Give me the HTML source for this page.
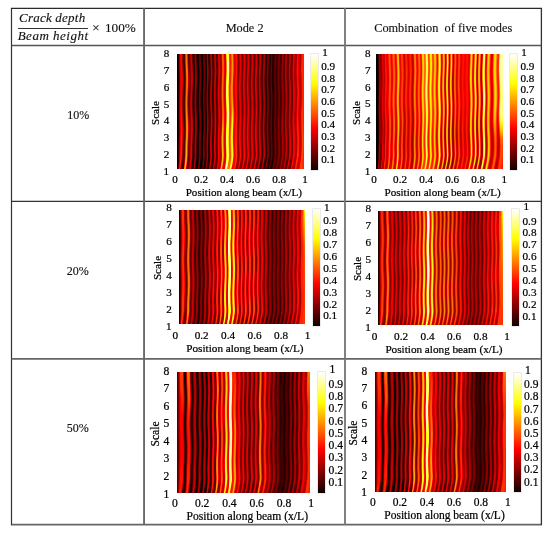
<!DOCTYPE html>
<html><head><meta charset="utf-8"><title>Table</title><style>
html,body{margin:0;padding:0;background:#fff;}
body{width:550px;height:538px;position:relative;overflow:hidden;font-family:"Liberation Serif",serif;color:#1a1a1a;}
.a{position:absolute;}
.ln{position:absolute;background:#3a3a3a;}
.t{position:absolute;white-space:pre;line-height:1;color:#111;-webkit-text-stroke:0.15px #222;}
.hm{overflow:hidden;filter:blur(0.3px)}.hm i{position:absolute;left:0;width:100%;display:block}
.tk{position:absolute;white-space:pre;line-height:1;font-size:10.5px;color:#000;-webkit-text-stroke:0.22px #000;}
</style></head><body>
<svg class="a" style="left:0;top:0" width="550" height="538" viewBox="0 0 550 538"><line x1="10.9" y1="8.35" x2="542.05" y2="8.35" stroke="#2a2a2a" stroke-width="1.15"/><line x1="10.9" y1="524.7" x2="542.05" y2="524.7" stroke="#666" stroke-width="1.7"/><line x1="11.5" y1="8.35" x2="11.5" y2="524.7" stroke="#333" stroke-width="1.2"/><line x1="541.4" y1="8.35" x2="541.4" y2="524.7" stroke="#333" stroke-width="1.3"/><line x1="11.5" y1="45.6" x2="541.4" y2="45.6" stroke="#555" stroke-width="1.5"/><line x1="11.5" y1="201.4" x2="541.4" y2="201.4" stroke="#333" stroke-width="1.2"/><line x1="11.5" y1="358.9" x2="541.4" y2="358.9" stroke="#666" stroke-width="1.8"/><line x1="144.05" y1="8.35" x2="144.05" y2="524.7" stroke="#666" stroke-width="1.85"/><line x1="345.0" y1="8.35" x2="345.0" y2="524.7" stroke="#777" stroke-width="1.85"/></svg>
<div class="t" style="left:244.6px;top:21.76px;font-size:12.3px;transform:translateX(-50%);">Mode 2</div>
<div class="t" style="left:443.2px;top:21.56px;font-size:12.3px;transform:translateX(-50%);">Combination  of five modes</div>
<div class="t" style="left:78.3px;top:109.01px;font-size:12px;transform:translateX(-50%);">10%</div>
<div class="t" style="left:77.8px;top:264.71px;font-size:12px;transform:translateX(-50%);">20%</div>
<div class="t" style="left:77.8px;top:421.91px;font-size:12px;transform:translateX(-50%);">50%</div>
<div class="t" style="left:52.2px;top:10.99px;font-size:13px;transform:translateX(-50%);font-style:italic;letter-spacing:0.22px;">Crack depth</div>
<div class="t" style="left:53.1px;top:29.09px;font-size:13px;transform:translateX(-50%);font-style:italic;letter-spacing:0.5px;">Beam height</div>
<div class="ln" style="left:17.9px;top:27.5px;width:70.2px;height:1.0px;background:#333"></div>
<div class="t" style="left:92.3px;top:21.39px;font-size:13px;">×</div>
<div class="t" style="left:105.0px;top:21.23px;font-size:13.2px;">100%</div>
<div class="a hm" style="left:177.3px;top:54.0px;width:126.8px;height:115.0px"><i style="top:0.00px;height:116.05px;background:linear-gradient(90deg,#000,#000,#100,#200,#500,#900,#c00,#e00,#f00,#f00,#d00,#900,#500,#300,#300,#500,#b00,#f20,#f70,#f70,#f60,#f00,#900,#600,#600,#600,#800,#b00,#c00,#c00,#a00,#500,#200,#100,#200,#600,#900,#900,#800,#400,#100,#000,#000,#200,#500,#700,#700,#500,#200,#000,#000,#100,#400,#600,#700,#500,#100,#100,#100,#600,#900,#900,#600,#200,#200,#200,#600,#a00,#b00,#a00,#600,#300,#300,#400,#800,#c00,#c00,#a00,#600,#400,#400,#600,#b00,#e00,#d00,#c00,#a00,#900,#900,#d00,#f40,#f60,#f50,#f30,#f00,#d00,#c00,#d00,#f50,#ff0,#ffa,#ffb,#ffa,#ff1,#f70,#f20,#f10,#f20,#f40,#f70,#f90,#f90,#f60,#f10,#d00,#d00,#d00,#f00,#f10,#f10,#f00,#a00,#700,#700,#800,#b00,#e00,#e00,#c00,#800,#600,#600,#700,#b00,#e00,#e00,#c00,#900,#600,#600,#800,#b00,#e00,#d00,#b00,#700,#500,#500,#700,#a00,#d00,#d00,#c00,#800,#600,#500,#600,#900,#c00,#d00,#c00,#800,#400,#400,#500,#900,#c00,#c00,#900,#500,#300,#300,#400,#700,#a00,#a00,#900,#400,#200,#200,#300,#600,#800,#700,#500,#200,#100,#200,#400,#500,#600,#400,#200,#100,#200,#300,#600,#600,#500,#400,#300,#300,#400,#600,#700,#700,#600,#400,#400,#400,#700,#900,#900,#800,#600,#500,#500,#800,#a00,#b00,#900,#600,#500,#500,#600,#a00,#c00,#c00,#900,#600,#600,#600,#a00,#d00,#e00,#d00,#b00,#900,#900,#900,#c00,#f00,#f10,#f00,#e00,#c00,#b00,#b00,#c00,#e00,#f20,#f20,#f20,#f20,#f20)"></i><i style="top:0.00px;height:116.05px;-webkit-mask-image:linear-gradient(180deg,transparent 0.00px,#000 8.39px);mask-image:linear-gradient(180deg,transparent 0.00px,#000 8.39px);background:linear-gradient(90deg,#000,#000,#000,#200,#500,#900,#c00,#e00,#f00,#f00,#d00,#900,#500,#300,#300,#400,#900,#f10,#f60,#f70,#f70,#f20,#b00,#600,#600,#600,#700,#a00,#c00,#c00,#c00,#700,#200,#100,#200,#400,#800,#900,#900,#600,#200,#000,#000,#100,#300,#600,#700,#600,#400,#100,#000,#000,#200,#500,#700,#700,#400,#100,#100,#200,#700,#900,#800,#400,#200,#200,#300,#700,#b00,#b00,#900,#500,#300,#300,#500,#900,#c00,#c00,#900,#500,#400,#400,#700,#c00,#e00,#d00,#b00,#900,#900,#a00,#f00,#f50,#f60,#f50,#f20,#e00,#d00,#c00,#f00,#f80,#ff3,#ffb,#ffb,#ff8,#fd0,#f50,#f10,#f10,#f30,#f50,#f80,#f90,#f80,#f40,#f00,#d00,#d00,#e00,#f00,#f10,#f10,#d00,#900,#700,#700,#a00,#d00,#e00,#d00,#a00,#700,#600,#600,#900,#d00,#e00,#d00,#a00,#700,#600,#700,#a00,#d00,#e00,#c00,#800,#600,#500,#600,#900,#d00,#d00,#c00,#900,#600,#500,#600,#900,#c00,#d00,#c00,#800,#400,#400,#500,#900,#c00,#c00,#900,#500,#300,#300,#500,#800,#a00,#a00,#800,#300,#200,#200,#400,#700,#800,#700,#400,#200,#100,#200,#500,#600,#500,#300,#200,#100,#200,#500,#600,#600,#500,#400,#300,#400,#500,#700,#700,#700,#500,#400,#400,#500,#800,#900,#900,#700,#500,#500,#600,#a00,#b00,#a00,#700,#500,#500,#600,#900,#c00,#c00,#a00,#700,#600,#600,#800,#d00,#e00,#e00,#b00,#900,#900,#900,#b00,#f00,#f10,#f10,#e00,#c00,#b00,#b00,#b00,#e00,#f10,#f20,#f20,#f20,#f20,#f20)"></i><i style="top:8.00px;height:108.05px;-webkit-mask-image:linear-gradient(180deg,transparent 0.39px,#000 8.77px);mask-image:linear-gradient(180deg,transparent 0.39px,#000 8.77px);background:linear-gradient(90deg,#000,#000,#000,#200,#400,#800,#b00,#d00,#f00,#f00,#f00,#c00,#800,#500,#300,#300,#600,#b00,#f30,#f70,#f70,#f60,#f00,#900,#600,#600,#600,#800,#a00,#c00,#c00,#b00,#600,#200,#100,#200,#500,#800,#900,#800,#500,#100,#000,#000,#100,#400,#600,#700,#600,#300,#000,#000,#000,#300,#600,#700,#600,#200,#100,#100,#400,#900,#900,#700,#300,#200,#200,#400,#900,#b00,#b00,#700,#300,#300,#300,#700,#b00,#c00,#b00,#700,#400,#400,#600,#b00,#e00,#e00,#c00,#a00,#900,#900,#d00,#f40,#f60,#f50,#f30,#f00,#d00,#c00,#e00,#f70,#ff2,#ffb,#ffb,#ff9,#fe0,#f50,#f20,#f20,#f30,#f60,#f80,#f90,#f80,#f40,#e00,#d00,#d00,#e00,#f00,#f10,#f10,#c00,#800,#700,#800,#a00,#d00,#e00,#d00,#900,#600,#600,#700,#b00,#e00,#e00,#c00,#800,#600,#600,#800,#c00,#e00,#d00,#a00,#700,#500,#500,#800,#b00,#d00,#d00,#a00,#700,#500,#500,#700,#b00,#d00,#d00,#a00,#500,#400,#500,#800,#c00,#c00,#a00,#600,#300,#300,#400,#700,#a00,#a00,#900,#500,#200,#200,#300,#600,#800,#700,#500,#200,#100,#200,#400,#600,#600,#400,#200,#100,#200,#400,#600,#600,#500,#400,#300,#300,#500,#600,#700,#700,#500,#400,#400,#500,#700,#900,#900,#700,#500,#500,#600,#800,#b00,#b00,#900,#600,#500,#500,#700,#b00,#c00,#c00,#800,#600,#600,#700,#a00,#e00,#e00,#d00,#a00,#900,#900,#a00,#d00,#f10,#f10,#f00,#e00,#c00,#b00,#b00,#c00,#e00,#f20,#f20,#f20,#f20,#f20,#f20)"></i><i style="top:16.00px;height:100.05px;-webkit-mask-image:linear-gradient(180deg,transparent 0.77px,#000 9.16px);mask-image:linear-gradient(180deg,transparent 0.77px,#000 9.16px);background:linear-gradient(90deg,#000,#000,#000,#200,#400,#700,#a00,#c00,#e00,#f00,#f00,#e00,#a00,#600,#400,#300,#400,#800,#f00,#f50,#f70,#f70,#f30,#c00,#700,#600,#600,#700,#a00,#c00,#c00,#c00,#700,#300,#100,#200,#400,#800,#900,#900,#600,#200,#000,#000,#100,#400,#600,#700,#600,#300,#000,#000,#000,#300,#600,#700,#600,#200,#100,#100,#500,#900,#900,#600,#200,#200,#200,#500,#a00,#b00,#a00,#600,#300,#300,#400,#900,#c00,#c00,#900,#500,#400,#400,#800,#c00,#e00,#d00,#b00,#900,#900,#b00,#f20,#f60,#f60,#f40,#f10,#d00,#c00,#d00,#f30,#fd0,#ff9,#ffb,#ffb,#ff3,#f80,#f20,#f20,#f20,#f50,#f70,#f90,#f90,#f50,#f00,#d00,#d00,#e00,#f00,#f10,#f10,#d00,#900,#700,#700,#a00,#d00,#e00,#d00,#a00,#700,#600,#700,#a00,#d00,#e00,#d00,#900,#600,#600,#700,#b00,#d00,#e00,#b00,#700,#500,#500,#700,#a00,#d00,#d00,#b00,#800,#500,#500,#600,#a00,#d00,#d00,#b00,#700,#400,#400,#600,#a00,#c00,#b00,#800,#400,#300,#300,#500,#900,#a00,#a00,#700,#300,#200,#200,#400,#700,#800,#700,#300,#100,#100,#200,#500,#600,#500,#300,#200,#100,#200,#400,#600,#600,#500,#400,#300,#300,#500,#700,#700,#700,#500,#400,#400,#500,#700,#900,#900,#800,#500,#500,#500,#800,#b00,#b00,#900,#600,#500,#500,#700,#b00,#c00,#c00,#900,#600,#600,#600,#900,#d00,#e00,#d00,#b00,#900,#900,#900,#b00,#f00,#f10,#f10,#e00,#c00,#b00,#b00,#b00,#d00,#f00,#f20,#f20,#f20,#f20,#f20)"></i><i style="top:25.00px;height:91.05px;-webkit-mask-image:linear-gradient(180deg,transparent 0.16px,#000 8.54px);mask-image:linear-gradient(180deg,transparent 0.16px,#000 8.54px);background:linear-gradient(90deg,#000,#000,#000,#200,#400,#700,#a00,#d00,#e00,#f00,#f00,#d00,#900,#500,#300,#300,#500,#a00,#f20,#f60,#f70,#f60,#f10,#a00,#600,#600,#600,#800,#b00,#c00,#c00,#a00,#500,#100,#100,#300,#600,#900,#900,#700,#300,#000,#000,#000,#300,#600,#700,#700,#400,#100,#000,#000,#200,#500,#700,#700,#300,#100,#100,#300,#800,#900,#700,#300,#200,#200,#400,#900,#b00,#b00,#700,#300,#300,#400,#800,#c00,#c00,#a00,#600,#400,#400,#700,#b00,#e00,#d00,#b00,#900,#900,#a00,#f00,#f50,#f60,#f50,#f20,#e00,#d00,#c00,#f00,#f90,#ff5,#ffb,#ffb,#ff7,#fb0,#f40,#f20,#f20,#f40,#f60,#f90,#f90,#f70,#f30,#d00,#d00,#d00,#e00,#f10,#f10,#f00,#b00,#800,#700,#800,#b00,#e00,#e00,#c00,#900,#600,#600,#700,#b00,#e00,#e00,#c00,#800,#600,#600,#800,#c00,#e00,#d00,#b00,#700,#500,#500,#700,#b00,#d00,#d00,#b00,#800,#500,#500,#600,#a00,#d00,#d00,#c00,#700,#400,#400,#600,#a00,#c00,#c00,#900,#500,#300,#300,#500,#800,#a00,#a00,#800,#400,#200,#200,#300,#600,#800,#700,#500,#200,#100,#200,#400,#500,#600,#400,#200,#100,#100,#300,#500,#600,#600,#400,#300,#300,#400,#600,#700,#700,#600,#500,#400,#400,#600,#800,#900,#900,#700,#500,#500,#600,#900,#b00,#b00,#800,#500,#500,#500,#800,#b00,#c00,#c00,#800,#600,#600,#600,#a00,#e00,#e00,#d00,#b00,#900,#900,#900,#c00,#f00,#f10,#f10,#e00,#c00,#b00,#b00,#b00,#e00,#f10,#f20,#f20,#f20,#f20)"></i><i style="top:33.00px;height:83.05px;-webkit-mask-image:linear-gradient(180deg,transparent 0.54px,#000 8.93px);mask-image:linear-gradient(180deg,transparent 0.54px,#000 8.93px);background:linear-gradient(90deg,#000,#000,#000,#200,#500,#800,#b00,#e00,#f00,#f00,#e00,#a00,#600,#400,#300,#400,#800,#f00,#f60,#f70,#f70,#f20,#b00,#600,#600,#600,#700,#a00,#c00,#c00,#b00,#600,#200,#100,#200,#500,#900,#900,#800,#500,#100,#000,#000,#200,#500,#700,#700,#500,#200,#000,#000,#100,#400,#600,#700,#500,#100,#100,#100,#600,#900,#800,#500,#200,#200,#200,#600,#b00,#b00,#900,#500,#300,#300,#500,#900,#c00,#c00,#900,#500,#400,#400,#800,#c00,#e00,#d00,#b00,#900,#900,#a00,#f10,#f50,#f60,#f50,#f20,#e00,#c00,#c00,#f10,#fa0,#ff5,#ffb,#ffb,#ff7,#fc0,#f50,#f20,#f20,#f40,#f60,#f80,#f90,#f80,#f40,#e00,#d00,#d00,#e00,#f00,#f10,#f10,#c00,#800,#700,#700,#a00,#d00,#e00,#d00,#a00,#700,#600,#600,#900,#d00,#e00,#d00,#a00,#700,#600,#700,#a00,#d00,#e00,#c00,#900,#600,#500,#600,#800,#c00,#d00,#d00,#a00,#700,#500,#500,#700,#b00,#d00,#d00,#a00,#600,#400,#400,#700,#b00,#c00,#b00,#800,#400,#300,#300,#500,#900,#a00,#a00,#700,#300,#200,#200,#400,#700,#800,#700,#400,#200,#100,#200,#400,#600,#500,#400,#200,#100,#200,#400,#600,#600,#500,#400,#300,#300,#400,#600,#700,#700,#600,#400,#400,#400,#700,#900,#900,#800,#600,#500,#500,#700,#a00,#b00,#a00,#700,#500,#500,#600,#a00,#c00,#c00,#a00,#700,#600,#600,#900,#d00,#e00,#e00,#b00,#900,#900,#900,#b00,#f00,#f10,#f10,#e00,#c00,#b00,#b00,#b00,#d00,#f10,#f20,#f20,#f20,#f20)"></i><i style="top:41.00px;height:75.05px;-webkit-mask-image:linear-gradient(180deg,transparent 0.93px,#000 9.31px);mask-image:linear-gradient(180deg,transparent 0.93px,#000 9.31px);background:linear-gradient(90deg,#000,#000,#100,#200,#600,#900,#c00,#e00,#f00,#f00,#d00,#800,#500,#300,#300,#500,#b00,#f20,#f70,#f70,#f60,#f00,#900,#600,#600,#600,#800,#b00,#c00,#c00,#a00,#500,#200,#100,#200,#600,#900,#900,#800,#400,#100,#000,#000,#200,#500,#700,#700,#500,#200,#000,#000,#100,#300,#600,#700,#500,#200,#100,#100,#500,#900,#900,#600,#300,#200,#200,#500,#a00,#b00,#b00,#700,#300,#300,#300,#700,#b00,#c00,#b00,#700,#400,#400,#600,#a00,#d00,#e00,#c00,#a00,#900,#900,#c00,#f30,#f60,#f60,#f40,#f10,#d00,#c00,#d00,#f30,#fd0,#ff9,#ffb,#ffb,#ff4,#f90,#f30,#f20,#f30,#f50,#f70,#f90,#fa0,#f70,#f20,#d00,#d00,#d00,#e00,#f10,#f10,#f00,#b00,#800,#700,#800,#b00,#e00,#e00,#d00,#900,#600,#600,#700,#a00,#d00,#e00,#d00,#900,#600,#600,#700,#b00,#d00,#e00,#c00,#800,#500,#500,#600,#a00,#d00,#d00,#c00,#900,#600,#500,#600,#900,#c00,#d00,#c00,#800,#500,#400,#500,#900,#c00,#c00,#a00,#600,#300,#300,#400,#700,#a00,#a00,#900,#400,#200,#200,#300,#600,#800,#700,#500,#200,#100,#200,#400,#500,#600,#400,#200,#100,#200,#400,#600,#600,#500,#400,#300,#300,#400,#600,#700,#700,#600,#400,#400,#400,#700,#900,#900,#800,#600,#500,#500,#800,#b00,#b00,#900,#600,#500,#500,#700,#b00,#c00,#c00,#900,#600,#600,#600,#a00,#e00,#e00,#d00,#a00,#900,#900,#a00,#d00,#f10,#f10,#f00,#d00,#b00,#b00,#b00,#c00,#f00,#f20,#f20,#f20,#f20,#f20)"></i><i style="top:50.00px;height:66.05px;-webkit-mask-image:linear-gradient(180deg,transparent 0.31px,#000 8.70px);mask-image:linear-gradient(180deg,transparent 0.31px,#000 8.70px);background:linear-gradient(90deg,#000,#000,#000,#200,#500,#900,#c00,#e00,#f10,#f10,#e00,#a00,#600,#400,#300,#400,#900,#f00,#f60,#f80,#f70,#f30,#c00,#700,#600,#600,#700,#a00,#c00,#d00,#c00,#800,#300,#100,#100,#400,#700,#900,#900,#700,#300,#000,#000,#100,#300,#600,#700,#700,#500,#100,#000,#000,#100,#400,#700,#700,#500,#100,#100,#200,#700,#900,#800,#500,#200,#200,#200,#600,#b00,#b00,#a00,#600,#300,#300,#400,#900,#c00,#c00,#a00,#600,#400,#400,#700,#c00,#e00,#e00,#c00,#a00,#900,#a00,#e00,#f50,#f60,#f60,#f30,#f00,#d00,#d00,#e00,#f70,#ff2,#ffa,#ffb,#ff9,#fe0,#f60,#f20,#f20,#f40,#f70,#fb0,#fc0,#fc0,#f70,#f10,#d00,#d00,#e00,#f00,#f10,#f10,#d00,#900,#700,#700,#a00,#d00,#e00,#e00,#a00,#700,#600,#700,#a00,#d00,#e00,#e00,#a00,#700,#600,#700,#b00,#e00,#e00,#c00,#800,#600,#600,#600,#a00,#d00,#e00,#c00,#900,#600,#600,#600,#900,#d00,#e00,#c00,#700,#400,#400,#600,#a00,#c00,#c00,#900,#500,#300,#300,#500,#900,#b00,#a00,#700,#300,#200,#200,#400,#700,#800,#700,#300,#100,#100,#300,#500,#600,#500,#300,#100,#100,#300,#500,#600,#600,#500,#400,#300,#400,#600,#700,#700,#600,#500,#400,#400,#600,#900,#900,#900,#600,#500,#500,#700,#a00,#b00,#a00,#700,#500,#500,#600,#a00,#d00,#d00,#a00,#700,#600,#600,#900,#d00,#e00,#e00,#b00,#900,#900,#900,#c00,#f00,#f10,#f10,#e00,#c00,#b00,#b00,#c00,#e00,#f20,#f30,#f30,#f20,#f20,#f20)"></i><i style="top:58.00px;height:58.05px;-webkit-mask-image:linear-gradient(180deg,transparent 0.70px,#000 9.08px);mask-image:linear-gradient(180deg,transparent 0.70px,#000 9.08px);background:linear-gradient(90deg,#000,#000,#000,#200,#500,#800,#b00,#e00,#f00,#f10,#f10,#d00,#900,#500,#300,#300,#500,#b00,#f30,#f80,#f90,#f70,#f20,#b00,#700,#600,#600,#800,#b00,#d00,#d00,#c00,#700,#200,#100,#200,#500,#900,#a00,#900,#600,#200,#000,#000,#100,#400,#700,#700,#600,#300,#100,#000,#000,#300,#600,#700,#600,#300,#100,#100,#400,#900,#900,#700,#300,#200,#200,#500,#a00,#c00,#b00,#800,#400,#300,#400,#800,#c00,#d00,#b00,#700,#400,#400,#600,#b00,#e00,#e00,#c00,#a00,#900,#a00,#f00,#f60,#f80,#f70,#f40,#f00,#d00,#d00,#f00,#f80,#ff3,#ffb,#ffb,#ff8,#fd0,#f50,#f30,#f30,#f50,#fa0,#fe0,#ff0,#fd0,#f60,#f00,#e00,#e00,#f00,#f10,#f20,#f10,#c00,#800,#800,#800,#c00,#e00,#f00,#d00,#900,#700,#700,#800,#c00,#f00,#f00,#c00,#800,#700,#700,#900,#d00,#e00,#e00,#a00,#600,#600,#600,#900,#d00,#e00,#d00,#a00,#700,#600,#600,#900,#c00,#e00,#d00,#900,#500,#400,#500,#900,#c00,#d00,#a00,#600,#300,#300,#500,#800,#b00,#b00,#900,#400,#200,#200,#400,#700,#800,#800,#400,#200,#200,#200,#500,#600,#600,#400,#200,#200,#200,#400,#600,#600,#500,#400,#400,#400,#500,#700,#800,#700,#600,#400,#400,#500,#800,#a00,#a00,#800,#600,#500,#600,#900,#b00,#b00,#900,#600,#500,#500,#800,#c00,#d00,#c00,#900,#600,#600,#700,#b00,#e00,#f00,#e00,#b00,#900,#900,#a00,#d00,#f10,#f20,#f10,#e00,#c00,#b00,#b00,#c00,#f00,#f20,#f30,#f30,#f30,#f20,#f20)"></i><i style="top:67.00px;height:49.05px;-webkit-mask-image:linear-gradient(180deg,transparent 0.08px,#000 8.47px);mask-image:linear-gradient(180deg,transparent 0.08px,#000 8.47px);background:linear-gradient(90deg,#000,#000,#000,#200,#400,#700,#a00,#d00,#f00,#f10,#f10,#f00,#b00,#700,#400,#400,#400,#900,#f10,#f70,#f90,#f90,#f40,#d00,#700,#600,#600,#800,#a00,#d00,#d00,#c00,#800,#300,#200,#200,#500,#900,#a00,#900,#600,#200,#000,#000,#100,#500,#700,#700,#600,#300,#000,#000,#100,#400,#700,#700,#600,#200,#100,#100,#600,#a00,#900,#600,#200,#200,#200,#700,#b00,#c00,#a00,#600,#300,#300,#500,#a00,#d00,#d00,#900,#500,#500,#500,#900,#e00,#f00,#e00,#b00,#a00,#a00,#d00,#f60,#fa0,#f90,#f70,#f20,#e00,#d00,#d00,#f50,#ff0,#ffa,#ffb,#ffa,#ff1,#f80,#f30,#f30,#f50,#f90,#fd0,#ff0,#ff0,#f90,#f10,#e00,#e00,#f00,#f10,#f20,#f20,#d00,#900,#800,#800,#b00,#e00,#f00,#e00,#a00,#700,#700,#700,#b00,#f00,#f00,#e00,#900,#700,#700,#800,#c00,#f00,#f00,#c00,#800,#600,#600,#800,#c00,#e00,#e00,#c00,#800,#600,#600,#700,#b00,#e00,#e00,#c00,#700,#500,#500,#700,#b00,#d00,#c00,#900,#500,#300,#300,#600,#900,#b00,#b00,#700,#300,#200,#200,#500,#700,#800,#700,#400,#200,#200,#300,#500,#600,#600,#400,#200,#200,#200,#500,#600,#600,#600,#400,#400,#400,#500,#700,#800,#800,#600,#500,#400,#500,#800,#a00,#a00,#900,#600,#500,#600,#800,#b00,#c00,#a00,#700,#500,#500,#700,#b00,#d00,#d00,#b00,#700,#600,#600,#900,#e00,#f00,#f00,#d00,#a00,#a00,#a00,#c00,#f00,#f20,#f20,#f10,#e00,#c00,#c00,#c00,#e00,#f10,#f30,#f40,#f30,#f20,#f20)"></i><i style="top:75.00px;height:41.05px;-webkit-mask-image:linear-gradient(180deg,transparent 0.47px,#000 8.85px);mask-image:linear-gradient(180deg,transparent 0.47px,#000 8.85px);background:linear-gradient(90deg,#000,#000,#000,#200,#500,#800,#b00,#e00,#f10,#f20,#f20,#e00,#a00,#500,#400,#400,#600,#c00,#f50,#f90,#fa0,#f70,#f10,#a00,#600,#600,#700,#900,#c00,#e00,#e00,#a00,#400,#200,#200,#400,#800,#a00,#a00,#700,#300,#000,#000,#100,#400,#700,#700,#700,#400,#100,#000,#000,#300,#600,#700,#700,#300,#100,#100,#500,#900,#a00,#700,#300,#200,#200,#500,#b00,#c00,#b00,#700,#300,#300,#400,#900,#d00,#d00,#b00,#600,#500,#500,#800,#d00,#f00,#f00,#c00,#a00,#a00,#b00,#f40,#fa0,#fb0,#f90,#f40,#f00,#d00,#d00,#f10,#fa0,#ff6,#ffb,#ffb,#ff6,#fc0,#f50,#f40,#f40,#f70,#fc0,#ff0,#ff1,#fd0,#f60,#f00,#e00,#e00,#f10,#f20,#f30,#f20,#c00,#800,#800,#900,#c00,#f00,#f00,#e00,#a00,#700,#700,#800,#c00,#f00,#f00,#e00,#900,#700,#700,#900,#d00,#f00,#f00,#c00,#800,#600,#600,#800,#b00,#e00,#f00,#d00,#900,#600,#600,#700,#a00,#e00,#f00,#d00,#800,#500,#500,#600,#a00,#d00,#d00,#a00,#600,#300,#300,#500,#800,#b00,#b00,#a00,#500,#200,#200,#300,#600,#800,#800,#600,#200,#200,#200,#400,#600,#600,#500,#300,#200,#200,#300,#600,#700,#600,#500,#400,#400,#400,#600,#800,#800,#700,#600,#500,#400,#600,#800,#a00,#a00,#800,#600,#600,#600,#900,#c00,#c00,#a00,#600,#500,#500,#800,#c00,#e00,#d00,#a00,#700,#600,#700,#b00,#f00,#f00,#f00,#c00,#a00,#a00,#a00,#d00,#f10,#f30,#f20,#f10,#d00,#c00,#c00,#c00,#f00,#f30,#f40,#f40,#f30,#f20)"></i><i style="top:83.00px;height:33.05px;-webkit-mask-image:linear-gradient(180deg,transparent 0.85px,#000 9.24px);mask-image:linear-gradient(180deg,transparent 0.85px,#000 9.24px);background:linear-gradient(90deg,#000,#000,#100,#300,#600,#900,#d00,#f00,#f20,#f20,#f00,#b00,#600,#400,#400,#500,#a00,#f30,#f80,#fa0,#f90,#f30,#b00,#700,#600,#700,#900,#b00,#d00,#e00,#c00,#600,#200,#200,#200,#600,#a00,#a00,#900,#500,#100,#000,#000,#200,#500,#700,#700,#600,#200,#000,#000,#100,#400,#700,#800,#500,#100,#100,#200,#700,#a00,#900,#600,#200,#200,#200,#700,#c00,#c00,#b00,#600,#300,#300,#500,#a00,#d00,#d00,#a00,#600,#500,#500,#800,#d00,#f00,#f00,#c00,#a00,#a00,#b00,#f30,#fa0,#fb0,#f90,#f50,#f00,#d00,#d00,#f00,#f90,#ff4,#ffb,#ffb,#ff8,#fe0,#f70,#f40,#f40,#f60,#fa0,#fe0,#ff1,#ff0,#f90,#f20,#e00,#e00,#f00,#f20,#f30,#f30,#f00,#a00,#800,#800,#a00,#e00,#f00,#f00,#c00,#800,#700,#700,#900,#d00,#f00,#f00,#c00,#800,#700,#700,#a00,#e00,#f00,#e00,#b00,#700,#600,#600,#900,#d00,#f00,#e00,#c00,#800,#600,#600,#700,#b00,#e00,#f00,#c00,#700,#500,#500,#700,#b00,#d00,#d00,#900,#500,#300,#300,#500,#900,#b00,#b00,#900,#400,#200,#200,#400,#700,#800,#800,#500,#200,#200,#200,#400,#600,#600,#400,#200,#200,#200,#400,#600,#700,#600,#500,#400,#400,#500,#700,#800,#800,#700,#500,#500,#500,#700,#a00,#a00,#900,#700,#600,#600,#800,#b00,#c00,#b00,#700,#500,#500,#700,#b00,#e00,#e00,#b00,#700,#600,#600,#a00,#e00,#f00,#f00,#d00,#a00,#a00,#a00,#d00,#f10,#f30,#f20,#f10,#d00,#c00,#c00,#d00,#f00,#f30,#f40,#f40,#f30,#f20)"></i><i style="top:92.00px;height:24.05px;-webkit-mask-image:linear-gradient(180deg,transparent 0.24px,#000 8.62px);mask-image:linear-gradient(180deg,transparent 0.24px,#000 8.62px);background:linear-gradient(90deg,#000,#000,#100,#300,#600,#a00,#e00,#f10,#f20,#f20,#e00,#900,#500,#400,#400,#600,#c00,#f40,#f90,#fa0,#f80,#f20,#b00,#700,#600,#700,#900,#c00,#e00,#e00,#c00,#600,#200,#200,#200,#600,#a00,#a00,#900,#500,#100,#000,#000,#200,#500,#700,#800,#600,#300,#000,#000,#100,#300,#700,#800,#700,#200,#100,#100,#500,#900,#a00,#700,#300,#200,#200,#500,#a00,#c00,#c00,#800,#400,#300,#300,#700,#c00,#d00,#c00,#800,#500,#500,#600,#a00,#f00,#f00,#e00,#b00,#a00,#a00,#d00,#f60,#fb0,#fb0,#f90,#f40,#e00,#d00,#d00,#f20,#fb0,#ff7,#ffb,#ffb,#ff6,#fc0,#f60,#f50,#f50,#f70,#fc0,#ff0,#ff2,#fe0,#f70,#f10,#e00,#e00,#f10,#f20,#f30,#f20,#d00,#900,#800,#800,#b00,#f00,#f10,#e00,#b00,#700,#700,#700,#b00,#f00,#f10,#f00,#b00,#700,#700,#800,#c00,#f00,#f00,#d00,#900,#600,#600,#700,#a00,#e00,#f00,#e00,#a00,#700,#600,#600,#900,#d00,#f00,#e00,#900,#500,#500,#600,#a00,#d00,#d00,#b00,#600,#400,#300,#500,#800,#b00,#c00,#a00,#500,#200,#200,#300,#700,#800,#800,#500,#200,#200,#200,#400,#600,#600,#400,#200,#200,#200,#400,#600,#700,#600,#400,#400,#400,#500,#700,#800,#800,#600,#500,#500,#500,#800,#a00,#a00,#800,#600,#600,#600,#900,#c00,#c00,#900,#600,#500,#500,#800,#d00,#e00,#d00,#900,#600,#600,#800,#c00,#f00,#f10,#e00,#b00,#a00,#a00,#b00,#f00,#f30,#f30,#f20,#e00,#c00,#c00,#c00,#e00,#f20,#f40,#f40,#f40,#f20,#f20)"></i><i style="top:100.00px;height:16.05px;-webkit-mask-image:linear-gradient(180deg,transparent 0.62px,#000 3.50px);mask-image:linear-gradient(180deg,transparent 0.62px,#000 3.50px);background:linear-gradient(90deg,#000,#000,#100,#300,#700,#b00,#e00,#f10,#f20,#f10,#c00,#700,#400,#400,#400,#700,#d00,#f60,#fa0,#fa0,#f60,#e00,#800,#600,#600,#700,#900,#c00,#e00,#e00,#a00,#400,#200,#200,#300,#600,#a00,#a00,#800,#400,#000,#000,#000,#200,#500,#700,#800,#500,#200,#000,#000,#100,#400,#700,#800,#600,#100,#100,#100,#500,#a00,#a00,#600,#200,#200,#200,#500,#a00,#c00,#c00,#700,#300,#300,#300,#700,#c00,#d00,#c00,#700,#500,#500,#600,#b00,#f00,#f00,#d00,#b00,#a00,#a00,#d00,#f70,#fb0,#fb0,#f70,#f20,#e00,#d00,#d00,#f20,#fc0,#ff8,#ffb,#ffa,#ff4,#fa0,#f50,#f50,#f50,#f80,#fc0,#ff1,#ff2,#fc0,#f40,#e00,#e00,#f00,#f10,#f20,#f30,#f10,#b00,#800,#800,#900,#c00,#f00,#f10,#d00,#900,#700,#700,#800,#c00,#f00,#f10,#d00,#900,#700,#700,#800,#d00,#f00,#f00,#b00,#700,#600,#600,#800,#c00,#f00,#f00,#c00,#800,#600,#600,#700,#b00,#e00,#f00,#c00,#600,#500,#500,#700,#b00,#d00,#c00,#800,#400,#300,#400,#600,#a00,#c00,#b00,#600,#200,#200,#200,#500,#800,#800,#600,#300,#200,#200,#300,#600,#600,#500,#300,#200,#200,#300,#600,#700,#600,#500,#400,#400,#400,#600,#800,#800,#700,#500,#500,#500,#700,#a00,#a00,#900,#600,#600,#600,#800,#b00,#c00,#a00,#700,#500,#500,#700,#b00,#e00,#d00,#a00,#700,#600,#700,#a00,#f00,#f10,#e00,#c00,#a00,#a00,#a00,#d00,#f20,#f30,#f20,#f00,#d00,#c00,#c00,#d00,#f10,#f30,#f40,#f40,#f30,#f20,#f20)"></i><i style="top:103.00px;height:13.05px;-webkit-mask-image:linear-gradient(180deg,transparent 0.50px,#000 3.38px);mask-image:linear-gradient(180deg,transparent 0.50px,#000 3.38px);background:linear-gradient(90deg,#000,#000,#100,#300,#700,#c00,#f00,#f20,#f20,#e00,#900,#500,#400,#400,#400,#900,#f20,#f90,#fb0,#f90,#f30,#b00,#600,#600,#600,#700,#a00,#d00,#e00,#c00,#600,#200,#200,#200,#400,#800,#a00,#a00,#600,#100,#000,#000,#000,#300,#600,#800,#700,#300,#000,#000,#000,#100,#500,#700,#700,#300,#100,#100,#100,#700,#a00,#800,#400,#200,#200,#200,#600,#c00,#c00,#900,#500,#300,#300,#400,#900,#d00,#d00,#900,#500,#500,#500,#700,#d00,#f00,#e00,#c00,#a00,#a00,#a00,#f10,#fa0,#fc0,#f90,#f40,#f00,#d00,#d00,#e00,#f60,#ff1,#ffa,#ffb,#ff7,#fd0,#f60,#f50,#f50,#f60,#fa0,#ff0,#ff3,#ff0,#f70,#f00,#e00,#e00,#f00,#f20,#f30,#f20,#d00,#800,#800,#800,#a00,#e00,#f10,#e00,#a00,#700,#700,#700,#a00,#e00,#f10,#e00,#900,#700,#700,#700,#b00,#f00,#f00,#c00,#800,#600,#600,#700,#a00,#e00,#f00,#c00,#800,#600,#600,#600,#900,#e00,#f00,#c00,#600,#500,#500,#600,#a00,#d00,#d00,#800,#400,#300,#300,#500,#900,#c00,#b00,#600,#200,#200,#200,#400,#700,#800,#600,#200,#200,#200,#200,#500,#600,#500,#200,#200,#200,#200,#500,#700,#600,#500,#400,#400,#400,#600,#800,#800,#700,#500,#500,#500,#600,#900,#a00,#900,#600,#600,#600,#700,#b00,#c00,#a00,#600,#500,#500,#600,#a00,#e00,#d00,#a00,#600,#600,#600,#900,#e00,#f10,#e00,#b00,#a00,#a00,#a00,#d00,#f20,#f30,#f20,#f00,#d00,#c00,#c00,#d00,#f00,#f30,#f40,#f40,#f30,#f30,#f20,#f20)"></i><i style="top:106.00px;height:10.05px;-webkit-mask-image:linear-gradient(180deg,transparent 0.38px,#000 3.25px);mask-image:linear-gradient(180deg,transparent 0.38px,#000 3.25px);background:linear-gradient(90deg,#000,#000,#100,#400,#900,#d00,#f10,#f20,#f00,#a00,#600,#400,#400,#400,#600,#d00,#f70,#fc0,#fc0,#f60,#d00,#700,#600,#600,#700,#900,#c00,#e00,#d00,#800,#300,#200,#200,#200,#500,#a00,#a00,#700,#200,#000,#000,#000,#100,#400,#700,#700,#500,#100,#000,#000,#000,#300,#600,#800,#400,#100,#100,#100,#400,#900,#900,#500,#200,#200,#200,#300,#900,#d00,#b00,#500,#300,#300,#300,#700,#c00,#d00,#a00,#600,#500,#500,#500,#a00,#f00,#f00,#c00,#a00,#a00,#a00,#d00,#f70,#fc0,#fa0,#f50,#f00,#d00,#d00,#d00,#f20,#fc0,#ff9,#ffb,#ff8,#fe0,#f70,#f60,#f60,#f60,#f90,#fe0,#ff4,#ff2,#f80,#f00,#e00,#e00,#f00,#f10,#f30,#f20,#d00,#800,#800,#800,#900,#d00,#f10,#e00,#a00,#700,#700,#700,#900,#d00,#f10,#e00,#900,#700,#700,#700,#a00,#f00,#f00,#c00,#700,#600,#600,#600,#a00,#e00,#f00,#c00,#700,#600,#600,#600,#900,#d00,#f00,#b00,#600,#500,#500,#500,#a00,#d00,#c00,#700,#400,#300,#300,#500,#900,#c00,#a00,#500,#200,#200,#200,#400,#800,#800,#500,#200,#200,#200,#200,#500,#600,#500,#200,#200,#200,#200,#500,#700,#600,#400,#400,#400,#400,#600,#800,#800,#600,#500,#500,#500,#600,#900,#a00,#800,#600,#600,#600,#700,#b00,#c00,#900,#600,#500,#500,#600,#a00,#e00,#d00,#900,#600,#600,#600,#900,#e00,#f10,#e00,#b00,#a00,#a00,#a00,#c00,#f10,#f30,#f20,#e00,#c00,#c00,#c00,#c00,#f00,#f30,#f40,#f40,#f40,#f30,#f20,#f20,#f20)"></i><i style="top:109.00px;height:7.05px;-webkit-mask-image:linear-gradient(180deg,transparent 0.25px,#000 3.12px);mask-image:linear-gradient(180deg,transparent 0.25px,#000 3.12px);background:linear-gradient(90deg,#000,#000,#100,#500,#b00,#f00,#f20,#f10,#b00,#600,#400,#400,#400,#400,#a00,#f40,#fb0,#fd0,#f80,#e00,#700,#600,#600,#600,#700,#a00,#d00,#e00,#900,#300,#200,#200,#200,#400,#800,#a00,#800,#300,#000,#000,#000,#000,#300,#700,#800,#500,#100,#000,#000,#000,#100,#500,#800,#500,#100,#100,#100,#200,#800,#900,#500,#200,#200,#200,#200,#800,#c00,#b00,#600,#300,#300,#300,#500,#b00,#d00,#a00,#500,#500,#500,#500,#900,#e00,#f00,#c00,#a00,#a00,#a00,#b00,#f50,#fc0,#fa0,#f50,#f00,#d00,#d00,#d00,#f10,#fb0,#ff8,#ffb,#ff7,#fd0,#f70,#f60,#f60,#f60,#f90,#ff0,#ff5,#ff1,#f60,#f00,#e00,#e00,#f00,#f10,#f30,#f20,#b00,#800,#800,#800,#900,#d00,#f10,#d00,#800,#700,#700,#700,#900,#e00,#f10,#c00,#800,#700,#700,#700,#b00,#f00,#e00,#a00,#600,#600,#600,#600,#a00,#e00,#e00,#a00,#600,#600,#600,#600,#a00,#e00,#e00,#900,#500,#500,#500,#600,#b00,#d00,#b00,#500,#300,#300,#300,#500,#900,#c00,#900,#300,#200,#200,#200,#400,#800,#800,#400,#200,#200,#200,#300,#600,#600,#300,#200,#200,#200,#200,#600,#700,#500,#400,#400,#400,#400,#600,#800,#700,#500,#500,#500,#500,#600,#900,#a00,#700,#600,#600,#600,#700,#b00,#c00,#800,#500,#500,#500,#600,#a00,#e00,#c00,#800,#600,#600,#600,#900,#e00,#f10,#d00,#a00,#a00,#a00,#a00,#c00,#f10,#f30,#f20,#e00,#c00,#c00,#c00,#c00,#e00,#f30,#f40,#f40,#f40,#f30,#f30,#f20,#f20,#f20)"></i><i style="top:112.00px;height:4.05px;-webkit-mask-image:linear-gradient(180deg,transparent 0.12px,#000 3.00px);mask-image:linear-gradient(180deg,transparent 0.12px,#000 3.00px);background:linear-gradient(90deg,#000,#000,#200,#700,#d00,#f20,#f10,#c00,#600,#400,#400,#400,#400,#700,#f10,#fa0,#fe0,#f90,#f00,#800,#600,#600,#600,#700,#a00,#d00,#e00,#a00,#300,#200,#200,#200,#300,#700,#a00,#800,#300,#000,#000,#000,#000,#200,#600,#800,#500,#100,#000,#000,#000,#100,#500,#800,#500,#100,#100,#100,#100,#800,#900,#500,#200,#200,#200,#200,#700,#c00,#a00,#500,#300,#300,#300,#500,#b00,#d00,#900,#500,#500,#500,#500,#900,#e00,#e00,#b00,#a00,#a00,#a00,#b00,#f60,#fc0,#f90,#f30,#e00,#d00,#d00,#d00,#f10,#fc0,#ff9,#ffb,#ff5,#fb0,#f70,#f70,#f70,#f70,#fb0,#ff2,#ff6,#fd0,#f30,#e00,#e00,#e00,#f00,#f20,#f30,#f00,#900,#800,#800,#800,#a00,#e00,#f00,#b00,#700,#700,#700,#700,#a00,#f00,#f00,#a00,#700,#700,#700,#700,#c00,#f00,#d00,#800,#600,#600,#600,#700,#b00,#f00,#d00,#800,#600,#600,#600,#600,#b00,#f00,#d00,#600,#500,#500,#500,#600,#c00,#d00,#800,#400,#300,#300,#300,#600,#a00,#b00,#600,#200,#200,#200,#200,#500,#800,#700,#200,#200,#200,#200,#300,#600,#500,#200,#200,#200,#200,#300,#600,#600,#500,#400,#400,#400,#400,#600,#800,#700,#500,#500,#500,#500,#600,#a00,#a00,#600,#600,#600,#600,#700,#b00,#b00,#700,#500,#500,#500,#600,#a00,#e00,#b00,#700,#600,#600,#600,#800,#e00,#f00,#d00,#a00,#a00,#a00,#a00,#c00,#f10,#f30,#f10,#e00,#c00,#c00,#c00,#c00,#e00,#f20,#f40,#f40,#f40,#f40,#f30,#f30,#f20,#f20,#f20)"></i></div>
<div class="a" style="left:311.2px;top:54.3px;width:6.5px;height:115.3px;background:linear-gradient(180deg,#ffffff,#ffffe6,#ffffcd,#ffffb4,#ffff9b,#ffff82,#ffff6a,#ffff51,#ffff38,#ffff1f,#ffff06,#fff200,#ffe200,#ffd100,#ffc000,#ffb000,#ff9f00,#ff8f00,#ff7e00,#ff6d00,#ff5d00,#ff4c00,#ff3c00,#ff2b00,#ff1a00,#ff0a00,#f80000,#e80000,#d70000,#c60000,#b60000,#a50000,#950000,#840000,#730000,#630000,#520000,#410000,#310000,#200000,#100000);box-shadow:0 0 0 0.6px rgba(150,150,175,.35)"></div>
<div class="tk" style="left:321.30px;top:154.45px;font-size:11.10px">0.1</div>
<div class="tk" style="left:321.30px;top:142.75px;font-size:11.10px">0.2</div>
<div class="tk" style="left:321.30px;top:131.05px;font-size:11.10px">0.3</div>
<div class="tk" style="left:321.30px;top:119.35px;font-size:11.10px">0.4</div>
<div class="tk" style="left:321.30px;top:107.65px;font-size:11.10px">0.5</div>
<div class="tk" style="left:321.30px;top:95.95px;font-size:11.10px">0.6</div>
<div class="tk" style="left:321.30px;top:84.25px;font-size:11.10px">0.7</div>
<div class="tk" style="left:321.30px;top:72.55px;font-size:11.10px">0.8</div>
<div class="tk" style="left:321.30px;top:60.85px;font-size:11.10px">0.9</div>
<div class="tk" style="left:322.20px;top:47.25px;font-size:11.10px">1</div>
<div class="tk" style="left:169.00px;top:165.55px;font-size:11.10px;transform:translateX(-100%)">1</div>
<div class="tk" style="left:169.20px;top:148.79px;font-size:11.10px;transform:translateX(-100%)">2</div>
<div class="tk" style="left:169.20px;top:132.04px;font-size:11.10px;transform:translateX(-100%)">3</div>
<div class="tk" style="left:169.20px;top:115.28px;font-size:11.10px;transform:translateX(-100%)">4</div>
<div class="tk" style="left:169.20px;top:98.52px;font-size:11.10px;transform:translateX(-100%)">5</div>
<div class="tk" style="left:169.20px;top:81.76px;font-size:11.10px;transform:translateX(-100%)">6</div>
<div class="tk" style="left:169.20px;top:65.01px;font-size:11.10px;transform:translateX(-100%)">7</div>
<div class="tk" style="left:169.20px;top:48.25px;font-size:11.10px;transform:translateX(-100%)">8</div>
<div class="tk" style="left:175.00px;top:174.45px;font-size:11.10px;transform:translateX(-50%)">0</div>
<div class="tk" style="left:201.02px;top:174.45px;font-size:11.10px;transform:translateX(-50%)">0.2</div>
<div class="tk" style="left:227.04px;top:174.45px;font-size:11.10px;transform:translateX(-50%)">0.4</div>
<div class="tk" style="left:253.06px;top:174.45px;font-size:11.10px;transform:translateX(-50%)">0.6</div>
<div class="tk" style="left:279.08px;top:174.45px;font-size:11.10px;transform:translateX(-50%)">0.8</div>
<div class="tk" style="left:305.10px;top:174.45px;font-size:11.10px;transform:translateX(-50%)">1</div>
<div class="tk" style="left:185.70px;top:186.70px;font-size:11.10px">Position along beam (x/L)</div>
<div class="tk" style="left:155.90px;top:113.45px;font-size:11.10px;transform:translate(-50%,-50%) rotate(-90deg)">Scale</div>
<div class="a hm" style="left:375.9px;top:54.0px;width:127.3px;height:115.3px"><i style="top:0.00px;height:116.35px;background:linear-gradient(90deg,#000,#000,#000,#000,#000,#400,#900,#a00,#a00,#800,#700,#900,#d00,#e00,#d00,#b00,#b00,#d00,#f10,#f10,#f10,#f00,#d00,#d00,#e00,#f20,#f50,#f50,#f50,#f20,#f00,#e00,#f00,#f30,#f60,#f60,#f60,#f40,#f10,#e00,#e00,#f30,#f80,#fb0,#fc0,#fa0,#f50,#f00,#e00,#f00,#f20,#f40,#f40,#f40,#f10,#d00,#c00,#c00,#e00,#f20,#f20,#f20,#f10,#e00,#d00,#d00,#f00,#f10,#f20,#f20,#f20,#e00,#c00,#b00,#b00,#f00,#f40,#f70,#f80,#f70,#f40,#f00,#e00,#f00,#f30,#f60,#f60,#f60,#f40,#f10,#f00,#f10,#f70,#fd0,#fd0,#fd0,#f90,#f60,#f50,#f80,#ff0,#ff6,#ff6,#ff2,#fa0,#f40,#f30,#f50,#fa0,#fe0,#ff0,#fe0,#fa0,#f50,#f30,#f40,#f70,#fb0,#fc0,#fc0,#f90,#f50,#f10,#f00,#f20,#f70,#fe0,#ff3,#ff3,#fe0,#f50,#d00,#c00,#f00,#f60,#fb0,#fc0,#fa0,#f30,#b00,#a00,#e00,#f80,#ff0,#ff0,#fb0,#f10,#900,#900,#f00,#f90,#fc0,#fc0,#f70,#e00,#900,#900,#d00,#f40,#f60,#f60,#f40,#e00,#c00,#d00,#f00,#f40,#f40,#f40,#f20,#e00,#d00,#d00,#e00,#f10,#f10,#f10,#f10,#f00,#e00,#e00,#f00,#f10,#f10,#f10,#f10,#e00,#d00,#d00,#f10,#f80,#fd0,#fd0,#fc0,#f60,#f00,#d00,#e00,#f50,#fc0,#ff0,#ff0,#f90,#e00,#a00,#b00,#f30,#fa0,#fc0,#fb0,#f60,#e00,#a00,#900,#d00,#f80,#ff3,#ff8,#ff8,#ff0,#f60,#e00,#d00,#f10,#f60,#fb0,#fc0,#fb0,#fa0,#f70,#f30,#f00,#d00,#d00,#d00,#f10,#f40,#f80,#fc0,#fd0,#fd0,#fd0,#fa0,#f70,#f40,#f20,#f20,#f50,#fa0,#ff2,#ff9,#ffb,#ffb,#ffb,#ffa,#ffa)"></i><i style="top:0.00px;height:116.35px;-webkit-mask-image:linear-gradient(180deg,transparent 0.00px,#000 8.41px);mask-image:linear-gradient(180deg,transparent 0.00px,#000 8.41px);background:linear-gradient(90deg,#000,#000,#000,#000,#000,#400,#800,#a00,#a00,#800,#700,#800,#c00,#e00,#d00,#c00,#b00,#c00,#f10,#f10,#f10,#f00,#e00,#d00,#e00,#f10,#f40,#f50,#f50,#f30,#f00,#e00,#e00,#f10,#f50,#f60,#f60,#f50,#f20,#e00,#e00,#f00,#f50,#fa0,#fc0,#fc0,#f80,#f20,#e00,#e00,#f00,#f30,#f40,#f40,#f30,#f00,#c00,#c00,#d00,#f00,#f20,#f20,#f20,#f10,#e00,#d00,#d00,#f00,#f20,#f20,#f20,#f10,#e00,#b00,#b00,#c00,#f10,#f50,#f70,#f80,#f60,#f20,#e00,#e00,#f00,#f30,#f60,#f60,#f60,#f30,#f00,#f00,#f20,#f90,#fd0,#fd0,#fc0,#f80,#f50,#f50,#fa0,#ff2,#ff6,#ff6,#ff0,#f80,#f30,#f30,#f70,#fc0,#ff0,#ff0,#fd0,#f80,#f40,#f30,#f50,#f90,#fb0,#fc0,#fb0,#f70,#f30,#f00,#f00,#f40,#fa0,#ff1,#ff3,#ff2,#f90,#f10,#c00,#d00,#f30,#f90,#fc0,#fc0,#f60,#d00,#a00,#b00,#f50,#fe0,#ff0,#fd0,#f40,#a00,#900,#d00,#f80,#fd0,#fd0,#f80,#f00,#900,#900,#d00,#f40,#f60,#f60,#f40,#e00,#c00,#c00,#f00,#f40,#f40,#f40,#f20,#e00,#d00,#d00,#e00,#f10,#f10,#f10,#f00,#e00,#e00,#e00,#f00,#f10,#f10,#f10,#f00,#e00,#d00,#e00,#f40,#fa0,#fd0,#fd0,#fa0,#f30,#e00,#d00,#f10,#f90,#fe0,#ff0,#fd0,#f30,#b00,#a00,#e00,#f80,#fc0,#fc0,#f80,#f20,#b00,#900,#b00,#f40,#fe0,#ff7,#ff8,#ff4,#f90,#f00,#d00,#e00,#f40,#fa0,#fc0,#fc0,#fa0,#f80,#f40,#f10,#d00,#c00,#d00,#f00,#f30,#f70,#fb0,#fd0,#fd0,#fd0,#fb0,#f70,#f40,#f20,#f20,#f30,#f80,#ff0,#ff7,#ffa,#ffa,#ffa,#ffa,#ffa,#ffa)"></i><i style="top:8.00px;height:108.35px;-webkit-mask-image:linear-gradient(180deg,transparent 0.41px,#000 8.81px);mask-image:linear-gradient(180deg,transparent 0.41px,#000 8.81px);background:linear-gradient(90deg,#000,#000,#000,#000,#000,#300,#700,#900,#a00,#900,#800,#700,#900,#d00,#e00,#d00,#b00,#b00,#d00,#f10,#f10,#f10,#e00,#d00,#d00,#e00,#f20,#f50,#f50,#f50,#f30,#f00,#e00,#e00,#f20,#f50,#f60,#f60,#f40,#f10,#e00,#e00,#f10,#f60,#fb0,#fc0,#fb0,#f60,#f10,#e00,#e00,#f10,#f40,#f40,#f40,#f20,#e00,#c00,#c00,#e00,#f10,#f30,#f30,#f20,#f00,#d00,#d00,#e00,#f10,#f20,#f30,#f20,#f00,#c00,#b00,#b00,#e00,#f30,#f70,#f80,#f70,#f40,#f00,#e00,#e00,#f20,#f50,#f60,#f60,#f40,#f00,#f00,#f10,#f70,#fd0,#fd0,#fc0,#f80,#f50,#f50,#f90,#ff1,#ff6,#ff6,#ff0,#f80,#f30,#f30,#f60,#fc0,#ff0,#ff0,#fc0,#f70,#f30,#f30,#f50,#f90,#fc0,#fc0,#fa0,#f60,#f20,#f00,#f10,#f50,#fc0,#ff2,#ff3,#ff0,#f60,#d00,#c00,#e00,#f60,#fb0,#fc0,#fa0,#f20,#a00,#a00,#f00,#fa0,#ff0,#ff0,#f80,#d00,#900,#a00,#f30,#fb0,#fd0,#fb0,#f30,#b00,#900,#b00,#f10,#f60,#f60,#f50,#f10,#c00,#c00,#e00,#f30,#f40,#f40,#f20,#e00,#d00,#d00,#e00,#f10,#f10,#f10,#f10,#f00,#e00,#e00,#f00,#f10,#f10,#f10,#f10,#e00,#d00,#d00,#f20,#f90,#fd0,#fd0,#fb0,#f50,#e00,#d00,#f00,#f60,#fd0,#ff0,#fe0,#f60,#c00,#a00,#c00,#f50,#fb0,#fc0,#fa0,#f40,#c00,#900,#900,#f00,#fb0,#ff5,#ff8,#ff7,#fc0,#f30,#d00,#d00,#f20,#f70,#fb0,#fc0,#fb0,#f90,#f60,#f20,#e00,#d00,#c00,#d00,#f10,#f50,#f90,#fc0,#fd0,#fd0,#fc0,#fa0,#f60,#f30,#f20,#f20,#f40,#fa0,#ff1,#ff8,#ffa,#ffa,#ffa,#ffa,#ff9,#ff9)"></i><i style="top:16.00px;height:100.35px;-webkit-mask-image:linear-gradient(180deg,transparent 0.81px,#000 9.22px);mask-image:linear-gradient(180deg,transparent 0.81px,#000 9.22px);background:linear-gradient(90deg,#000,#000,#000,#000,#000,#200,#500,#800,#a00,#a00,#800,#700,#700,#b00,#e00,#e00,#c00,#b00,#b00,#f00,#f10,#f10,#f00,#e00,#d00,#d00,#f10,#f40,#f50,#f50,#f30,#f00,#e00,#e00,#f10,#f40,#f60,#f60,#f50,#f20,#e00,#e00,#f00,#f60,#fb0,#fc0,#fb0,#f70,#f10,#e00,#e00,#f10,#f40,#f40,#f40,#f20,#e00,#c00,#c00,#e00,#f10,#f30,#f30,#f10,#e00,#d00,#d00,#e00,#f10,#f30,#f30,#f10,#e00,#b00,#b00,#b00,#f00,#f50,#f80,#f80,#f60,#f20,#e00,#e00,#f00,#f40,#f60,#f60,#f50,#f20,#e00,#e00,#f40,#fb0,#fd0,#fd0,#fa0,#f60,#f50,#f60,#fd0,#ff5,#ff6,#ff3,#fa0,#f40,#f30,#f50,#fa0,#fe0,#ff0,#fe0,#f90,#f40,#f30,#f40,#f80,#fb0,#fc0,#fb0,#f70,#f30,#f00,#f00,#f40,#fa0,#ff1,#ff3,#ff1,#f80,#f00,#c00,#d00,#f40,#fa0,#fc0,#fb0,#f40,#b00,#a00,#c00,#f70,#fe0,#ff0,#fb0,#f10,#900,#900,#f00,#f90,#fd0,#fc0,#f60,#c00,#900,#a00,#e00,#f50,#f60,#f60,#f20,#d00,#c00,#d00,#f10,#f40,#f40,#f40,#f10,#d00,#d00,#d00,#f00,#f10,#f10,#f10,#f00,#e00,#e00,#e00,#f00,#f10,#f10,#f10,#f00,#e00,#d00,#d00,#f40,#fb0,#fd0,#fd0,#fa0,#f30,#d00,#d00,#f10,#f80,#fe0,#ff0,#fd0,#f50,#b00,#a00,#c00,#f60,#fb0,#fc0,#fa0,#f40,#c00,#900,#900,#f00,#fa0,#ff5,#ff8,#ff7,#fd0,#f40,#d00,#d00,#f10,#f60,#fb0,#fc0,#fc0,#fa0,#f70,#f30,#f00,#d00,#c00,#d00,#f00,#f30,#f70,#fb0,#fd0,#fd0,#fd0,#fb0,#f70,#f40,#f20,#f10,#f20,#f70,#fc0,#ff5,#ff9,#ffa,#ffa,#ff9,#ff9,#ff9)"></i><i style="top:25.00px;height:91.35px;-webkit-mask-image:linear-gradient(180deg,transparent 0.22px,#000 8.63px);mask-image:linear-gradient(180deg,transparent 0.22px,#000 8.63px);background:linear-gradient(90deg,#000,#000,#000,#000,#000,#200,#600,#900,#a00,#a00,#800,#700,#800,#c00,#e00,#d00,#b00,#b00,#c00,#f10,#f10,#f10,#e00,#d00,#d00,#e00,#f20,#f50,#f50,#f50,#f20,#e00,#e00,#e00,#f30,#f60,#f60,#f60,#f30,#f00,#e00,#e00,#f30,#f90,#fc0,#fc0,#f90,#f30,#e00,#e00,#f00,#f30,#f40,#f50,#f30,#e00,#c00,#c00,#d00,#f10,#f20,#f30,#f20,#f00,#d00,#d00,#e00,#f10,#f20,#f30,#f20,#f00,#c00,#b00,#b00,#e00,#f40,#f70,#f80,#f70,#f30,#e00,#e00,#e00,#f30,#f60,#f60,#f60,#f30,#f00,#e00,#f20,#f90,#fd0,#fd0,#fb0,#f70,#f50,#f50,#fa0,#ff3,#ff6,#ff5,#fd0,#f50,#f30,#f30,#f80,#fd0,#ff0,#ff0,#fb0,#f50,#f30,#f30,#f60,#fa0,#fc0,#fc0,#fa0,#f50,#f10,#f00,#f10,#f60,#fd0,#ff3,#ff3,#fe0,#f50,#d00,#c00,#e00,#f60,#fb0,#fc0,#fa0,#f20,#a00,#a00,#e00,#f90,#ff0,#ff0,#f90,#e00,#900,#900,#f10,#fa0,#fd0,#fc0,#f50,#c00,#900,#900,#e00,#f50,#f60,#f60,#f30,#d00,#c00,#c00,#f10,#f40,#f50,#f40,#f10,#d00,#d00,#d00,#e00,#f10,#f10,#f10,#f00,#e00,#e00,#e00,#e00,#f10,#f10,#f10,#f10,#e00,#d00,#d00,#f10,#f70,#fd0,#fd0,#fc0,#f60,#f00,#d00,#d00,#f30,#fb0,#ff0,#ff0,#fa0,#f00,#a00,#a00,#f00,#f80,#fc0,#fc0,#f80,#f10,#a00,#900,#a00,#f30,#fd0,#ff7,#ff8,#ff5,#fa0,#f20,#d00,#d00,#f20,#f80,#fb0,#fc0,#fb0,#f90,#f60,#f20,#e00,#c00,#c00,#d00,#f00,#f40,#f80,#fb0,#fd0,#fd0,#fc0,#fa0,#f60,#f30,#f10,#f10,#f30,#f80,#fe0,#ff6,#ff9,#ff9,#ff9,#ff9,#ff8)"></i><i style="top:33.00px;height:83.35px;-webkit-mask-image:linear-gradient(180deg,transparent 0.63px,#000 9.04px);mask-image:linear-gradient(180deg,transparent 0.63px,#000 9.04px);background:linear-gradient(90deg,#000,#000,#000,#000,#000,#300,#700,#a00,#a00,#900,#700,#700,#b00,#e00,#e00,#c00,#b00,#b00,#f00,#f10,#f10,#f00,#d00,#d00,#d00,#f10,#f40,#f50,#f50,#f30,#f00,#e00,#e00,#f20,#f50,#f70,#f60,#f40,#f10,#e00,#e00,#f10,#f70,#fb0,#fc0,#fa0,#f50,#e00,#e00,#e00,#f20,#f40,#f50,#f40,#f10,#d00,#c00,#c00,#e00,#f20,#f30,#f20,#f10,#e00,#d00,#d00,#e00,#f20,#f30,#f30,#f10,#d00,#b00,#b00,#b00,#f00,#f50,#f80,#f80,#f60,#f20,#e00,#e00,#f00,#f30,#f60,#f70,#f50,#f20,#e00,#e00,#f20,#f90,#fd0,#fd0,#fb0,#f70,#f50,#f50,#fa0,#ff3,#ff6,#ff5,#fd0,#f60,#f30,#f30,#f70,#fc0,#ff0,#ff0,#fc0,#f60,#f30,#f30,#f50,#f90,#fc0,#fc0,#fa0,#f60,#f20,#f00,#f00,#f40,#fa0,#ff1,#ff3,#ff1,#f80,#f00,#c00,#c00,#f20,#f90,#fc0,#fc0,#f60,#d00,#a00,#a00,#f30,#fc0,#ff0,#fe0,#f50,#b00,#900,#b00,#f50,#fc0,#fd0,#fa0,#f20,#a00,#900,#a00,#f10,#f60,#f70,#f60,#f10,#c00,#c00,#d00,#f20,#f40,#f50,#f30,#f00,#d00,#c00,#d00,#f00,#f10,#f10,#f10,#f00,#e00,#e00,#e00,#f00,#f10,#f10,#f10,#f00,#e00,#d00,#d00,#f20,#f90,#fd0,#fd0,#fb0,#f40,#e00,#d00,#e00,#f50,#fc0,#ff0,#fe0,#f70,#c00,#a00,#b00,#f30,#fa0,#fc0,#fb0,#f50,#d00,#900,#900,#c00,#f70,#ff2,#ff8,#ff8,#ff0,#f60,#e00,#d00,#e00,#f50,#fa0,#fc0,#fc0,#fa0,#f70,#f30,#f00,#d00,#c00,#c00,#e00,#f30,#f70,#fa0,#fc0,#fd0,#fd0,#fa0,#f70,#f40,#f10,#f10,#f20,#f60,#fd0,#ff4,#ff9,#ff9,#ff9,#ff8,#ff8)"></i><i style="top:42.00px;height:74.35px;-webkit-mask-image:linear-gradient(180deg,transparent 0.04px,#000 8.44px);mask-image:linear-gradient(180deg,transparent 0.04px,#000 8.44px);background:linear-gradient(90deg,#000,#000,#000,#000,#000,#400,#900,#a00,#900,#800,#700,#800,#d00,#e00,#d00,#b00,#b00,#c00,#f10,#f10,#f10,#e00,#d00,#d00,#e00,#f20,#f50,#f50,#f50,#f20,#e00,#d00,#e00,#f20,#f50,#f70,#f60,#f40,#f00,#d00,#d00,#f10,#f70,#fb0,#fc0,#fa0,#f50,#e00,#d00,#e00,#f10,#f40,#f50,#f40,#f10,#d00,#c00,#c00,#e00,#f10,#f30,#f30,#f10,#e00,#d00,#d00,#e00,#f10,#f30,#f30,#f20,#e00,#c00,#b00,#b00,#d00,#f30,#f70,#f80,#f70,#f40,#f00,#d00,#e00,#f10,#f50,#f70,#f60,#f40,#f00,#e00,#f00,#f50,#fc0,#fd0,#fd0,#f90,#f50,#f40,#f60,#fc0,#ff5,#ff6,#ff3,#fa0,#f40,#f30,#f40,#f80,#fd0,#ff0,#fe0,#fa0,#f50,#f30,#f30,#f60,#fa0,#fc0,#fc0,#fa0,#f50,#f10,#f00,#f00,#f50,#fc0,#ff2,#ff3,#fe0,#f60,#d00,#c00,#d00,#f40,#fa0,#fc0,#fb0,#f40,#b00,#a00,#c00,#f60,#fe0,#ff0,#fb0,#f10,#900,#900,#d00,#f70,#fd0,#fd0,#f80,#e00,#900,#900,#c00,#f30,#f60,#f70,#f40,#e00,#c00,#c00,#f00,#f30,#f50,#f40,#f20,#e00,#c00,#c00,#e00,#f10,#f10,#f10,#f10,#e00,#d00,#d00,#e00,#f10,#f10,#f10,#f10,#e00,#d00,#d00,#f00,#f80,#fd0,#fd0,#fb0,#f50,#e00,#d00,#e00,#f50,#fc0,#ff0,#fe0,#f70,#c00,#a00,#b00,#f30,#fb0,#fc0,#fa0,#f50,#d00,#900,#900,#d00,#f80,#ff3,#ff8,#ff7,#fd0,#f40,#d00,#d00,#f00,#f60,#fb0,#fc0,#fb0,#f90,#f60,#f20,#e00,#c00,#c00,#d00,#f00,#f40,#f80,#fb0,#fd0,#fd0,#fc0,#f90,#f50,#f20,#f10,#f10,#f40,#fa0,#ff1,#ff7,#ff8,#ff8,#ff8,#ff8,#ff7)"></i><i style="top:50.00px;height:66.35px;-webkit-mask-image:linear-gradient(180deg,transparent 0.44px,#000 8.85px);mask-image:linear-gradient(180deg,transparent 0.44px,#000 8.85px);background:linear-gradient(90deg,#000,#000,#000,#000,#000,#400,#800,#a00,#a00,#800,#700,#700,#b00,#e00,#d00,#b00,#a00,#b00,#f00,#f10,#f10,#f00,#d00,#c00,#c00,#f00,#f30,#f50,#f50,#f30,#f00,#d00,#d00,#e00,#f30,#f60,#f70,#f50,#f20,#e00,#d00,#d00,#f30,#f80,#fc0,#fc0,#f80,#f20,#d00,#d00,#e00,#f20,#f40,#f50,#f30,#f00,#c00,#b00,#c00,#e00,#f20,#f30,#f20,#f00,#d00,#c00,#c00,#e00,#f10,#f30,#f30,#f10,#d00,#b00,#a00,#b00,#e00,#f40,#f70,#f80,#f60,#f20,#d00,#d00,#e00,#f20,#f60,#f70,#f60,#f20,#e00,#e00,#f00,#f70,#fd0,#fe0,#fc0,#f70,#f40,#f40,#f70,#ff0,#ff6,#ff6,#fe0,#f60,#f20,#f20,#f50,#fa0,#fe0,#ff0,#fc0,#f60,#f20,#f20,#f30,#f70,#fb0,#fc0,#fb0,#f60,#f20,#e00,#e00,#f20,#f90,#ff0,#ff3,#ff1,#f80,#e00,#b00,#c00,#f20,#f90,#fc0,#fb0,#f40,#b00,#900,#a00,#f40,#fd0,#ff0,#fb0,#f10,#900,#900,#c00,#f70,#fd0,#fc0,#f60,#c00,#900,#900,#c00,#f30,#f70,#f60,#f30,#d00,#b00,#c00,#f00,#f40,#f50,#f40,#f00,#c00,#c00,#c00,#e00,#f10,#f10,#f10,#f00,#d00,#d00,#d00,#e00,#f10,#f10,#f10,#f00,#d00,#c00,#d00,#f30,#fb0,#fe0,#fd0,#f80,#f10,#c00,#c00,#f10,#f90,#fe0,#ff0,#fa0,#f00,#900,#900,#e00,#f80,#fc0,#fb0,#f60,#e00,#900,#900,#a00,#f40,#fe0,#ff8,#ff8,#ff0,#f50,#d00,#c00,#e00,#f40,#fa0,#fc0,#fc0,#fa0,#f60,#f30,#e00,#c00,#c00,#c00,#e00,#f20,#f60,#fa0,#fc0,#fc0,#fc0,#f90,#f50,#f20,#f00,#f00,#f20,#f70,#fd0,#ff5,#ff8,#ff8,#ff8,#ff7,#ff7,#ff7)"></i><i style="top:58.00px;height:58.35px;-webkit-mask-image:linear-gradient(180deg,transparent 0.85px,#000 9.26px);mask-image:linear-gradient(180deg,transparent 0.85px,#000 9.26px);background:linear-gradient(90deg,#000,#000,#000,#000,#000,#200,#600,#900,#a00,#900,#700,#700,#700,#c00,#e00,#d00,#a00,#a00,#b00,#f00,#f20,#f10,#e00,#c00,#c00,#c00,#f00,#f40,#f60,#f50,#f20,#e00,#d00,#d00,#f00,#f40,#f70,#f70,#f40,#f00,#d00,#d00,#e00,#f40,#fa0,#fc0,#fb0,#f50,#e00,#d00,#d00,#f00,#f30,#f50,#f50,#f20,#d00,#b00,#b00,#c00,#f00,#f30,#f30,#f10,#e00,#c00,#c00,#d00,#f00,#f20,#f30,#f20,#e00,#b00,#a00,#a00,#c00,#f20,#f70,#f80,#f70,#f20,#d00,#d00,#d00,#f10,#f50,#f70,#f60,#f20,#e00,#d00,#e00,#f60,#fd0,#fe0,#fb0,#f60,#f30,#f30,#f70,#ff0,#ff6,#ff5,#fc0,#f40,#f20,#f20,#f50,#fb0,#ff0,#ff0,#fa0,#f40,#f20,#f20,#f40,#f80,#fc0,#fc0,#f90,#f40,#f00,#e00,#e00,#f40,#fb0,#ff2,#ff3,#fc0,#f20,#b00,#b00,#d00,#f50,#fb0,#fc0,#f70,#d00,#900,#900,#e00,#f90,#ff0,#fd0,#f40,#a00,#800,#900,#f30,#fb0,#fd0,#f90,#e00,#800,#800,#a00,#f10,#f60,#f70,#f40,#d00,#b00,#b00,#d00,#f30,#f50,#f40,#f10,#c00,#c00,#c00,#d00,#f00,#f20,#f10,#f00,#d00,#d00,#d00,#e00,#f10,#f20,#f20,#f00,#d00,#c00,#c00,#f00,#f80,#fd0,#fe0,#f90,#f20,#c00,#c00,#d00,#f50,#fd0,#ff0,#fc0,#f20,#900,#900,#b00,#f40,#fb0,#fc0,#f90,#f10,#a00,#800,#800,#d00,#f90,#ff4,#ff8,#ff5,#f90,#f00,#c00,#c00,#f00,#f60,#fb0,#fc0,#fb0,#f90,#f50,#f10,#d00,#b00,#b00,#c00,#e00,#f20,#f60,#f90,#fa0,#fa0,#f90,#f60,#f30,#f00,#e00,#e00,#f10,#f50,#fb0,#ff1,#ff4,#ff4,#ff4,#ff3,#ff3,#ff3)"></i><i style="top:67.00px;height:49.35px;-webkit-mask-image:linear-gradient(180deg,transparent 0.26px,#000 8.67px);mask-image:linear-gradient(180deg,transparent 0.26px,#000 8.67px);background:linear-gradient(90deg,#000,#000,#000,#000,#000,#200,#500,#800,#a00,#a00,#800,#600,#600,#a00,#e00,#d00,#a00,#a00,#a00,#e00,#f20,#f10,#e00,#c00,#c00,#c00,#e00,#f30,#f60,#f50,#f20,#d00,#c00,#c00,#e00,#f40,#f70,#f70,#f40,#f00,#c00,#c00,#d00,#f40,#fa0,#fc0,#fa0,#f40,#d00,#c00,#c00,#f00,#f30,#f50,#f40,#f00,#b00,#b00,#b00,#d00,#f10,#f30,#f30,#f00,#c00,#c00,#c00,#d00,#f10,#f30,#f30,#f00,#c00,#a00,#a00,#a00,#e00,#f40,#f80,#f80,#f40,#e00,#c00,#c00,#e00,#f30,#f70,#f70,#f40,#e00,#d00,#d00,#f20,#fa0,#fe0,#fc0,#f70,#f30,#f30,#f40,#fb0,#ff5,#ff6,#fd0,#f50,#f10,#f10,#f30,#f90,#fe0,#ff0,#fb0,#f50,#f10,#f10,#f20,#f70,#fb0,#fc0,#fa0,#f40,#f00,#d00,#d00,#f20,#f90,#ff0,#ff3,#fd0,#f30,#b00,#b00,#b00,#f20,#f90,#fc0,#f90,#f00,#900,#900,#a00,#f50,#fe0,#ff0,#f70,#b00,#800,#800,#d00,#f80,#fd0,#fb0,#f20,#900,#800,#800,#c00,#f40,#f70,#f60,#f00,#b00,#b00,#b00,#f00,#f40,#f50,#f30,#e00,#b00,#b00,#c00,#e00,#f10,#f20,#f10,#e00,#c00,#c00,#c00,#e00,#f10,#f20,#f10,#e00,#c00,#c00,#c00,#f00,#f80,#fe0,#fd0,#f80,#f10,#c00,#c00,#d00,#f40,#fc0,#ff0,#fc0,#f20,#900,#900,#900,#f20,#fa0,#fc0,#f90,#f20,#a00,#800,#800,#b00,#f50,#ff0,#ff8,#ff6,#fb0,#f20,#c00,#c00,#c00,#f30,#f90,#fc0,#fc0,#fa0,#f60,#f20,#d00,#b00,#b00,#b00,#c00,#e00,#f20,#f50,#f80,#f80,#f80,#f60,#f30,#f00,#d00,#d00,#d00,#f00,#f40,#f80,#fc0,#fd0,#fc0,#fc0,#fc0,#fb0)"></i><i style="top:75.00px;height:41.35px;-webkit-mask-image:linear-gradient(180deg,transparent 0.67px,#000 9.07px);mask-image:linear-gradient(180deg,transparent 0.67px,#000 9.07px);background:linear-gradient(90deg,#000,#000,#000,#000,#000,#200,#600,#900,#a00,#900,#700,#600,#700,#c00,#e00,#c00,#900,#900,#b00,#f10,#f20,#f00,#d00,#b00,#b00,#c00,#f10,#f50,#f60,#f40,#e00,#c00,#c00,#d00,#f20,#f60,#f70,#f50,#f10,#c00,#c00,#c00,#f10,#f80,#fc0,#fb0,#f50,#e00,#c00,#c00,#d00,#f20,#f50,#f50,#f10,#c00,#a00,#a00,#c00,#f00,#f30,#f30,#f10,#d00,#b00,#b00,#c00,#f00,#f30,#f30,#f10,#d00,#a00,#900,#900,#c00,#f30,#f70,#f80,#f50,#f00,#c00,#c00,#c00,#f10,#f60,#f70,#f50,#f00,#d00,#d00,#e00,#f70,#fd0,#fd0,#f90,#f30,#f20,#f20,#f70,#ff0,#ff6,#ff2,#f80,#f20,#f10,#f10,#f50,#fb0,#ff0,#fe0,#f80,#f20,#f10,#f10,#f30,#f80,#fc0,#fc0,#f80,#f20,#d00,#d00,#d00,#f30,#fa0,#ff2,#ff3,#fb0,#f10,#a00,#a00,#b00,#f20,#fa0,#fc0,#f80,#e00,#800,#800,#a00,#f40,#fe0,#ff0,#f70,#b00,#800,#800,#c00,#f70,#fd0,#fc0,#f30,#a00,#800,#800,#b00,#f20,#f70,#f60,#f10,#b00,#a00,#a00,#d00,#f30,#f50,#f40,#f00,#c00,#b00,#b00,#c00,#f00,#f20,#f20,#f00,#d00,#c00,#c00,#c00,#f00,#f20,#f20,#f00,#d00,#b00,#b00,#c00,#f30,#fb0,#fe0,#fc0,#f50,#d00,#b00,#b00,#e00,#f70,#fe0,#ff0,#f90,#d00,#800,#800,#a00,#f40,#fc0,#fc0,#f70,#f00,#900,#800,#800,#c00,#f70,#ff3,#ff8,#ff4,#f80,#e00,#b00,#b00,#d00,#f40,#fa0,#fc0,#fb0,#f90,#f50,#f10,#c00,#b00,#b00,#b00,#c00,#e00,#f20,#f40,#f60,#f70,#f60,#f30,#f00,#d00,#c00,#c00,#c00,#e00,#f20,#f50,#f70,#f70,#f70,#f60,#f60)"></i><i style="top:84.00px;height:32.35px;-webkit-mask-image:linear-gradient(180deg,transparent 0.07px,#000 8.48px);mask-image:linear-gradient(180deg,transparent 0.07px,#000 8.48px);background:linear-gradient(90deg,#000,#000,#000,#000,#000,#300,#700,#a00,#a00,#700,#600,#600,#a00,#e00,#d00,#a00,#900,#a00,#f00,#f20,#f10,#d00,#b00,#b00,#b00,#f00,#f40,#f60,#f50,#f10,#c00,#c00,#c00,#f00,#f50,#f70,#f60,#f20,#d00,#c00,#c00,#e00,#f50,#fb0,#fc0,#f90,#f10,#c00,#c00,#c00,#f00,#f40,#f50,#f40,#e00,#b00,#a00,#a00,#d00,#f10,#f30,#f30,#f00,#c00,#b00,#b00,#d00,#f10,#f30,#f30,#f00,#c00,#a00,#900,#a00,#d00,#f40,#f80,#f80,#f50,#f00,#c00,#c00,#c00,#f10,#f60,#f70,#f50,#f00,#d00,#c00,#e00,#f60,#fd0,#fe0,#f90,#f40,#f20,#f20,#f50,#fe0,#ff6,#ff4,#fa0,#f30,#f10,#f10,#f30,#f90,#ff0,#ff0,#fa0,#f40,#f10,#f10,#f10,#f60,#fb0,#fc0,#fa0,#f50,#f00,#d00,#d00,#f00,#f60,#fd0,#ff3,#ff0,#f70,#d00,#a00,#a00,#d00,#f60,#fc0,#fc0,#f50,#b00,#800,#800,#d00,#f80,#ff0,#fd0,#f30,#900,#800,#800,#e00,#f90,#fd0,#fa0,#f10,#800,#800,#800,#c00,#f40,#f70,#f60,#f00,#b00,#a00,#b00,#e00,#f40,#f50,#f30,#e00,#b00,#b00,#b00,#d00,#f10,#f20,#f10,#e00,#c00,#c00,#c00,#d00,#f00,#f20,#f20,#f00,#c00,#b00,#b00,#d00,#f60,#fd0,#fe0,#fa0,#f20,#c00,#b00,#b00,#f20,#fa0,#ff0,#fe0,#f40,#a00,#800,#800,#e00,#f90,#fc0,#fa0,#f30,#b00,#800,#800,#900,#f20,#fd0,#ff7,#ff7,#fc0,#f20,#b00,#b00,#c00,#f20,#f90,#fc0,#fc0,#fa0,#f60,#f20,#d00,#b00,#b00,#b00,#b00,#d00,#f10,#f30,#f50,#f60,#f50,#f30,#f00,#c00,#b00,#b00,#b00,#d00,#f10,#f30,#f50,#f50,#f50,#f40,#f40)"></i><i style="top:92.00px;height:24.35px;-webkit-mask-image:linear-gradient(180deg,transparent 0.48px,#000 8.89px);mask-image:linear-gradient(180deg,transparent 0.48px,#000 8.89px);background:linear-gradient(90deg,#000,#000,#000,#000,#000,#400,#800,#a00,#900,#700,#600,#700,#c00,#f00,#c00,#a00,#a00,#a00,#f10,#f20,#f10,#d00,#b00,#b00,#c00,#f00,#f50,#f70,#f50,#f10,#c00,#c00,#c00,#f00,#f50,#f80,#f70,#f30,#e00,#c00,#c00,#d00,#f40,#fb0,#fd0,#fa0,#f30,#d00,#c00,#c00,#e00,#f30,#f60,#f50,#f10,#c00,#a00,#a00,#c00,#f00,#f30,#f40,#f10,#d00,#b00,#b00,#c00,#f00,#f30,#f40,#f20,#e00,#b00,#a00,#a00,#b00,#f10,#f60,#f90,#f80,#f30,#d00,#c00,#c00,#e00,#f30,#f70,#f80,#f40,#e00,#d00,#d00,#f10,#f90,#fe0,#fd0,#f80,#f30,#f20,#f20,#f80,#ff1,#ff6,#ff2,#f80,#f20,#f10,#f10,#f50,#fb0,#ff0,#ff0,#f90,#f30,#f10,#f10,#f20,#f80,#fc0,#fd0,#f90,#f40,#e00,#d00,#d00,#f10,#f80,#ff0,#ff3,#fd0,#f40,#b00,#a00,#b00,#f10,#f90,#fd0,#fb0,#f20,#900,#900,#900,#f10,#fc0,#ff1,#fa0,#e00,#800,#800,#a00,#f40,#fd0,#fd0,#f60,#b00,#800,#800,#a00,#f10,#f70,#f80,#f30,#c00,#a00,#a00,#d00,#f30,#f60,#f50,#f10,#c00,#b00,#b00,#c00,#f00,#f20,#f20,#f00,#d00,#c00,#c00,#d00,#f00,#f20,#f20,#f00,#d00,#b00,#b00,#d00,#f60,#fd0,#fe0,#fa0,#f20,#c00,#b00,#c00,#f20,#fb0,#ff1,#fd0,#f30,#900,#900,#900,#f10,#fb0,#fd0,#f90,#f20,#a00,#800,#800,#b00,#f60,#ff2,#ff8,#ff4,#f80,#e00,#b00,#b00,#e00,#f50,#fb0,#fd0,#fc0,#f80,#f40,#f00,#c00,#b00,#b00,#b00,#d00,#f00,#f30,#f50,#f60,#f60,#f40,#f10,#d00,#b00,#b00,#b00,#c00,#e00,#f20,#f40,#f50,#f40,#f40,#f30,#f30)"></i><i style="top:100.00px;height:16.35px;-webkit-mask-image:linear-gradient(180deg,transparent 0.89px,#000 3.77px);mask-image:linear-gradient(180deg,transparent 0.89px,#000 3.77px);background:linear-gradient(90deg,#000,#000,#000,#000,#000,#500,#900,#a00,#800,#600,#600,#700,#e00,#e00,#b00,#a00,#a00,#b00,#f20,#f20,#f00,#c00,#c00,#c00,#c00,#f10,#f60,#f70,#f40,#e00,#c00,#c00,#c00,#f10,#f60,#f80,#f70,#f20,#d00,#c00,#c00,#e00,#f50,#fc0,#fd0,#f90,#f10,#c00,#c00,#c00,#f00,#f40,#f60,#f50,#f00,#b00,#b00,#b00,#c00,#f10,#f40,#f40,#f10,#c00,#c00,#c00,#c00,#f00,#f30,#f40,#f20,#d00,#a00,#a00,#a00,#b00,#f10,#f70,#fa0,#f80,#f20,#d00,#c00,#c00,#e00,#f40,#f80,#f80,#f30,#d00,#d00,#d00,#f10,#fa0,#ff0,#fd0,#f60,#f30,#f30,#f30,#f80,#ff2,#ff6,#fe0,#f60,#f10,#f10,#f10,#f50,#fc0,#ff1,#fe0,#f70,#f20,#f10,#f10,#f30,#f90,#fd0,#fd0,#f80,#f20,#e00,#d00,#e00,#f20,#fa0,#ff2,#ff3,#fa0,#f00,#b00,#b00,#b00,#f20,#fb0,#fd0,#f80,#d00,#900,#900,#a00,#f40,#fe0,#ff0,#f50,#900,#800,#800,#c00,#f80,#fe0,#fb0,#f10,#800,#800,#800,#c00,#f40,#f80,#f60,#e00,#b00,#b00,#b00,#f00,#f50,#f60,#f30,#d00,#b00,#b00,#b00,#e00,#f20,#f30,#f10,#e00,#c00,#c00,#c00,#e00,#f20,#f30,#f20,#e00,#c00,#c00,#c00,#f10,#fa0,#ff0,#fc0,#f40,#d00,#c00,#c00,#e00,#f70,#fe0,#ff0,#f60,#a00,#900,#900,#c00,#f70,#fd0,#fb0,#f40,#b00,#800,#800,#900,#f10,#fc0,#ff7,#ff6,#fb0,#f00,#c00,#c00,#c00,#f20,#fa0,#fd0,#fc0,#fa0,#f50,#f10,#c00,#b00,#b00,#b00,#c00,#e00,#f20,#f40,#f60,#f60,#f50,#f20,#e00,#b00,#b00,#b00,#b00,#d00,#f10,#f30,#f40,#f40,#f40,#f30,#f30,#f20)"></i><i style="top:103.00px;height:13.35px;-webkit-mask-image:linear-gradient(180deg,transparent 0.77px,#000 3.65px);mask-image:linear-gradient(180deg,transparent 0.77px,#000 3.65px);background:linear-gradient(90deg,#000,#000,#000,#000,#100,#600,#b00,#900,#700,#700,#700,#a00,#f00,#d00,#a00,#a00,#a00,#e00,#f30,#f20,#d00,#c00,#c00,#c00,#d00,#f40,#f70,#f60,#f20,#d00,#c00,#c00,#d00,#f30,#f80,#f80,#f50,#e00,#c00,#c00,#c00,#f10,#f80,#fd0,#fc0,#f50,#d00,#c00,#c00,#d00,#f10,#f60,#f60,#f30,#c00,#b00,#b00,#b00,#d00,#f20,#f40,#f30,#e00,#c00,#c00,#c00,#d00,#f20,#f40,#f40,#f00,#b00,#a00,#a00,#a00,#c00,#f40,#f90,#fa0,#f50,#e00,#c00,#c00,#c00,#f10,#f60,#f90,#f60,#f00,#d00,#d00,#d00,#f40,#fd0,#ff0,#f90,#f40,#f30,#f30,#f40,#fc0,#ff6,#ff3,#f90,#f20,#f10,#f10,#f20,#f90,#ff0,#ff0,#f90,#f30,#f10,#f10,#f20,#f60,#fc0,#fe0,#fa0,#f30,#e00,#e00,#e00,#f00,#f60,#fe0,#ff4,#fd0,#f20,#b00,#b00,#b00,#e00,#f80,#fd0,#fa0,#e00,#900,#900,#900,#f00,#fc0,#ff1,#f70,#a00,#800,#800,#900,#f40,#fe0,#fc0,#f20,#900,#800,#800,#a00,#f20,#f80,#f70,#f00,#b00,#b00,#b00,#d00,#f40,#f60,#f30,#d00,#b00,#b00,#b00,#d00,#f20,#f30,#f20,#e00,#c00,#c00,#c00,#e00,#f20,#f30,#f20,#e00,#c00,#c00,#c00,#f00,#f90,#ff0,#fc0,#f40,#c00,#c00,#c00,#d00,#f60,#fe0,#ff1,#f60,#a00,#900,#900,#b00,#f60,#fd0,#fb0,#f30,#a00,#800,#800,#800,#e00,#fb0,#ff7,#ff6,#fa0,#f00,#c00,#c00,#c00,#f10,#f90,#fe0,#fd0,#fa0,#f50,#f10,#c00,#b00,#b00,#b00,#c00,#e00,#f10,#f40,#f60,#f60,#f50,#f20,#d00,#b00,#b00,#b00,#b00,#d00,#f00,#f30,#f40,#f40,#f40,#f30,#f30,#f20,#f20)"></i><i style="top:106.00px;height:10.35px;-webkit-mask-image:linear-gradient(180deg,transparent 0.65px,#000 3.54px);mask-image:linear-gradient(180deg,transparent 0.65px,#000 3.54px);background:linear-gradient(90deg,#000,#000,#000,#000,#100,#900,#a00,#700,#700,#700,#700,#e00,#e00,#a00,#a00,#a00,#b00,#f30,#f30,#f00,#c00,#c00,#c00,#c00,#f10,#f60,#f80,#f40,#e00,#d00,#d00,#d00,#f00,#f60,#f90,#f70,#f10,#d00,#d00,#d00,#d00,#f40,#fc0,#fe0,#f80,#f00,#d00,#d00,#d00,#e00,#f40,#f70,#f50,#e00,#b00,#b00,#b00,#c00,#f10,#f40,#f40,#f00,#c00,#c00,#c00,#c00,#f00,#f40,#f50,#f20,#c00,#a00,#a00,#a00,#a00,#f10,#f80,#fa0,#f70,#f00,#d00,#d00,#d00,#e00,#f50,#f90,#f70,#f10,#d00,#d00,#d00,#f10,#fb0,#ff0,#fb0,#f40,#f30,#f30,#f30,#f90,#ff4,#ff4,#fa0,#f20,#f20,#f20,#f20,#f70,#fe0,#ff1,#fa0,#f30,#f20,#f20,#f20,#f50,#fb0,#fe0,#fb0,#f40,#e00,#e00,#e00,#e00,#f50,#fd0,#ff4,#fd0,#f10,#b00,#b00,#b00,#d00,#f70,#fe0,#fa0,#e00,#900,#900,#900,#d00,#fb0,#ff1,#f60,#900,#800,#800,#900,#f30,#fe0,#fc0,#f10,#800,#800,#800,#900,#f20,#f90,#f70,#e00,#b00,#b00,#b00,#d00,#f50,#f70,#f30,#d00,#c00,#c00,#c00,#d00,#f20,#f30,#f10,#d00,#d00,#d00,#d00,#e00,#f20,#f30,#f20,#d00,#c00,#c00,#c00,#f00,#fa0,#ff0,#fb0,#f20,#c00,#c00,#c00,#d00,#f60,#ff0,#ff0,#f30,#900,#900,#900,#b00,#f70,#fe0,#fb0,#f20,#900,#800,#800,#800,#e00,#fb0,#ff7,#ff5,#f80,#d00,#c00,#c00,#c00,#f10,#fa0,#fe0,#fd0,#f90,#f50,#f00,#c00,#b00,#b00,#b00,#c00,#e00,#f10,#f40,#f60,#f60,#f50,#f20,#d00,#b00,#b00,#b00,#b00,#c00,#f00,#f30,#f40,#f40,#f40,#f30,#f30,#f20,#f20,#f20)"></i><i style="top:109.00px;height:7.35px;-webkit-mask-image:linear-gradient(180deg,transparent 0.54px,#000 3.42px);mask-image:linear-gradient(180deg,transparent 0.54px,#000 3.42px);background:linear-gradient(90deg,#000,#000,#000,#000,#200,#b00,#700,#700,#700,#700,#b00,#f00,#b00,#a00,#a00,#a00,#f00,#f30,#f10,#c00,#c00,#c00,#c00,#e00,#f50,#f80,#f50,#e00,#d00,#d00,#d00,#d00,#f40,#f90,#f80,#f20,#d00,#d00,#d00,#d00,#f10,#fa0,#fe0,#fa0,#f10,#d00,#d00,#d00,#d00,#f30,#f70,#f60,#f00,#b00,#b00,#b00,#b00,#e00,#f40,#f50,#f10,#c00,#c00,#c00,#c00,#e00,#f30,#f50,#f20,#c00,#a00,#a00,#a00,#a00,#e00,#f70,#fb0,#f80,#f00,#d00,#d00,#d00,#d00,#f40,#f90,#f70,#f10,#d00,#d00,#d00,#f00,#fa0,#ff1,#fa0,#f40,#f30,#f30,#f30,#f80,#ff3,#ff4,#f90,#f20,#f20,#f20,#f20,#f60,#fe0,#ff1,#f90,#f20,#f20,#f20,#f20,#f40,#fb0,#fe0,#fa0,#f30,#e00,#e00,#e00,#e00,#f50,#fe0,#ff4,#fb0,#e00,#b00,#b00,#b00,#d00,#f80,#fe0,#f80,#b00,#900,#900,#900,#e00,#fd0,#ff0,#f20,#800,#800,#800,#900,#f50,#ff0,#f90,#c00,#800,#800,#800,#a00,#f40,#f90,#f50,#c00,#b00,#b00,#b00,#e00,#f60,#f70,#f10,#c00,#c00,#c00,#c00,#e00,#f30,#f30,#f10,#d00,#d00,#d00,#d00,#e00,#f30,#f40,#f10,#c00,#c00,#c00,#c00,#f10,#fb0,#ff1,#f90,#f00,#c00,#c00,#c00,#e00,#f80,#ff1,#fd0,#e00,#900,#900,#900,#b00,#f80,#fe0,#f90,#e00,#800,#800,#800,#800,#f00,#fc0,#ff7,#ff2,#f50,#c00,#c00,#c00,#c00,#f20,#fa0,#fe0,#fd0,#f90,#f40,#e00,#c00,#b00,#b00,#b00,#c00,#e00,#f10,#f40,#f60,#f60,#f50,#f10,#d00,#b00,#b00,#b00,#b00,#c00,#f00,#f20,#f40,#f40,#f40,#f30,#f30,#f20,#f20,#f10,#f10)"></i><i style="top:112.00px;height:4.35px;-webkit-mask-image:linear-gradient(180deg,transparent 0.42px,#000 3.30px);mask-image:linear-gradient(180deg,transparent 0.42px,#000 3.30px);background:linear-gradient(90deg,#000,#000,#000,#000,#b00,#800,#700,#700,#700,#800,#f10,#b00,#a00,#a00,#a00,#d00,#f40,#f10,#d00,#c00,#c00,#c00,#d00,#f40,#f80,#f60,#f00,#d00,#d00,#d00,#d00,#f30,#f90,#f90,#f20,#d00,#d00,#d00,#d00,#f00,#f90,#ff0,#fa0,#f00,#d00,#d00,#d00,#d00,#f20,#f70,#f60,#e00,#b00,#b00,#b00,#b00,#e00,#f40,#f50,#f10,#c00,#c00,#c00,#c00,#e00,#f30,#f50,#f20,#c00,#a00,#a00,#a00,#a00,#e00,#f70,#fb0,#f70,#e00,#d00,#d00,#d00,#d00,#f40,#fa0,#f70,#e00,#e00,#e00,#e00,#f00,#fb0,#ff1,#f90,#f40,#f40,#f40,#f40,#f90,#ff5,#ff2,#f60,#f20,#f20,#f20,#f20,#f70,#ff1,#ff0,#f70,#f20,#f20,#f20,#f20,#f60,#fd0,#fe0,#f70,#f00,#e00,#e00,#e00,#f00,#f70,#ff1,#ff3,#f60,#b00,#b00,#b00,#b00,#f00,#fa0,#fe0,#f20,#900,#900,#900,#900,#f20,#ff1,#fb0,#b00,#800,#800,#800,#a00,#f90,#ff0,#f40,#900,#800,#800,#800,#c00,#f70,#f90,#f10,#b00,#b00,#b00,#b00,#f10,#f70,#f50,#e00,#c00,#c00,#c00,#c00,#f00,#f40,#f30,#e00,#d00,#d00,#d00,#d00,#f00,#f40,#f30,#e00,#c00,#c00,#c00,#c00,#f30,#fe0,#fe0,#f50,#d00,#c00,#c00,#c00,#e00,#fa0,#ff2,#f80,#a00,#900,#900,#900,#c00,#fa0,#fe0,#f60,#b00,#800,#800,#800,#900,#f10,#fe0,#ff8,#fe0,#f20,#c00,#c00,#c00,#c00,#f20,#fb0,#ff0,#fd0,#f80,#f30,#d00,#c00,#c00,#c00,#c00,#c00,#e00,#f20,#f40,#f60,#f70,#f40,#f10,#c00,#b00,#b00,#b00,#b00,#c00,#e00,#f20,#f40,#f40,#f40,#f30,#f30,#f20,#f20,#f10,#f10,#f10)"></i></div>
<div class="a" style="left:510.1px;top:54.3px;width:6.7px;height:115.3px;background:linear-gradient(180deg,#ffffff,#ffffe6,#ffffcd,#ffffb4,#ffff9b,#ffff82,#ffff6a,#ffff51,#ffff38,#ffff1f,#ffff06,#fff200,#ffe200,#ffd100,#ffc000,#ffb000,#ff9f00,#ff8f00,#ff7e00,#ff6d00,#ff5d00,#ff4c00,#ff3c00,#ff2b00,#ff1a00,#ff0a00,#f80000,#e80000,#d70000,#c60000,#b60000,#a50000,#950000,#840000,#730000,#630000,#520000,#410000,#310000,#200000,#100000);box-shadow:0 0 0 0.6px rgba(150,150,175,.35)"></div>
<div class="tk" style="left:520.40px;top:154.45px;font-size:11.10px">0.1</div>
<div class="tk" style="left:520.40px;top:142.75px;font-size:11.10px">0.2</div>
<div class="tk" style="left:520.40px;top:131.05px;font-size:11.10px">0.3</div>
<div class="tk" style="left:520.40px;top:119.35px;font-size:11.10px">0.4</div>
<div class="tk" style="left:520.40px;top:107.65px;font-size:11.10px">0.5</div>
<div class="tk" style="left:520.40px;top:95.95px;font-size:11.10px">0.6</div>
<div class="tk" style="left:520.40px;top:84.25px;font-size:11.10px">0.7</div>
<div class="tk" style="left:520.40px;top:72.55px;font-size:11.10px">0.8</div>
<div class="tk" style="left:520.40px;top:60.85px;font-size:11.10px">0.9</div>
<div class="tk" style="left:521.30px;top:47.25px;font-size:11.10px">1</div>
<div class="tk" style="left:370.40px;top:165.55px;font-size:11.10px;transform:translateX(-100%)">1</div>
<div class="tk" style="left:370.60px;top:148.76px;font-size:11.10px;transform:translateX(-100%)">2</div>
<div class="tk" style="left:370.60px;top:131.98px;font-size:11.10px;transform:translateX(-100%)">3</div>
<div class="tk" style="left:370.60px;top:115.19px;font-size:11.10px;transform:translateX(-100%)">4</div>
<div class="tk" style="left:370.60px;top:98.41px;font-size:11.10px;transform:translateX(-100%)">5</div>
<div class="tk" style="left:370.60px;top:81.62px;font-size:11.10px;transform:translateX(-100%)">6</div>
<div class="tk" style="left:370.60px;top:64.84px;font-size:11.10px;transform:translateX(-100%)">7</div>
<div class="tk" style="left:370.60px;top:48.05px;font-size:11.10px;transform:translateX(-100%)">8</div>
<div class="tk" style="left:374.00px;top:174.35px;font-size:11.10px;transform:translateX(-50%)">0</div>
<div class="tk" style="left:400.06px;top:174.35px;font-size:11.10px;transform:translateX(-50%)">0.2</div>
<div class="tk" style="left:426.12px;top:174.35px;font-size:11.10px;transform:translateX(-50%)">0.4</div>
<div class="tk" style="left:452.18px;top:174.35px;font-size:11.10px;transform:translateX(-50%)">0.6</div>
<div class="tk" style="left:478.24px;top:174.35px;font-size:11.10px;transform:translateX(-50%)">0.8</div>
<div class="tk" style="left:504.30px;top:174.35px;font-size:11.10px;transform:translateX(-50%)">1</div>
<div class="tk" style="left:384.50px;top:186.70px;font-size:11.10px">Position along beam (x/L)</div>
<div class="tk" style="left:357.30px;top:113.35px;font-size:11.10px;transform:translate(-50%,-50%) rotate(-90deg)">Scale</div>
<div class="a hm" style="left:178.6px;top:210.3px;width:126.0px;height:114.2px"><i style="top:0.00px;height:115.25px;background:linear-gradient(90deg,#200,#200,#300,#600,#900,#d00,#f10,#f30,#f30,#f30,#f00,#a00,#700,#600,#600,#900,#e00,#f40,#f60,#f60,#f40,#c00,#700,#600,#600,#800,#a00,#c00,#c00,#a00,#700,#400,#400,#400,#700,#800,#900,#800,#500,#300,#200,#300,#500,#700,#800,#800,#600,#300,#300,#300,#600,#900,#a00,#a00,#800,#500,#400,#400,#700,#b00,#d00,#d00,#b00,#700,#600,#600,#900,#e00,#f00,#f00,#c00,#800,#600,#700,#a00,#f00,#f20,#f20,#e00,#900,#700,#700,#c00,#f30,#f50,#f50,#f10,#b00,#900,#900,#e00,#f60,#f90,#f90,#f60,#f00,#c00,#c00,#f50,#ff8,#fff,#fff,#fff,#ff1,#f20,#e00,#e00,#f30,#f90,#fb0,#fb0,#f70,#e00,#a00,#a00,#c00,#f10,#f40,#f40,#f20,#b00,#700,#700,#900,#e00,#f20,#f20,#e00,#900,#700,#700,#a00,#f00,#f30,#f30,#f10,#b00,#700,#700,#900,#e00,#f30,#f30,#f20,#c00,#800,#700,#800,#c00,#f20,#f30,#f30,#e00,#900,#700,#700,#a00,#f00,#f20,#f20,#e00,#900,#700,#700,#900,#d00,#e00,#e00,#c00,#800,#600,#600,#700,#a00,#c00,#c00,#b00,#700,#500,#400,#500,#700,#800,#900,#800,#600,#400,#300,#400,#500,#700,#800,#800,#600,#400,#300,#400,#600,#800,#800,#700,#500,#400,#300,#400,#600,#800,#900,#800,#500,#400,#300,#500,#900,#a00,#a00,#900,#600,#500,#500,#700,#a00,#c00,#c00,#a00,#700,#600,#600,#a00,#d00,#e00,#d00,#a00,#800,#700,#800,#b00,#e00,#f00,#e00,#c00,#900,#900,#a00,#e00,#f20,#f30,#f30,#f50,#f80,#fc0,#fe0,#ff0)"></i><i style="top:0.00px;height:115.25px;-webkit-mask-image:linear-gradient(180deg,transparent 0.00px,#000 8.33px);mask-image:linear-gradient(180deg,transparent 0.00px,#000 8.33px);background:linear-gradient(90deg,#200,#200,#300,#600,#900,#d00,#f10,#f30,#f30,#f30,#f00,#b00,#700,#600,#600,#800,#d00,#f40,#f60,#f60,#f50,#e00,#800,#600,#600,#700,#900,#b00,#c00,#b00,#800,#500,#400,#400,#600,#800,#900,#900,#700,#400,#200,#200,#400,#600,#800,#800,#700,#500,#300,#300,#400,#700,#a00,#b00,#a00,#700,#500,#400,#500,#800,#c00,#d00,#d00,#a00,#600,#600,#600,#a00,#e00,#f00,#e00,#a00,#700,#600,#700,#b00,#f10,#f20,#f10,#d00,#800,#700,#800,#e00,#f40,#f50,#f50,#f00,#a00,#900,#a00,#f10,#f80,#fa0,#f90,#f50,#e00,#c00,#d00,#fa0,#ffd,#fff,#fff,#ffd,#fb0,#f00,#e00,#f10,#f60,#fb0,#fc0,#fb0,#f40,#c00,#a00,#a00,#e00,#f30,#f50,#f40,#f00,#900,#700,#800,#c00,#f10,#f20,#f10,#c00,#800,#700,#800,#d00,#f30,#f30,#f20,#d00,#800,#700,#800,#c00,#f20,#f30,#f30,#e00,#900,#700,#800,#b00,#f20,#f30,#f30,#f00,#900,#700,#700,#a00,#f00,#f20,#f20,#e00,#900,#700,#700,#900,#d00,#e00,#e00,#c00,#800,#600,#600,#700,#a00,#c00,#c00,#a00,#600,#400,#400,#500,#700,#900,#900,#800,#500,#400,#300,#400,#600,#800,#800,#700,#500,#300,#400,#500,#700,#800,#800,#600,#400,#300,#400,#500,#800,#900,#900,#600,#400,#300,#400,#800,#a00,#b00,#a00,#700,#500,#500,#600,#a00,#c00,#c00,#a00,#700,#600,#600,#900,#d00,#e00,#d00,#b00,#800,#700,#700,#a00,#e00,#f00,#f00,#c00,#a00,#900,#900,#c00,#f20,#f30,#f30,#f40,#f60,#f80,#fb0,#fc0,#fd0)"></i><i style="top:8.00px;height:107.25px;-webkit-mask-image:linear-gradient(180deg,transparent 0.33px,#000 8.65px);mask-image:linear-gradient(180deg,transparent 0.33px,#000 8.65px);background:linear-gradient(90deg,#200,#200,#300,#500,#800,#b00,#e00,#f20,#f30,#f30,#f20,#e00,#a00,#700,#600,#600,#900,#f00,#f50,#f70,#f70,#f40,#c00,#700,#600,#600,#800,#a00,#c00,#c00,#b00,#700,#400,#400,#400,#600,#800,#900,#800,#600,#300,#200,#200,#400,#700,#800,#800,#600,#400,#300,#300,#500,#900,#b00,#b00,#900,#600,#400,#400,#600,#a00,#d00,#d00,#c00,#800,#600,#600,#800,#d00,#f00,#f00,#d00,#800,#600,#600,#900,#e00,#f20,#f20,#e00,#900,#700,#700,#b00,#f30,#f50,#f50,#f10,#b00,#900,#900,#f00,#f80,#fb0,#fa0,#f60,#f00,#c00,#c00,#f80,#ffb,#ffe,#ffe,#ffd,#fb0,#f00,#e00,#f10,#f70,#fc0,#fd0,#fc0,#f40,#c00,#a00,#b00,#f00,#f40,#f50,#f40,#d00,#800,#700,#900,#d00,#f20,#f20,#f00,#a00,#700,#700,#a00,#f00,#f30,#f30,#f10,#a00,#700,#700,#a00,#f00,#f30,#f30,#f10,#b00,#700,#700,#900,#f00,#f30,#f30,#f20,#b00,#700,#700,#900,#d00,#f20,#f20,#f00,#b00,#700,#700,#800,#c00,#e00,#f00,#d00,#900,#600,#600,#700,#a00,#c00,#c00,#b00,#700,#500,#400,#500,#700,#800,#900,#800,#600,#400,#400,#400,#600,#800,#800,#700,#500,#400,#400,#400,#700,#800,#800,#700,#500,#400,#400,#500,#700,#900,#900,#700,#500,#400,#400,#600,#a00,#b00,#a00,#800,#500,#500,#500,#800,#b00,#c00,#c00,#900,#600,#600,#700,#b00,#e00,#e00,#d00,#a00,#700,#700,#800,#c00,#f00,#f00,#e00,#b00,#900,#900,#a00,#e00,#f20,#f20,#f30,#f40,#f50,#f70,#f90,#fa0,#fb0)"></i><i style="top:16.00px;height:99.25px;-webkit-mask-image:linear-gradient(180deg,transparent 0.65px,#000 8.98px);mask-image:linear-gradient(180deg,transparent 0.65px,#000 8.98px);background:linear-gradient(90deg,#200,#200,#300,#500,#700,#a00,#d00,#f10,#f20,#f30,#f30,#f10,#c00,#800,#600,#600,#700,#c00,#f30,#f60,#f70,#f60,#f00,#900,#600,#600,#700,#900,#b00,#c00,#c00,#900,#500,#400,#400,#600,#800,#900,#900,#700,#400,#200,#200,#400,#700,#800,#800,#700,#400,#300,#300,#500,#900,#b00,#b00,#900,#600,#400,#400,#600,#b00,#d00,#d00,#c00,#800,#600,#600,#900,#e00,#f00,#f00,#b00,#700,#600,#700,#b00,#f10,#f20,#f20,#d00,#800,#700,#800,#f00,#f50,#f60,#f40,#e00,#900,#900,#b00,#f50,#fb0,#fb0,#f90,#f30,#d00,#c00,#f20,#ff4,#ffe,#ffe,#ffe,#ff2,#f20,#e00,#f00,#f50,#fb0,#fe0,#fd0,#f70,#e00,#a00,#a00,#d00,#f30,#f50,#f50,#f00,#900,#700,#800,#c00,#f20,#f20,#f10,#b00,#800,#700,#900,#e00,#f30,#f40,#f20,#c00,#800,#700,#900,#e00,#f30,#f40,#f30,#d00,#800,#700,#800,#d00,#f30,#f40,#f30,#d00,#800,#700,#800,#c00,#f10,#f20,#f20,#d00,#800,#700,#700,#a00,#e00,#f00,#e00,#b00,#700,#600,#600,#800,#b00,#c00,#c00,#900,#600,#400,#400,#600,#800,#900,#900,#800,#500,#400,#400,#400,#600,#800,#800,#700,#500,#400,#400,#500,#700,#800,#800,#700,#400,#400,#400,#500,#700,#900,#900,#700,#500,#400,#400,#600,#a00,#b00,#a00,#800,#600,#500,#500,#800,#b00,#c00,#c00,#a00,#700,#600,#600,#a00,#d00,#e00,#d00,#b00,#800,#700,#800,#a00,#e00,#f00,#f00,#d00,#a00,#900,#900,#b00,#f10,#f20,#f20,#f30,#f40,#f50,#f70,#f80,#f80)"></i><i style="top:24.00px;height:91.25px;-webkit-mask-image:linear-gradient(180deg,transparent 0.98px,#000 9.31px);mask-image:linear-gradient(180deg,transparent 0.98px,#000 9.31px);background:linear-gradient(90deg,#200,#200,#300,#500,#700,#a00,#d00,#f10,#f20,#f30,#f30,#f00,#b00,#700,#600,#600,#800,#e00,#f40,#f70,#f70,#f40,#d00,#700,#600,#600,#800,#a00,#c00,#c00,#b00,#700,#400,#400,#500,#700,#900,#900,#800,#500,#300,#200,#300,#600,#800,#800,#700,#500,#300,#300,#400,#800,#b00,#b00,#a00,#700,#500,#400,#500,#a00,#d00,#e00,#d00,#900,#600,#600,#800,#d00,#f00,#f00,#d00,#800,#600,#600,#a00,#f00,#f20,#f20,#e00,#900,#700,#800,#d00,#f40,#f60,#f50,#f00,#a00,#900,#a00,#f20,#fa0,#fc0,#fb0,#f50,#e00,#c00,#e00,#fc0,#ffd,#ffe,#ffe,#ff9,#f70,#e00,#e00,#f30,#fa0,#fe0,#ff0,#fc0,#f30,#b00,#a00,#b00,#f10,#f50,#f50,#f40,#c00,#700,#700,#900,#e00,#f20,#f20,#f00,#a00,#700,#700,#a00,#f10,#f40,#f40,#f10,#a00,#700,#700,#a00,#f00,#f40,#f40,#f20,#c00,#800,#700,#900,#e00,#f30,#f40,#f30,#d00,#800,#700,#800,#b00,#f10,#f20,#f20,#d00,#800,#700,#700,#a00,#d00,#f00,#f00,#c00,#800,#600,#600,#700,#a00,#c00,#c00,#b00,#700,#500,#400,#500,#700,#900,#900,#800,#600,#400,#400,#400,#500,#700,#800,#800,#600,#400,#400,#400,#600,#800,#800,#800,#600,#400,#400,#400,#600,#800,#900,#900,#600,#400,#400,#400,#700,#b00,#b00,#a00,#800,#500,#500,#600,#900,#b00,#c00,#c00,#900,#600,#600,#700,#b00,#e00,#e00,#d00,#a00,#800,#700,#800,#b00,#f00,#f00,#f00,#c00,#900,#900,#900,#c00,#f10,#f20,#f20,#f30,#f40,#f50,#f60,#f60)"></i><i style="top:33.00px;height:82.25px;-webkit-mask-image:linear-gradient(180deg,transparent 0.31px,#000 8.64px);mask-image:linear-gradient(180deg,transparent 0.31px,#000 8.64px);background:linear-gradient(90deg,#200,#200,#300,#500,#800,#c00,#f00,#f20,#f30,#f30,#f10,#c00,#800,#600,#600,#700,#c00,#f30,#f70,#f70,#f60,#f00,#800,#600,#600,#700,#a00,#c00,#c00,#b00,#800,#400,#400,#400,#600,#800,#900,#800,#600,#300,#200,#300,#500,#700,#800,#800,#600,#400,#300,#300,#600,#a00,#b00,#b00,#800,#500,#400,#400,#700,#c00,#e00,#e00,#b00,#700,#600,#600,#a00,#f00,#f00,#f00,#b00,#700,#600,#700,#c00,#f10,#f20,#f20,#c00,#800,#700,#800,#e00,#f50,#f60,#f50,#e00,#900,#900,#a00,#f40,#fc0,#fc0,#fb0,#f50,#e00,#c00,#e00,#fc0,#ffd,#ffe,#ffe,#ff9,#f80,#e00,#e00,#f20,#f90,#ff0,#ff0,#fd0,#f50,#c00,#a00,#b00,#f00,#f40,#f50,#f50,#e00,#800,#700,#800,#d00,#f20,#f20,#f10,#c00,#800,#700,#800,#d00,#f30,#f40,#f30,#d00,#800,#700,#800,#c00,#f20,#f40,#f40,#f00,#a00,#700,#700,#a00,#f10,#f40,#f40,#f20,#b00,#800,#700,#900,#d00,#f20,#f20,#f10,#c00,#700,#700,#700,#b00,#e00,#f00,#e00,#b00,#700,#600,#600,#800,#b00,#c00,#c00,#a00,#600,#400,#400,#500,#700,#900,#900,#800,#600,#400,#400,#400,#600,#800,#800,#800,#500,#400,#400,#400,#700,#800,#800,#700,#500,#400,#400,#400,#700,#900,#900,#800,#500,#400,#400,#500,#900,#b00,#b00,#900,#600,#500,#500,#700,#a00,#c00,#c00,#a00,#700,#600,#600,#900,#d00,#e00,#e00,#b00,#800,#700,#800,#a00,#e00,#f00,#f00,#d00,#a00,#900,#900,#c00,#f10,#f20,#f20,#f20,#f30,#f40,#f50,#f50)"></i><i style="top:41.00px;height:74.25px;-webkit-mask-image:linear-gradient(180deg,transparent 0.64px,#000 8.96px);mask-image:linear-gradient(180deg,transparent 0.64px,#000 8.96px);background:linear-gradient(90deg,#200,#200,#300,#600,#900,#d00,#f10,#f30,#f30,#f20,#e00,#a00,#700,#600,#600,#900,#f00,#f50,#f70,#f70,#f40,#d00,#700,#600,#600,#800,#b00,#c00,#c00,#b00,#700,#400,#400,#400,#700,#900,#900,#800,#600,#300,#200,#300,#500,#700,#800,#800,#600,#400,#300,#300,#600,#900,#b00,#b00,#900,#600,#400,#400,#700,#b00,#e00,#e00,#c00,#800,#600,#600,#900,#d00,#f00,#f00,#d00,#800,#600,#600,#900,#f00,#f20,#f20,#f00,#a00,#700,#700,#b00,#f30,#f60,#f60,#f30,#c00,#900,#900,#d00,#f80,#fd0,#fd0,#fa0,#f30,#d00,#c00,#f20,#ff3,#ffd,#ffd,#ffd,#ff4,#f40,#e00,#e00,#f40,#fb0,#ff0,#ff0,#fc0,#f20,#b00,#a00,#c00,#f10,#f50,#f50,#f40,#d00,#800,#700,#900,#e00,#f20,#f20,#f00,#a00,#700,#700,#900,#f00,#f40,#f40,#f20,#c00,#800,#700,#900,#e00,#f30,#f40,#f30,#d00,#800,#700,#800,#c00,#f20,#f40,#f40,#f00,#900,#700,#700,#a00,#f00,#f20,#f20,#f00,#900,#700,#700,#900,#d00,#f00,#f00,#d00,#800,#600,#600,#700,#a00,#c00,#c00,#b00,#700,#500,#400,#500,#700,#900,#900,#900,#600,#400,#400,#400,#600,#800,#800,#800,#600,#400,#400,#400,#600,#800,#800,#700,#500,#400,#400,#400,#700,#900,#900,#800,#500,#400,#400,#600,#a00,#b00,#b00,#900,#600,#500,#500,#800,#b00,#c00,#c00,#900,#600,#600,#700,#b00,#e00,#e00,#d00,#a00,#700,#700,#800,#c00,#f00,#f00,#f00,#b00,#900,#900,#a00,#e00,#f20,#f20,#f20,#f20,#f30,#f40,#f40,#f40)"></i><i style="top:49.00px;height:66.25px;-webkit-mask-image:linear-gradient(180deg,transparent 0.96px,#000 9.29px);mask-image:linear-gradient(180deg,transparent 0.96px,#000 9.29px);background:linear-gradient(90deg,#200,#200,#300,#600,#900,#c00,#f00,#f20,#f30,#f30,#f10,#c00,#800,#600,#600,#800,#d00,#f30,#f70,#f70,#f60,#f10,#900,#600,#600,#700,#900,#c00,#c00,#c00,#900,#500,#400,#400,#500,#800,#900,#900,#800,#400,#200,#200,#300,#600,#800,#800,#800,#500,#300,#300,#400,#700,#a00,#b00,#b00,#800,#500,#400,#500,#800,#c00,#e00,#e00,#b00,#700,#600,#600,#a00,#e00,#f00,#f00,#c00,#700,#600,#700,#b00,#f10,#f20,#f20,#e00,#900,#700,#800,#d00,#f50,#f60,#f60,#f10,#a00,#900,#900,#f20,#fb0,#fe0,#fd0,#f80,#f00,#c00,#c00,#f80,#ffa,#ffd,#ffd,#ffc,#fc0,#f00,#e00,#f10,#f80,#fe0,#ff1,#ff0,#f70,#d00,#a00,#a00,#e00,#f40,#f50,#f50,#f00,#900,#700,#800,#c00,#f20,#f20,#f20,#c00,#800,#700,#800,#e00,#f40,#f40,#f30,#d00,#800,#700,#800,#d00,#f30,#f40,#f30,#e00,#900,#700,#800,#c00,#f30,#f40,#f40,#f00,#900,#700,#800,#b00,#f10,#f20,#f20,#e00,#900,#700,#700,#a00,#e00,#f00,#f00,#c00,#700,#600,#600,#800,#b00,#c00,#c00,#a00,#600,#400,#400,#600,#800,#900,#900,#800,#500,#400,#400,#500,#700,#800,#800,#700,#400,#400,#400,#500,#800,#800,#800,#600,#400,#400,#400,#600,#800,#900,#900,#600,#400,#400,#500,#900,#b00,#b00,#900,#600,#500,#500,#700,#a00,#c00,#c00,#a00,#700,#600,#600,#a00,#e00,#e00,#e00,#b00,#800,#700,#800,#b00,#f00,#f00,#f00,#c00,#900,#900,#900,#d00,#f10,#f20,#f20,#f20,#f30,#f30,#f40,#f40,#f40)"></i><i style="top:58.00px;height:57.25px;-webkit-mask-image:linear-gradient(180deg,transparent 0.29px,#000 8.62px);mask-image:linear-gradient(180deg,transparent 0.29px,#000 8.62px);background:linear-gradient(90deg,#200,#200,#300,#500,#800,#b00,#e00,#f10,#f30,#f30,#f30,#f00,#a00,#700,#600,#600,#900,#e00,#f50,#f70,#f70,#f50,#e00,#800,#600,#600,#700,#a00,#c00,#c00,#c00,#800,#400,#400,#400,#600,#800,#900,#900,#700,#300,#200,#200,#400,#700,#800,#800,#700,#400,#300,#300,#500,#900,#b00,#b00,#a00,#700,#400,#400,#600,#a00,#e00,#e00,#d00,#900,#600,#600,#800,#d00,#f10,#f00,#d00,#900,#600,#600,#900,#f00,#f30,#f30,#f00,#a00,#700,#700,#c00,#f40,#f60,#f60,#f20,#b00,#900,#900,#f20,#fb0,#fe0,#fe0,#f80,#f00,#c00,#d00,#f90,#ffb,#ffc,#ffc,#ffa,#f90,#e00,#e00,#f20,#f90,#ff0,#ff1,#fd0,#f40,#b00,#a00,#b00,#f10,#f50,#f50,#f40,#d00,#800,#700,#900,#f00,#f30,#f30,#f00,#a00,#700,#700,#b00,#f20,#f40,#f40,#f00,#a00,#700,#700,#b00,#f20,#f40,#f40,#f10,#a00,#700,#700,#a00,#f10,#f40,#f40,#f10,#b00,#700,#700,#a00,#f00,#f30,#f30,#f00,#a00,#700,#700,#900,#d00,#f00,#f00,#d00,#800,#600,#600,#700,#a00,#c00,#c00,#b00,#700,#400,#400,#500,#700,#900,#900,#800,#600,#400,#400,#400,#600,#800,#800,#800,#500,#400,#400,#500,#700,#800,#800,#700,#500,#400,#400,#500,#800,#900,#900,#700,#400,#400,#400,#700,#a00,#b00,#b00,#800,#500,#500,#500,#800,#c00,#c00,#c00,#900,#600,#600,#700,#b00,#e00,#e00,#d00,#a00,#800,#700,#800,#c00,#f00,#f10,#f00,#c00,#900,#900,#a00,#d00,#f10,#f20,#f20,#f20,#f20,#f30,#f30,#f40,#f40)"></i><i style="top:66.00px;height:49.25px;-webkit-mask-image:linear-gradient(180deg,transparent 0.62px,#000 8.94px);mask-image:linear-gradient(180deg,transparent 0.62px,#000 8.94px);background:linear-gradient(90deg,#200,#200,#300,#500,#700,#a00,#d00,#f10,#f30,#f30,#f30,#f10,#c00,#800,#600,#600,#700,#c00,#f30,#f70,#f80,#f60,#f10,#900,#600,#600,#700,#a00,#c00,#c00,#c00,#900,#500,#400,#400,#600,#800,#900,#900,#700,#300,#200,#200,#400,#700,#800,#800,#700,#400,#300,#300,#500,#900,#b00,#b00,#900,#600,#400,#400,#700,#c00,#e00,#e00,#c00,#700,#600,#600,#a00,#f00,#f10,#f00,#b00,#700,#600,#700,#c00,#f20,#f30,#f20,#c00,#800,#700,#900,#f10,#f60,#f60,#f40,#d00,#900,#900,#d00,#f90,#ff0,#ff0,#fb0,#f30,#c00,#c00,#f40,#ff6,#ffc,#ffc,#ffb,#fd0,#f10,#e00,#f00,#f70,#fe0,#ff1,#ff0,#f70,#d00,#a00,#b00,#e00,#f40,#f60,#f50,#f00,#800,#700,#800,#d00,#f20,#f30,#f10,#b00,#700,#700,#900,#f00,#f40,#f40,#f20,#b00,#700,#700,#900,#f00,#f40,#f40,#f30,#c00,#800,#700,#900,#e00,#f40,#f40,#f30,#d00,#800,#700,#800,#c00,#f20,#f30,#f20,#d00,#800,#700,#700,#b00,#e00,#f00,#f00,#b00,#700,#600,#600,#800,#b00,#c00,#c00,#a00,#600,#400,#400,#600,#800,#900,#900,#800,#500,#400,#400,#400,#700,#800,#800,#700,#500,#400,#400,#500,#700,#800,#800,#700,#500,#400,#400,#500,#700,#900,#900,#800,#500,#400,#400,#600,#a00,#b00,#b00,#900,#600,#500,#500,#700,#b00,#c00,#c00,#a00,#700,#600,#600,#900,#d00,#e00,#e00,#c00,#800,#700,#700,#a00,#e00,#f10,#f10,#e00,#b00,#900,#900,#b00,#f00,#f20,#f20,#f20,#f20,#f30,#f30,#f30,#f30)"></i><i style="top:74.00px;height:41.25px;-webkit-mask-image:linear-gradient(180deg,transparent 0.94px,#000 9.27px);mask-image:linear-gradient(180deg,transparent 0.94px,#000 9.27px);background:linear-gradient(90deg,#200,#200,#300,#500,#800,#b00,#e00,#f20,#f30,#f30,#f30,#f00,#a00,#700,#600,#600,#900,#f00,#f60,#f80,#f80,#f40,#c00,#700,#600,#600,#800,#b00,#c00,#c00,#a00,#600,#400,#400,#500,#800,#900,#900,#800,#400,#200,#200,#400,#600,#800,#800,#700,#500,#300,#300,#400,#900,#b00,#b00,#a00,#700,#400,#400,#600,#b00,#e00,#e00,#d00,#800,#600,#600,#900,#e00,#f10,#f10,#c00,#800,#600,#700,#b00,#f10,#f30,#f30,#e00,#800,#700,#800,#e00,#f50,#f60,#f60,#f00,#a00,#900,#a00,#f50,#fe0,#ff0,#fe0,#f60,#e00,#c00,#e00,#fc0,#ffb,#ffb,#ffb,#ff5,#f60,#e00,#e00,#f30,#fb0,#ff1,#ff2,#fd0,#f30,#b00,#a00,#c00,#f10,#f50,#f60,#f40,#c00,#700,#700,#900,#f00,#f30,#f30,#f00,#a00,#700,#700,#a00,#f10,#f40,#f40,#f20,#b00,#700,#700,#900,#f00,#f40,#f40,#f30,#c00,#800,#700,#800,#d00,#f30,#f40,#f40,#e00,#900,#700,#800,#b00,#f10,#f30,#f30,#e00,#900,#700,#700,#900,#d00,#f00,#f00,#d00,#800,#600,#600,#700,#a00,#c00,#c00,#b00,#800,#500,#400,#500,#700,#900,#900,#900,#700,#400,#400,#400,#500,#700,#800,#800,#700,#400,#400,#400,#500,#800,#800,#800,#600,#400,#400,#400,#500,#800,#900,#900,#700,#400,#400,#400,#700,#b00,#b00,#b00,#800,#600,#500,#500,#800,#b00,#c00,#c00,#a00,#600,#600,#600,#a00,#e00,#e00,#e00,#b00,#800,#700,#800,#b00,#f00,#f10,#f10,#d00,#a00,#900,#900,#c00,#f10,#f20,#f20,#f20,#f20,#f30,#f30,#f30)"></i><i style="top:83.00px;height:32.25px;-webkit-mask-image:linear-gradient(180deg,transparent 0.27px,#000 8.60px);mask-image:linear-gradient(180deg,transparent 0.27px,#000 8.60px);background:linear-gradient(90deg,#200,#200,#300,#600,#900,#d00,#f10,#f30,#f30,#f30,#f10,#c00,#700,#600,#600,#800,#e00,#f50,#f80,#f80,#f60,#e00,#800,#600,#600,#800,#b00,#c00,#c00,#b00,#700,#400,#400,#400,#700,#900,#900,#900,#600,#300,#200,#300,#500,#800,#800,#800,#600,#300,#300,#300,#600,#a00,#b00,#b00,#900,#500,#400,#400,#800,#c00,#e00,#e00,#b00,#700,#600,#600,#a00,#f00,#f10,#f00,#b00,#700,#600,#700,#c00,#f20,#f30,#f20,#d00,#800,#700,#800,#e00,#f60,#f70,#f60,#f00,#a00,#900,#a00,#f40,#fe0,#ff1,#ff0,#f80,#e00,#c00,#d00,#f90,#ff9,#ffb,#ffb,#ff8,#f90,#e00,#e00,#f10,#f90,#ff0,#ff2,#ff0,#f70,#c00,#a00,#a00,#e00,#f40,#f60,#f60,#f10,#900,#700,#800,#c00,#f20,#f30,#f20,#d00,#800,#700,#800,#d00,#f30,#f50,#f40,#f00,#900,#700,#700,#b00,#f20,#f50,#f50,#f20,#b00,#700,#700,#900,#f00,#f40,#f50,#f30,#d00,#800,#700,#800,#d00,#f20,#f30,#f20,#d00,#800,#700,#700,#a00,#e00,#f00,#f00,#c00,#700,#600,#600,#800,#b00,#c00,#c00,#b00,#700,#400,#400,#500,#700,#900,#900,#900,#600,#400,#300,#400,#600,#800,#800,#800,#600,#400,#300,#400,#700,#800,#800,#800,#500,#400,#300,#400,#700,#900,#900,#900,#600,#400,#300,#500,#900,#b00,#b00,#900,#600,#500,#500,#700,#b00,#c00,#c00,#b00,#700,#600,#600,#900,#e00,#f00,#e00,#b00,#800,#700,#800,#b00,#f00,#f10,#f10,#d00,#a00,#900,#900,#c00,#f10,#f20,#f20,#f20,#f20,#f30,#f30,#f30)"></i><i style="top:91.00px;height:24.25px;-webkit-mask-image:linear-gradient(180deg,transparent 0.60px,#000 8.92px);mask-image:linear-gradient(180deg,transparent 0.60px,#000 8.92px);background:linear-gradient(90deg,#200,#200,#300,#600,#900,#d00,#f10,#f30,#f30,#f30,#f00,#a00,#700,#600,#600,#900,#f00,#f60,#f80,#f80,#f50,#d00,#700,#600,#600,#800,#b00,#c00,#d00,#b00,#700,#400,#400,#400,#700,#900,#900,#900,#600,#300,#200,#200,#500,#700,#800,#800,#700,#400,#300,#300,#500,#900,#b00,#b00,#a00,#600,#400,#400,#600,#b00,#e00,#e00,#d00,#900,#600,#600,#800,#d00,#f10,#f10,#e00,#900,#600,#600,#900,#e00,#f30,#f30,#f10,#b00,#700,#700,#a00,#f20,#f70,#f70,#f40,#d00,#900,#900,#c00,#f80,#ff1,#ff2,#fe0,#f50,#d00,#c00,#f00,#fd0,#ffa,#ffa,#ffa,#ff4,#f50,#e00,#e00,#f30,#fb0,#ff2,#ff2,#fe0,#f40,#b00,#a00,#b00,#f10,#f50,#f60,#f50,#e00,#800,#700,#800,#e00,#f30,#f30,#f10,#b00,#700,#700,#900,#f00,#f40,#f50,#f30,#d00,#800,#700,#800,#d00,#f40,#f50,#f40,#e00,#900,#700,#800,#c00,#f30,#f50,#f50,#f10,#a00,#700,#700,#a00,#f00,#f30,#f30,#f00,#a00,#700,#700,#900,#d00,#f10,#f10,#d00,#900,#600,#600,#700,#a00,#d00,#d00,#b00,#700,#500,#400,#500,#700,#900,#900,#900,#600,#400,#300,#400,#600,#800,#800,#800,#600,#400,#300,#400,#700,#800,#800,#700,#500,#300,#300,#500,#700,#900,#900,#800,#500,#300,#400,#600,#b00,#b00,#b00,#800,#500,#500,#500,#900,#c00,#d00,#c00,#900,#600,#600,#700,#c00,#f00,#f00,#d00,#900,#700,#700,#900,#d00,#f10,#f10,#e00,#b00,#900,#900,#b00,#f00,#f20,#f20,#f20,#f20,#f20,#f30,#f30,#f30)"></i><i style="top:99.00px;height:16.25px;-webkit-mask-image:linear-gradient(180deg,transparent 0.92px,#000 3.78px);mask-image:linear-gradient(180deg,transparent 0.92px,#000 3.78px);background:linear-gradient(90deg,#200,#200,#300,#600,#a00,#e00,#f20,#f30,#f30,#f20,#d00,#800,#600,#600,#600,#a00,#f10,#f70,#f80,#f80,#f20,#a00,#600,#600,#600,#800,#b00,#d00,#d00,#a00,#600,#400,#400,#400,#700,#900,#900,#800,#500,#200,#200,#300,#500,#800,#800,#800,#600,#300,#300,#300,#500,#a00,#b00,#b00,#900,#500,#400,#400,#600,#b00,#e00,#e00,#c00,#700,#600,#600,#800,#d00,#f10,#f10,#c00,#800,#600,#600,#900,#e00,#f30,#f30,#f00,#900,#700,#700,#a00,#f20,#f70,#f70,#f30,#b00,#900,#900,#c00,#f90,#ff2,#ff2,#fc0,#f20,#c00,#c00,#f00,#fd0,#ffa,#ffa,#ffa,#fe0,#f10,#e00,#e00,#f30,#fb0,#ff2,#ff2,#fb0,#f00,#a00,#a00,#b00,#f10,#f60,#f60,#f30,#b00,#700,#700,#900,#f00,#f30,#f30,#f00,#900,#700,#700,#a00,#f10,#f50,#f50,#f10,#a00,#700,#700,#900,#f00,#f40,#f50,#f20,#b00,#700,#700,#800,#e00,#f40,#f50,#f30,#c00,#800,#700,#800,#c00,#f20,#f30,#f20,#c00,#700,#700,#700,#a00,#f00,#f10,#f00,#a00,#600,#600,#600,#800,#c00,#d00,#c00,#900,#500,#400,#400,#600,#800,#900,#900,#700,#400,#300,#300,#500,#700,#800,#800,#600,#400,#300,#400,#500,#800,#800,#800,#500,#400,#300,#400,#600,#900,#900,#900,#500,#300,#300,#500,#900,#b00,#b00,#900,#600,#500,#500,#700,#b00,#d00,#c00,#a00,#600,#600,#600,#a00,#e00,#f00,#e00,#a00,#700,#700,#800,#b00,#f00,#f10,#f00,#b00,#900,#900,#900,#d00,#f10,#f20,#f20,#f20,#f20,#f30,#f30,#f30,#f30)"></i><i style="top:102.00px;height:13.25px;-webkit-mask-image:linear-gradient(180deg,transparent 0.78px,#000 3.63px);mask-image:linear-gradient(180deg,transparent 0.78px,#000 3.63px);background:linear-gradient(90deg,#200,#200,#400,#700,#b00,#f00,#f30,#f40,#f30,#e00,#a00,#600,#600,#600,#700,#c00,#f40,#f80,#f80,#f50,#d00,#700,#600,#600,#700,#900,#c00,#d00,#c00,#800,#400,#400,#400,#500,#800,#900,#900,#600,#300,#200,#200,#300,#600,#800,#800,#700,#400,#300,#300,#300,#700,#b00,#b00,#a00,#700,#400,#400,#400,#700,#c00,#e00,#e00,#900,#600,#600,#600,#900,#f00,#f10,#e00,#a00,#600,#600,#600,#a00,#f10,#f30,#f20,#b00,#700,#700,#700,#c00,#f50,#f70,#f50,#d00,#900,#900,#900,#f10,#fc0,#ff2,#fe0,#f60,#d00,#c00,#c00,#f40,#ff5,#ffa,#ffa,#ff3,#f40,#e00,#e00,#f00,#f70,#ff0,#ff2,#fe0,#f30,#a00,#a00,#a00,#d00,#f40,#f60,#f50,#d00,#700,#700,#700,#b00,#f20,#f30,#f10,#a00,#700,#700,#800,#d00,#f40,#f50,#f20,#b00,#700,#700,#700,#c00,#f30,#f50,#f30,#c00,#700,#700,#700,#b00,#f30,#f50,#f40,#d00,#800,#700,#700,#a00,#f00,#f30,#f20,#c00,#700,#700,#700,#900,#e00,#f10,#f00,#a00,#600,#600,#600,#700,#b00,#d00,#c00,#900,#500,#400,#400,#500,#800,#900,#900,#700,#400,#300,#300,#400,#700,#800,#800,#600,#400,#300,#300,#500,#800,#800,#800,#500,#400,#300,#400,#500,#800,#900,#800,#500,#300,#300,#400,#800,#b00,#b00,#900,#600,#500,#500,#600,#a00,#d00,#c00,#900,#600,#600,#600,#900,#e00,#f00,#d00,#a00,#700,#700,#700,#a00,#f00,#f10,#f00,#b00,#900,#900,#900,#c00,#f10,#f20,#f20,#f20,#f20,#f20,#f30,#f30,#f30,#f30)"></i><i style="top:105.00px;height:10.25px;-webkit-mask-image:linear-gradient(180deg,transparent 0.63px,#000 3.49px);mask-image:linear-gradient(180deg,transparent 0.63px,#000 3.49px);background:linear-gradient(90deg,#200,#200,#400,#700,#c00,#f10,#f30,#f30,#f10,#b00,#700,#600,#600,#600,#900,#f00,#f60,#f80,#f70,#f00,#800,#600,#600,#600,#800,#b00,#d00,#c00,#900,#500,#400,#400,#400,#600,#900,#900,#700,#400,#200,#200,#200,#400,#700,#800,#800,#500,#300,#300,#300,#400,#900,#b00,#b00,#800,#500,#400,#400,#500,#a00,#e00,#e00,#b00,#600,#600,#600,#700,#c00,#f10,#f00,#b00,#700,#600,#600,#800,#d00,#f30,#f30,#d00,#800,#700,#700,#900,#f20,#f70,#f60,#f00,#900,#900,#900,#b00,#f80,#ff2,#ff0,#f70,#d00,#c00,#c00,#e00,#fd0,#ff9,#ff9,#ff4,#f50,#e00,#e00,#e00,#f40,#fd0,#ff2,#fe0,#f30,#a00,#a00,#a00,#c00,#f20,#f60,#f50,#d00,#700,#700,#700,#a00,#f10,#f30,#f10,#a00,#700,#700,#700,#c00,#f30,#f50,#f20,#a00,#700,#700,#700,#b00,#f30,#f50,#f20,#b00,#700,#700,#700,#a00,#f20,#f50,#f30,#c00,#700,#700,#700,#900,#f00,#f30,#f20,#b00,#700,#700,#700,#900,#d00,#f10,#e00,#900,#600,#600,#600,#700,#b00,#d00,#c00,#800,#400,#400,#400,#500,#800,#900,#900,#600,#400,#300,#300,#400,#700,#800,#800,#500,#300,#300,#300,#500,#800,#800,#700,#500,#300,#300,#300,#500,#800,#900,#800,#400,#300,#300,#400,#800,#b00,#b00,#800,#500,#500,#500,#600,#a00,#d00,#c00,#800,#600,#600,#600,#800,#d00,#f00,#d00,#900,#700,#700,#700,#a00,#e00,#f10,#f00,#b00,#900,#900,#900,#b00,#f00,#f20,#f20,#f20,#f20,#f20,#f30,#f30,#f30,#f30,#f30)"></i><i style="top:108.00px;height:7.25px;-webkit-mask-image:linear-gradient(180deg,transparent 0.49px,#000 3.34px);mask-image:linear-gradient(180deg,transparent 0.49px,#000 3.34px);background:linear-gradient(90deg,#200,#200,#400,#900,#e00,#f30,#f40,#f10,#c00,#700,#600,#600,#600,#700,#c00,#f40,#f80,#f70,#f10,#900,#600,#600,#600,#600,#900,#c00,#d00,#a00,#500,#400,#400,#400,#500,#800,#900,#800,#400,#200,#200,#200,#300,#600,#800,#800,#500,#300,#300,#300,#300,#700,#b00,#b00,#800,#500,#400,#400,#400,#800,#d00,#e00,#b00,#600,#600,#600,#600,#a00,#f10,#f00,#b00,#700,#600,#600,#700,#c00,#f20,#f30,#d00,#800,#700,#700,#800,#f00,#f70,#f60,#e00,#900,#900,#900,#a00,#f60,#ff1,#ff0,#f60,#d00,#c00,#c00,#d00,#fa0,#ff9,#ff9,#ff2,#f30,#e00,#e00,#e00,#f30,#fc0,#ff2,#fd0,#f10,#a00,#a00,#a00,#b00,#f20,#f60,#f40,#b00,#700,#700,#700,#a00,#f10,#f30,#e00,#800,#700,#700,#700,#c00,#f30,#f50,#f00,#800,#700,#700,#700,#b00,#f30,#f50,#f00,#900,#700,#700,#700,#b00,#f20,#f50,#f10,#900,#700,#700,#700,#a00,#f10,#f30,#f00,#900,#700,#700,#700,#900,#e00,#f10,#d00,#700,#600,#600,#600,#700,#b00,#d00,#a00,#600,#400,#400,#400,#500,#800,#900,#800,#500,#300,#300,#300,#400,#700,#800,#700,#400,#300,#300,#300,#500,#800,#800,#600,#400,#300,#300,#300,#500,#900,#900,#700,#400,#300,#300,#400,#800,#b00,#a00,#700,#500,#500,#500,#600,#a00,#d00,#b00,#700,#600,#600,#600,#800,#d00,#f00,#c00,#800,#700,#700,#700,#900,#e00,#f10,#e00,#a00,#900,#900,#900,#a00,#f00,#f20,#f20,#f20,#f20,#f20,#f20,#f30,#f30,#f30,#f30,#f30)"></i><i style="top:111.00px;height:4.25px;-webkit-mask-image:linear-gradient(180deg,transparent 0.34px,#000 3.20px);mask-image:linear-gradient(180deg,transparent 0.34px,#000 3.20px);background:linear-gradient(90deg,#200,#200,#500,#b00,#f10,#f40,#f20,#c00,#700,#600,#600,#600,#600,#a00,#f20,#f70,#f80,#f10,#900,#600,#600,#600,#600,#800,#b00,#d00,#a00,#500,#400,#400,#400,#400,#700,#900,#800,#400,#200,#200,#200,#200,#500,#800,#800,#500,#300,#300,#300,#300,#600,#a00,#b00,#800,#500,#400,#400,#400,#700,#c00,#e00,#a00,#600,#600,#600,#600,#900,#f00,#f00,#a00,#600,#600,#600,#600,#b00,#f20,#f20,#b00,#700,#700,#700,#700,#e00,#f70,#f50,#c00,#900,#900,#900,#a00,#f60,#ff2,#fd0,#f30,#c00,#c00,#c00,#d00,#fb0,#ff9,#ff9,#fb0,#f00,#e00,#e00,#e00,#f30,#fd0,#ff2,#f90,#c00,#a00,#a00,#a00,#c00,#f30,#f60,#f10,#800,#700,#700,#700,#b00,#f20,#f20,#b00,#700,#700,#700,#700,#d00,#f40,#f30,#b00,#700,#700,#700,#700,#d00,#f40,#f40,#c00,#700,#700,#700,#700,#c00,#f40,#f40,#d00,#700,#700,#700,#700,#b00,#f20,#f30,#c00,#700,#700,#700,#700,#a00,#f00,#f00,#a00,#600,#600,#600,#600,#800,#c00,#c00,#800,#500,#400,#400,#400,#600,#800,#900,#700,#400,#300,#300,#300,#400,#700,#800,#600,#400,#300,#300,#300,#500,#800,#800,#500,#300,#300,#300,#400,#600,#900,#900,#500,#300,#300,#300,#400,#800,#b00,#900,#600,#500,#500,#500,#600,#a00,#d00,#a00,#600,#600,#600,#600,#800,#d00,#f00,#b00,#800,#700,#700,#700,#900,#e00,#f10,#d00,#900,#900,#900,#900,#a00,#f00,#f20,#f20,#f20,#f20,#f20,#f20,#f30,#f30,#f30,#f30,#f30,#f30)"></i></div>
<div class="a" style="left:312.8px;top:209.0px;width:6.9px;height:116.9px;background:linear-gradient(180deg,#ffffff,#ffffe6,#ffffcd,#ffffb4,#ffff9b,#ffff82,#ffff6a,#ffff51,#ffff38,#ffff1f,#ffff06,#fff200,#ffe200,#ffd100,#ffc000,#ffb000,#ff9f00,#ff8f00,#ff7e00,#ff6d00,#ff5d00,#ff4c00,#ff3c00,#ff2b00,#ff1a00,#ff0a00,#f80000,#e80000,#d70000,#c60000,#b60000,#a50000,#950000,#840000,#730000,#630000,#520000,#410000,#310000,#200000,#100000);box-shadow:0 0 0 0.6px rgba(150,150,175,.35)"></div>
<div class="tk" style="left:323.20px;top:310.40px;font-size:11.20px">0.1</div>
<div class="tk" style="left:323.20px;top:298.51px;font-size:11.20px">0.2</div>
<div class="tk" style="left:323.20px;top:286.62px;font-size:11.20px">0.3</div>
<div class="tk" style="left:323.20px;top:274.74px;font-size:11.20px">0.4</div>
<div class="tk" style="left:323.20px;top:262.85px;font-size:11.20px">0.5</div>
<div class="tk" style="left:323.20px;top:250.96px;font-size:11.20px">0.6</div>
<div class="tk" style="left:323.20px;top:239.08px;font-size:11.20px">0.7</div>
<div class="tk" style="left:323.20px;top:227.19px;font-size:11.20px">0.8</div>
<div class="tk" style="left:323.20px;top:215.30px;font-size:11.20px">0.9</div>
<div class="tk" style="left:324.10px;top:201.60px;font-size:11.20px">1</div>
<div class="tk" style="left:171.70px;top:321.40px;font-size:11.20px;transform:translateX(-100%)">1</div>
<div class="tk" style="left:171.90px;top:304.39px;font-size:11.20px;transform:translateX(-100%)">2</div>
<div class="tk" style="left:171.90px;top:287.37px;font-size:11.20px;transform:translateX(-100%)">3</div>
<div class="tk" style="left:171.90px;top:270.36px;font-size:11.20px;transform:translateX(-100%)">4</div>
<div class="tk" style="left:171.90px;top:253.34px;font-size:11.20px;transform:translateX(-100%)">5</div>
<div class="tk" style="left:171.90px;top:236.33px;font-size:11.20px;transform:translateX(-100%)">6</div>
<div class="tk" style="left:171.90px;top:219.31px;font-size:11.20px;transform:translateX(-100%)">7</div>
<div class="tk" style="left:171.90px;top:202.30px;font-size:11.20px;transform:translateX(-100%)">8</div>
<div class="tk" style="left:175.20px;top:330.30px;font-size:11.20px;transform:translateX(-50%)">0</div>
<div class="tk" style="left:201.66px;top:330.30px;font-size:11.20px;transform:translateX(-50%)">0.2</div>
<div class="tk" style="left:228.12px;top:330.30px;font-size:11.20px;transform:translateX(-50%)">0.4</div>
<div class="tk" style="left:254.58px;top:330.30px;font-size:11.20px;transform:translateX(-50%)">0.6</div>
<div class="tk" style="left:281.04px;top:330.30px;font-size:11.20px;transform:translateX(-50%)">0.8</div>
<div class="tk" style="left:307.50px;top:330.30px;font-size:11.20px;transform:translateX(-50%)">1</div>
<div class="tk" style="left:186.30px;top:343.22px;font-size:11.20px">Position along beam (x/L)</div>
<div class="tk" style="left:158.48px;top:268.45px;font-size:11.20px;transform:translate(-50%,-50%) rotate(-90deg)">Scale</div>
<div class="a hm" style="left:377.8px;top:211.2px;width:125.7px;height:114.2px"><i style="top:0.00px;height:115.25px;background:linear-gradient(90deg,#200,#200,#300,#500,#800,#c00,#f00,#f20,#f20,#f20,#f10,#d00,#900,#700,#700,#900,#d00,#f30,#f60,#f60,#f50,#f10,#b00,#800,#800,#900,#b00,#d00,#e00,#e00,#b00,#700,#600,#700,#a00,#d00,#d00,#c00,#900,#600,#600,#700,#a00,#d00,#d00,#c00,#900,#700,#600,#700,#a00,#e00,#e00,#e00,#b00,#800,#700,#700,#b00,#f00,#f10,#f10,#d00,#900,#800,#800,#d00,#f20,#f20,#f10,#b00,#800,#800,#a00,#f10,#f40,#f40,#f20,#c00,#900,#900,#b00,#f20,#f60,#f60,#f50,#f00,#b00,#a00,#c00,#f30,#f90,#fa0,#f90,#f50,#e00,#d00,#e00,#fc0,#ffe,#fff,#fff,#ffb,#f90,#f00,#f00,#f10,#f70,#fc0,#fc0,#fc0,#f50,#d00,#b00,#b00,#f00,#f50,#f60,#f60,#f30,#c00,#900,#900,#b00,#f20,#f50,#f50,#f30,#c00,#900,#900,#c00,#f40,#f60,#f60,#f20,#b00,#900,#900,#d00,#f40,#f60,#f60,#f30,#c00,#900,#900,#b00,#f20,#f50,#f50,#f30,#d00,#900,#900,#a00,#e00,#f30,#f40,#f30,#e00,#900,#800,#800,#a00,#e00,#f10,#f10,#e00,#a00,#700,#700,#800,#b00,#d00,#e00,#c00,#800,#600,#600,#800,#b00,#c00,#b00,#900,#500,#500,#600,#800,#a00,#a00,#900,#700,#500,#500,#600,#900,#a00,#a00,#900,#700,#500,#500,#600,#900,#b00,#b00,#a00,#700,#500,#500,#700,#a00,#d00,#d00,#c00,#900,#700,#700,#900,#c00,#f00,#f00,#d00,#a00,#800,#800,#a00,#e00,#f10,#f10,#f00,#c00,#a00,#a00,#b00,#f00,#f20,#f20,#f00,#c00,#a00,#b00,#d00,#f30,#f40,#f40,#f60,#f80,#fc0,#fe0,#ff0)"></i><i style="top:0.00px;height:115.25px;-webkit-mask-image:linear-gradient(180deg,transparent 0.00px,#000 8.33px);mask-image:linear-gradient(180deg,transparent 0.00px,#000 8.33px);background:linear-gradient(90deg,#200,#200,#300,#500,#800,#b00,#e00,#f20,#f30,#f30,#f20,#d00,#a00,#700,#700,#800,#c00,#f20,#f60,#f60,#f60,#f20,#c00,#800,#800,#900,#b00,#d00,#e00,#e00,#c00,#800,#600,#600,#800,#c00,#d00,#d00,#b00,#700,#600,#600,#800,#c00,#d00,#d00,#b00,#800,#600,#600,#800,#c00,#e00,#e00,#d00,#a00,#800,#700,#800,#c00,#f10,#f10,#f10,#c00,#800,#800,#a00,#f00,#f30,#f30,#f00,#a00,#800,#800,#c00,#f30,#f50,#f40,#f10,#b00,#900,#900,#c00,#f40,#f60,#f60,#f40,#d00,#a00,#a00,#d00,#f50,#fa0,#fb0,#f90,#f30,#e00,#d00,#f20,#ff3,#fff,#fff,#fff,#ff6,#f50,#f00,#f00,#f30,#f90,#fd0,#fd0,#fa0,#f20,#b00,#b00,#c00,#f20,#f60,#f60,#f50,#f00,#a00,#900,#900,#e00,#f40,#f50,#f50,#f00,#900,#900,#a00,#f10,#f60,#f60,#f40,#d00,#900,#900,#b00,#f20,#f60,#f60,#f40,#d00,#900,#900,#a00,#f10,#f50,#f50,#f40,#e00,#900,#900,#a00,#e00,#f30,#f40,#f30,#e00,#900,#800,#800,#b00,#e00,#f10,#f10,#e00,#a00,#700,#700,#900,#c00,#e00,#e00,#c00,#700,#600,#600,#800,#b00,#c00,#b00,#700,#500,#500,#700,#a00,#b00,#a00,#800,#600,#500,#500,#800,#a00,#b00,#a00,#800,#600,#500,#500,#800,#a00,#b00,#b00,#800,#600,#500,#600,#900,#d00,#d00,#d00,#a00,#800,#700,#800,#b00,#e00,#f00,#e00,#b00,#900,#800,#900,#c00,#f10,#f10,#f10,#d00,#a00,#a00,#b00,#e00,#f20,#f20,#f10,#d00,#b00,#a00,#c00,#f20,#f50,#f50,#f50,#f70,#f90,#fb0,#fd0,#fd0)"></i><i style="top:8.00px;height:107.25px;-webkit-mask-image:linear-gradient(180deg,transparent 0.33px,#000 8.65px);mask-image:linear-gradient(180deg,transparent 0.33px,#000 8.65px);background:linear-gradient(90deg,#200,#200,#300,#500,#700,#a00,#d00,#f10,#f20,#f30,#f30,#f10,#c00,#900,#700,#700,#900,#d00,#f30,#f60,#f70,#f60,#f10,#b00,#800,#800,#900,#b00,#d00,#e00,#e00,#b00,#800,#600,#700,#900,#c00,#d00,#d00,#a00,#600,#600,#600,#900,#c00,#d00,#d00,#a00,#700,#600,#700,#900,#d00,#f00,#f00,#c00,#900,#700,#700,#a00,#e00,#f20,#f20,#e00,#a00,#800,#800,#c00,#f20,#f30,#f20,#d00,#900,#800,#a00,#f00,#f50,#f50,#f30,#d00,#900,#900,#b00,#f20,#f60,#f70,#f50,#f00,#b00,#a00,#c00,#f40,#fb0,#fb0,#fa0,#f50,#e00,#d00,#f10,#ff1,#ffe,#ffe,#ffe,#ff6,#f50,#f00,#f00,#f40,#fa0,#fe0,#fe0,#fa0,#f20,#b00,#b00,#d00,#f30,#f60,#f70,#f50,#e00,#900,#900,#a00,#f10,#f50,#f50,#f40,#d00,#900,#900,#c00,#f40,#f70,#f60,#f20,#b00,#900,#900,#e00,#f50,#f70,#f60,#f20,#b00,#900,#900,#d00,#f40,#f50,#f50,#f10,#b00,#900,#900,#c00,#f20,#f40,#f40,#f10,#b00,#800,#800,#a00,#d00,#f10,#f10,#f00,#b00,#800,#700,#800,#b00,#e00,#e00,#d00,#800,#600,#600,#800,#b00,#c00,#c00,#800,#500,#500,#600,#900,#b00,#b00,#900,#600,#500,#500,#700,#a00,#b00,#b00,#900,#600,#500,#500,#700,#a00,#b00,#b00,#900,#700,#500,#500,#800,#c00,#d00,#d00,#c00,#900,#700,#700,#a00,#d00,#f00,#f00,#d00,#a00,#800,#800,#a00,#e00,#f20,#f20,#f00,#b00,#a00,#a00,#c00,#f10,#f20,#f20,#f00,#c00,#b00,#b00,#e00,#f30,#f50,#f50,#f50,#f70,#f80,#fa0,#fb0,#fc0)"></i><i style="top:16.00px;height:99.25px;-webkit-mask-image:linear-gradient(180deg,transparent 0.65px,#000 8.98px);mask-image:linear-gradient(180deg,transparent 0.65px,#000 8.98px);background:linear-gradient(90deg,#200,#200,#300,#400,#700,#a00,#c00,#f00,#f20,#f30,#f30,#f20,#e00,#b00,#800,#700,#800,#b00,#f10,#f60,#f70,#f70,#f30,#d00,#900,#800,#800,#a00,#d00,#e00,#e00,#d00,#800,#600,#600,#800,#c00,#d00,#d00,#a00,#700,#600,#600,#900,#c00,#d00,#d00,#a00,#700,#600,#700,#900,#d00,#f00,#f00,#c00,#900,#700,#700,#a00,#f00,#f20,#f20,#e00,#900,#800,#900,#d00,#f30,#f30,#f10,#b00,#800,#800,#b00,#f20,#f50,#f50,#f10,#b00,#900,#900,#d00,#f50,#f70,#f70,#f30,#c00,#a00,#a00,#f00,#f90,#fc0,#fc0,#f80,#f10,#d00,#d00,#f90,#ffc,#ffe,#ffe,#ffc,#fa0,#f00,#f00,#f20,#f80,#fe0,#fe0,#fd0,#f50,#c00,#b00,#c00,#f20,#f60,#f70,#f60,#f00,#a00,#900,#900,#e00,#f50,#f60,#f50,#e00,#900,#900,#b00,#f30,#f70,#f70,#f40,#c00,#900,#900,#c00,#f40,#f70,#f70,#f30,#c00,#900,#900,#c00,#f20,#f60,#f60,#f30,#c00,#900,#900,#b00,#f10,#f40,#f40,#f20,#d00,#900,#800,#900,#c00,#f00,#f10,#f10,#d00,#900,#700,#700,#900,#d00,#e00,#e00,#b00,#700,#600,#600,#900,#c00,#c00,#b00,#700,#500,#500,#700,#a00,#b00,#b00,#900,#600,#500,#500,#700,#a00,#b00,#b00,#900,#600,#500,#500,#700,#a00,#b00,#b00,#900,#700,#500,#500,#700,#b00,#d00,#d00,#c00,#900,#700,#700,#900,#d00,#f00,#f00,#e00,#a00,#800,#800,#900,#d00,#f10,#f20,#f10,#c00,#a00,#a00,#b00,#f00,#f20,#f20,#f10,#d00,#b00,#b00,#c00,#f10,#f50,#f50,#f50,#f60,#f70,#f90,#fa0,#fa0)"></i><i style="top:24.00px;height:91.25px;-webkit-mask-image:linear-gradient(180deg,transparent 0.98px,#000 9.31px);mask-image:linear-gradient(180deg,transparent 0.98px,#000 9.31px);background:linear-gradient(90deg,#200,#200,#300,#500,#700,#a00,#d00,#f00,#f20,#f30,#f30,#f20,#e00,#a00,#700,#700,#800,#d00,#f30,#f60,#f70,#f60,#f20,#b00,#800,#800,#900,#c00,#e00,#e00,#e00,#b00,#700,#600,#700,#a00,#d00,#d00,#c00,#800,#600,#600,#700,#b00,#d00,#d00,#c00,#800,#600,#600,#800,#c00,#f00,#f00,#d00,#a00,#700,#700,#900,#e00,#f20,#f20,#f00,#a00,#800,#800,#c00,#f20,#f30,#f20,#d00,#800,#800,#a00,#f10,#f50,#f50,#f30,#c00,#900,#900,#c00,#f30,#f70,#f70,#f50,#e00,#a00,#a00,#d00,#f70,#fc0,#fd0,#fa0,#f30,#d00,#d00,#f40,#ff6,#ffe,#ffe,#ffe,#ff1,#f20,#f00,#f00,#f60,#fd0,#ff0,#ff0,#f90,#f00,#b00,#b00,#e00,#f40,#f70,#f70,#f40,#c00,#900,#900,#b00,#f20,#f60,#f60,#f30,#c00,#900,#900,#d00,#f50,#f70,#f70,#f20,#b00,#900,#900,#d00,#f50,#f70,#f70,#f30,#b00,#900,#900,#c00,#f30,#f60,#f60,#f30,#c00,#900,#900,#b00,#f00,#f40,#f40,#f30,#d00,#900,#800,#800,#b00,#f00,#f10,#f10,#e00,#a00,#700,#700,#900,#c00,#e00,#e00,#c00,#800,#600,#600,#800,#b00,#c00,#c00,#900,#500,#500,#600,#800,#b00,#b00,#a00,#700,#500,#500,#600,#900,#b00,#b00,#a00,#800,#600,#500,#600,#800,#b00,#b00,#b00,#900,#600,#500,#600,#900,#d00,#e00,#d00,#b00,#800,#700,#700,#a00,#e00,#f00,#f00,#d00,#a00,#800,#800,#a00,#e00,#f20,#f20,#f00,#c00,#a00,#a00,#c00,#f10,#f30,#f30,#f10,#c00,#b00,#b00,#d00,#f20,#f50,#f50,#f50,#f60,#f80,#f90,#f90)"></i><i style="top:33.00px;height:82.25px;-webkit-mask-image:linear-gradient(180deg,transparent 0.31px,#000 8.64px);mask-image:linear-gradient(180deg,transparent 0.31px,#000 8.64px);background:linear-gradient(90deg,#200,#200,#300,#500,#800,#b00,#e00,#f20,#f30,#f30,#f30,#f00,#b00,#800,#700,#800,#b00,#f20,#f60,#f70,#f70,#f30,#c00,#900,#800,#900,#b00,#d00,#e00,#e00,#c00,#800,#600,#700,#900,#d00,#d00,#d00,#900,#600,#600,#600,#a00,#d00,#d00,#d00,#a00,#700,#600,#700,#b00,#e00,#f00,#e00,#b00,#800,#700,#800,#b00,#f10,#f20,#f20,#d00,#800,#800,#900,#f00,#f30,#f30,#f10,#b00,#800,#800,#c00,#f30,#f50,#f50,#f10,#b00,#900,#900,#d00,#f50,#f70,#f70,#f40,#d00,#a00,#a00,#f00,#f80,#fd0,#fd0,#fa0,#f30,#d00,#d00,#f40,#ff6,#ffe,#ffe,#ffe,#ff2,#f30,#f00,#f00,#f50,#fc0,#ff1,#ff1,#fb0,#f20,#b00,#b00,#d00,#f30,#f70,#f70,#f50,#e00,#900,#900,#a00,#f00,#f50,#f60,#f50,#f00,#900,#900,#a00,#f20,#f70,#f70,#f50,#e00,#900,#900,#a00,#f20,#f70,#f70,#f60,#f00,#a00,#900,#a00,#e00,#f50,#f60,#f60,#f10,#b00,#900,#900,#c00,#f20,#f40,#f40,#f20,#c00,#800,#800,#900,#c00,#f00,#f10,#f10,#d00,#900,#700,#700,#900,#d00,#e00,#e00,#b00,#700,#600,#600,#900,#c00,#c00,#b00,#800,#500,#500,#600,#900,#b00,#b00,#900,#600,#500,#500,#700,#a00,#b00,#b00,#900,#700,#500,#500,#600,#900,#b00,#b00,#a00,#700,#500,#500,#700,#b00,#e00,#e00,#d00,#a00,#700,#700,#800,#c00,#f00,#f00,#e00,#b00,#800,#800,#900,#d00,#f10,#f20,#f10,#d00,#a00,#a00,#b00,#f00,#f30,#f30,#f20,#d00,#b00,#b00,#c00,#f20,#f50,#f50,#f50,#f60,#f70,#f80,#f80)"></i><i style="top:41.00px;height:74.25px;-webkit-mask-image:linear-gradient(180deg,transparent 0.64px,#000 8.96px);mask-image:linear-gradient(180deg,transparent 0.64px,#000 8.96px);background:linear-gradient(90deg,#200,#200,#300,#500,#900,#c00,#f00,#f20,#f30,#f30,#f20,#d00,#900,#700,#700,#900,#d00,#f40,#f70,#f70,#f60,#f10,#b00,#800,#800,#900,#c00,#e00,#f00,#e00,#b00,#700,#600,#700,#a00,#d00,#d00,#d00,#900,#600,#600,#700,#a00,#d00,#d00,#d00,#a00,#700,#600,#700,#a00,#e00,#f00,#f00,#c00,#900,#700,#700,#a00,#f00,#f20,#f20,#e00,#900,#800,#800,#d00,#f30,#f30,#f20,#c00,#900,#800,#a00,#f10,#f50,#f50,#f30,#d00,#900,#900,#a00,#f10,#f70,#f70,#f60,#f10,#b00,#a00,#b00,#f30,#fc0,#fe0,#fd0,#f80,#f10,#d00,#d00,#f90,#ffb,#ffd,#ffd,#ffc,#fc0,#f10,#f00,#f10,#f70,#fe0,#ff1,#ff1,#f90,#f00,#b00,#b00,#e00,#f50,#f70,#f70,#f40,#d00,#900,#900,#b00,#f10,#f60,#f60,#f40,#d00,#900,#900,#c00,#f40,#f70,#f70,#f40,#c00,#900,#900,#c00,#f40,#f70,#f70,#f40,#d00,#900,#900,#b00,#f20,#f60,#f60,#f50,#e00,#900,#900,#a00,#e00,#f40,#f40,#f40,#f00,#a00,#800,#800,#a00,#e00,#f10,#f10,#f00,#a00,#700,#700,#800,#b00,#e00,#e00,#d00,#900,#600,#600,#800,#b00,#c00,#c00,#900,#500,#500,#600,#900,#b00,#b00,#a00,#700,#500,#500,#700,#900,#b00,#b00,#a00,#700,#500,#500,#700,#900,#b00,#b00,#a00,#700,#500,#500,#700,#b00,#e00,#e00,#c00,#900,#700,#700,#900,#d00,#f00,#f00,#d00,#a00,#800,#800,#a00,#f00,#f20,#f20,#f00,#b00,#a00,#a00,#c00,#f10,#f30,#f30,#f00,#b00,#b00,#b00,#e00,#f40,#f50,#f50,#f50,#f60,#f60,#f70,#f70)"></i><i style="top:49.00px;height:66.25px;-webkit-mask-image:linear-gradient(180deg,transparent 0.96px,#000 9.29px);mask-image:linear-gradient(180deg,transparent 0.96px,#000 9.29px);background:linear-gradient(90deg,#200,#200,#300,#500,#800,#c00,#f00,#f20,#f30,#f30,#f20,#e00,#a00,#800,#700,#800,#b00,#f20,#f60,#f70,#f70,#f40,#d00,#900,#800,#800,#a00,#d00,#f00,#f00,#d00,#900,#700,#600,#800,#c00,#d00,#d00,#c00,#800,#600,#600,#800,#b00,#d00,#d00,#c00,#900,#700,#600,#800,#c00,#f00,#f00,#e00,#b00,#800,#700,#800,#c00,#f10,#f20,#f20,#d00,#800,#800,#900,#e00,#f30,#f30,#f10,#b00,#800,#800,#b00,#f20,#f50,#f50,#f20,#c00,#900,#900,#c00,#f30,#f70,#f70,#f50,#e00,#a00,#a00,#d00,#f70,#fe0,#fe0,#fd0,#f60,#e00,#d00,#f10,#ff0,#ffd,#ffd,#ffd,#ff6,#f60,#f00,#f00,#f40,#fb0,#ff1,#ff1,#fd0,#f40,#c00,#b00,#c00,#f20,#f70,#f70,#f60,#f00,#a00,#900,#a00,#f00,#f50,#f60,#f60,#f00,#900,#900,#a00,#f20,#f70,#f70,#f50,#d00,#900,#900,#b00,#f30,#f70,#f70,#f50,#d00,#900,#900,#b00,#f20,#f60,#f60,#f40,#e00,#900,#900,#a00,#f00,#f40,#f40,#f30,#e00,#900,#800,#900,#b00,#f00,#f10,#f10,#e00,#900,#700,#700,#900,#d00,#e00,#e00,#b00,#700,#600,#600,#900,#c00,#c00,#b00,#700,#500,#500,#700,#a00,#b00,#b00,#800,#600,#500,#600,#800,#b00,#b00,#a00,#800,#600,#500,#600,#800,#b00,#b00,#b00,#800,#600,#500,#600,#a00,#e00,#e00,#d00,#a00,#800,#700,#800,#c00,#f00,#f00,#e00,#b00,#800,#800,#900,#e00,#f20,#f20,#f10,#c00,#a00,#a00,#b00,#f10,#f30,#f30,#f10,#c00,#b00,#b00,#d00,#f20,#f40,#f40,#f50,#f50,#f50,#f60,#f60,#f60)"></i><i style="top:58.00px;height:57.25px;-webkit-mask-image:linear-gradient(180deg,transparent 0.29px,#000 8.62px);mask-image:linear-gradient(180deg,transparent 0.29px,#000 8.62px);background:linear-gradient(90deg,#200,#200,#300,#500,#700,#a00,#d00,#f10,#f30,#f30,#f30,#f20,#d00,#a00,#700,#700,#800,#d00,#f30,#f70,#f70,#f70,#f30,#c00,#800,#800,#900,#b00,#e00,#f00,#f00,#c00,#800,#600,#700,#900,#d00,#d00,#d00,#a00,#700,#600,#600,#900,#d00,#d00,#d00,#b00,#800,#600,#700,#900,#d00,#f00,#f00,#d00,#900,#700,#700,#a00,#e00,#f20,#f20,#f00,#a00,#800,#800,#c00,#f20,#f30,#f30,#d00,#900,#800,#a00,#f10,#f50,#f50,#f30,#d00,#900,#900,#b00,#f30,#f70,#f70,#f60,#f00,#b00,#a00,#d00,#f70,#fe0,#ff0,#fd0,#f60,#e00,#d00,#f10,#ff2,#ffc,#ffc,#ffc,#ff3,#f40,#f00,#f00,#f50,#fd0,#ff2,#ff2,#fb0,#f10,#b00,#b00,#e00,#f40,#f70,#f70,#f50,#d00,#900,#900,#b00,#f20,#f60,#f60,#f40,#c00,#900,#900,#e00,#f60,#f70,#f70,#f10,#a00,#900,#a00,#f00,#f60,#f70,#f70,#f10,#a00,#900,#a00,#f00,#f50,#f60,#f60,#f10,#a00,#900,#900,#d00,#f30,#f50,#f40,#f00,#a00,#800,#800,#a00,#e00,#f10,#f10,#f00,#a00,#700,#700,#900,#c00,#e00,#e00,#d00,#800,#600,#600,#800,#c00,#c00,#c00,#800,#500,#500,#600,#a00,#b00,#b00,#900,#600,#500,#500,#700,#a00,#b00,#b00,#900,#600,#500,#500,#700,#a00,#b00,#b00,#a00,#700,#500,#500,#800,#c00,#e00,#e00,#c00,#900,#700,#700,#a00,#e00,#f10,#f00,#d00,#a00,#800,#800,#b00,#f00,#f20,#f20,#f00,#b00,#a00,#a00,#c00,#f10,#f30,#f30,#f10,#c00,#b00,#b00,#d00,#f30,#f40,#f40,#f40,#f50,#f50,#f50,#f50,#f50)"></i><i style="top:66.00px;height:49.25px;-webkit-mask-image:linear-gradient(180deg,transparent 0.62px,#000 8.94px);mask-image:linear-gradient(180deg,transparent 0.62px,#000 8.94px);background:linear-gradient(90deg,#200,#200,#300,#500,#700,#a00,#d00,#f00,#f20,#f30,#f30,#f30,#f00,#b00,#800,#700,#800,#b00,#f20,#f60,#f80,#f70,#f40,#d00,#900,#800,#900,#b00,#d00,#f00,#f00,#d00,#800,#600,#600,#900,#d00,#e00,#d00,#a00,#700,#600,#600,#900,#d00,#e00,#d00,#a00,#700,#600,#700,#a00,#e00,#f00,#f00,#c00,#800,#700,#800,#b00,#f10,#f20,#f20,#d00,#900,#800,#900,#f00,#f30,#f30,#f10,#a00,#800,#800,#d00,#f40,#f60,#f50,#f10,#a00,#900,#900,#f00,#f60,#f80,#f70,#f20,#c00,#a00,#b00,#f30,#fd0,#ff0,#ff0,#f90,#f10,#d00,#e00,#fb0,#ffb,#ffc,#ffc,#ff7,#f70,#f00,#f00,#f30,#fb0,#ff2,#ff2,#fd0,#f40,#c00,#b00,#d00,#f30,#f70,#f80,#f60,#f00,#900,#900,#a00,#f10,#f60,#f60,#f50,#e00,#900,#900,#c00,#f40,#f80,#f80,#f40,#c00,#900,#900,#d00,#f50,#f80,#f70,#f30,#c00,#900,#900,#c00,#f30,#f60,#f60,#f30,#c00,#900,#900,#b00,#f10,#f50,#f50,#f30,#d00,#900,#800,#900,#c00,#f00,#f10,#f10,#d00,#900,#700,#700,#a00,#d00,#e00,#e00,#b00,#700,#600,#600,#900,#c00,#c00,#b00,#700,#500,#500,#700,#a00,#b00,#b00,#900,#600,#500,#500,#700,#a00,#b00,#b00,#900,#600,#500,#500,#700,#a00,#b00,#b00,#a00,#700,#500,#500,#700,#b00,#e00,#e00,#d00,#900,#700,#700,#900,#d00,#f10,#f10,#f00,#b00,#800,#800,#900,#d00,#f20,#f20,#f20,#d00,#a00,#a00,#a00,#e00,#f30,#f30,#f20,#e00,#b00,#b00,#b00,#f00,#f30,#f40,#f40,#f40,#f40,#f40,#f50,#f50)"></i><i style="top:74.00px;height:41.25px;-webkit-mask-image:linear-gradient(180deg,transparent 0.94px,#000 9.27px);mask-image:linear-gradient(180deg,transparent 0.94px,#000 9.27px);background:linear-gradient(90deg,#200,#200,#300,#500,#700,#a00,#e00,#f10,#f30,#f40,#f40,#f20,#d00,#900,#700,#700,#900,#e00,#f40,#f80,#f80,#f60,#f10,#a00,#800,#800,#a00,#c00,#f00,#f00,#e00,#a00,#700,#600,#800,#b00,#e00,#e00,#c00,#800,#600,#600,#800,#c00,#e00,#e00,#b00,#800,#600,#600,#900,#d00,#f00,#f00,#d00,#900,#700,#700,#a00,#f00,#f20,#f20,#f00,#900,#800,#800,#d00,#f30,#f40,#f20,#c00,#800,#800,#b00,#f20,#f60,#f60,#f20,#b00,#900,#900,#d00,#f40,#f80,#f80,#f40,#d00,#a00,#a00,#f00,#fa0,#ff1,#ff1,#fc0,#f40,#d00,#d00,#f40,#ff5,#ffb,#ffb,#ffb,#fd0,#f20,#f00,#f00,#f70,#fe0,#ff2,#ff2,#fa0,#f00,#b00,#b00,#e00,#f50,#f80,#f80,#f40,#d00,#900,#900,#b00,#f20,#f60,#f60,#f40,#c00,#900,#900,#d00,#f50,#f80,#f80,#f30,#b00,#900,#900,#d00,#f50,#f80,#f80,#f40,#c00,#900,#900,#c00,#f30,#f60,#f60,#f40,#d00,#900,#900,#a00,#f00,#f40,#f50,#f40,#e00,#a00,#800,#800,#b00,#f00,#f20,#f20,#f00,#a00,#700,#700,#800,#c00,#e00,#e00,#d00,#900,#600,#600,#700,#b00,#c00,#c00,#a00,#600,#500,#500,#800,#b00,#b00,#b00,#800,#600,#500,#600,#800,#b00,#b00,#b00,#800,#600,#500,#500,#800,#b00,#c00,#b00,#900,#600,#500,#500,#800,#c00,#e00,#e00,#c00,#900,#700,#700,#a00,#e00,#f10,#f10,#e00,#a00,#800,#800,#a00,#e00,#f20,#f20,#f10,#c00,#a00,#a00,#b00,#f10,#f30,#f30,#f20,#d00,#b00,#b00,#c00,#f10,#f40,#f40,#f40,#f40,#f40,#f40,#f40)"></i><i style="top:83.00px;height:32.25px;-webkit-mask-image:linear-gradient(180deg,transparent 0.27px,#000 8.60px);mask-image:linear-gradient(180deg,transparent 0.27px,#000 8.60px);background:linear-gradient(90deg,#200,#200,#300,#500,#800,#c00,#f00,#f20,#f40,#f40,#f30,#f00,#a00,#800,#700,#800,#c00,#f30,#f70,#f80,#f70,#f30,#c00,#800,#800,#900,#b00,#e00,#f00,#f00,#c00,#700,#600,#700,#a00,#d00,#e00,#d00,#900,#600,#600,#700,#a00,#d00,#e00,#d00,#a00,#700,#600,#700,#b00,#f00,#f00,#f00,#c00,#800,#700,#800,#c00,#f10,#f20,#f20,#d00,#800,#800,#900,#f00,#f40,#f40,#f10,#b00,#800,#800,#c00,#f30,#f60,#f60,#f20,#b00,#900,#900,#d00,#f50,#f80,#f80,#f50,#d00,#a00,#a00,#e00,#f90,#ff1,#ff1,#fd0,#f50,#e00,#d00,#f20,#ff1,#ffb,#ffb,#ffb,#ff2,#f40,#f00,#f00,#f40,#fc0,#ff3,#ff3,#fd0,#f40,#b00,#b00,#c00,#f30,#f70,#f80,#f70,#f10,#a00,#900,#900,#e00,#f50,#f70,#f60,#f10,#a00,#900,#900,#f10,#f70,#f80,#f70,#f10,#a00,#900,#a00,#f10,#f70,#f80,#f70,#f20,#a00,#900,#900,#d00,#f50,#f70,#f70,#f30,#c00,#900,#900,#b00,#f20,#f50,#f50,#f30,#d00,#900,#800,#900,#c00,#f00,#f20,#f20,#e00,#900,#700,#700,#900,#d00,#f00,#f00,#c00,#800,#600,#600,#800,#c00,#c00,#c00,#800,#500,#500,#600,#900,#b00,#b00,#a00,#700,#500,#500,#700,#a00,#b00,#b00,#a00,#700,#500,#500,#600,#900,#c00,#c00,#b00,#800,#500,#500,#600,#b00,#e00,#e00,#d00,#a00,#700,#700,#800,#d00,#f10,#f10,#f00,#b00,#800,#800,#900,#d00,#f20,#f20,#f20,#d00,#a00,#a00,#b00,#f00,#f30,#f30,#f20,#d00,#b00,#a00,#c00,#f10,#f30,#f30,#f30,#f40,#f40,#f40,#f40)"></i><i style="top:91.00px;height:24.25px;-webkit-mask-image:linear-gradient(180deg,transparent 0.60px,#000 8.92px);mask-image:linear-gradient(180deg,transparent 0.60px,#000 8.92px);background:linear-gradient(90deg,#200,#200,#300,#600,#900,#d00,#f10,#f30,#f40,#f40,#f20,#d00,#900,#700,#700,#900,#e00,#f40,#f80,#f80,#f70,#f20,#b00,#800,#800,#900,#c00,#e00,#f00,#f00,#c00,#700,#600,#700,#a00,#d00,#e00,#d00,#a00,#600,#600,#600,#a00,#d00,#e00,#d00,#b00,#700,#600,#700,#a00,#e00,#f10,#f00,#d00,#900,#700,#700,#a00,#f00,#f30,#f30,#f00,#a00,#800,#800,#c00,#f30,#f40,#f30,#e00,#900,#800,#900,#f00,#f50,#f60,#f50,#e00,#900,#900,#a00,#f10,#f70,#f80,#f80,#f30,#c00,#a00,#a00,#f20,#fc0,#ff2,#ff2,#fb0,#f30,#d00,#d00,#f50,#ff6,#ffa,#ffa,#ffa,#fd0,#f20,#f00,#f00,#f60,#fe0,#ff3,#ff3,#fb0,#f10,#b00,#b00,#e00,#f40,#f80,#f80,#f60,#e00,#900,#900,#a00,#f10,#f60,#f70,#f60,#e00,#900,#900,#b00,#f30,#f80,#f80,#f50,#d00,#900,#900,#b00,#f40,#f80,#f80,#f60,#e00,#900,#900,#a00,#f20,#f60,#f70,#f50,#f00,#900,#900,#a00,#e00,#f40,#f50,#f50,#f00,#a00,#800,#800,#a00,#e00,#f20,#f20,#f00,#b00,#700,#700,#800,#c00,#e00,#f00,#d00,#800,#600,#600,#800,#c00,#d00,#c00,#900,#500,#500,#600,#900,#b00,#b00,#a00,#700,#500,#500,#700,#a00,#b00,#b00,#a00,#700,#500,#500,#700,#a00,#c00,#c00,#a00,#700,#500,#500,#800,#c00,#e00,#e00,#c00,#900,#700,#700,#a00,#e00,#f10,#f10,#d00,#a00,#800,#800,#b00,#f10,#f30,#f30,#f00,#b00,#a00,#a00,#d00,#f30,#f30,#f30,#f00,#b00,#a00,#b00,#f00,#f30,#f30,#f30,#f30,#f30,#f30,#f30,#f40)"></i><i style="top:99.00px;height:16.25px;-webkit-mask-image:linear-gradient(180deg,transparent 0.92px,#000 3.78px);mask-image:linear-gradient(180deg,transparent 0.92px,#000 3.78px);background:linear-gradient(90deg,#200,#200,#300,#600,#900,#d00,#f10,#f30,#f40,#f40,#f10,#b00,#800,#700,#700,#900,#e00,#f50,#f80,#f80,#f50,#e00,#900,#800,#800,#900,#c00,#f00,#f00,#e00,#a00,#700,#600,#700,#a00,#e00,#e00,#c00,#800,#600,#600,#600,#a00,#d00,#e00,#d00,#900,#700,#600,#700,#a00,#e00,#f10,#f00,#c00,#800,#700,#700,#a00,#f00,#f30,#f30,#e00,#900,#800,#800,#c00,#f30,#f40,#f30,#c00,#800,#800,#900,#f00,#f60,#f60,#f40,#d00,#900,#900,#a00,#f10,#f70,#f80,#f70,#f10,#b00,#a00,#a00,#f30,#fd0,#ff2,#ff1,#f90,#f00,#d00,#d00,#f60,#ff6,#ffa,#ffa,#ff7,#f80,#f00,#e00,#f00,#f70,#ff0,#ff3,#ff2,#f80,#d00,#b00,#b00,#e00,#f50,#f80,#f80,#f30,#b00,#900,#900,#b00,#f20,#f70,#f70,#f30,#b00,#900,#900,#c00,#f50,#f80,#f80,#f20,#a00,#900,#900,#d00,#f50,#f80,#f80,#f20,#a00,#900,#900,#c00,#f30,#f70,#f70,#f30,#b00,#900,#900,#b00,#f10,#f50,#f50,#f30,#c00,#800,#800,#900,#c00,#f10,#f20,#f10,#c00,#800,#700,#700,#a00,#d00,#f00,#e00,#a00,#600,#600,#600,#a00,#c00,#d00,#a00,#600,#500,#500,#700,#b00,#b00,#a00,#700,#500,#500,#600,#800,#b00,#b00,#a00,#700,#500,#500,#600,#900,#b00,#c00,#b00,#700,#500,#500,#600,#a00,#e00,#e00,#d00,#900,#700,#700,#800,#d00,#f10,#f10,#e00,#a00,#800,#800,#900,#e00,#f20,#f30,#f10,#b00,#a00,#a00,#b00,#f10,#f30,#f30,#f00,#b00,#a00,#a00,#d00,#f20,#f30,#f30,#f30,#f30,#f30,#f30,#f30,#f30)"></i><i style="top:102.00px;height:13.25px;-webkit-mask-image:linear-gradient(180deg,transparent 0.78px,#000 3.63px);mask-image:linear-gradient(180deg,transparent 0.78px,#000 3.63px);background:linear-gradient(90deg,#200,#200,#300,#600,#a00,#e00,#f20,#f40,#f40,#f20,#d00,#900,#700,#700,#700,#b00,#f20,#f70,#f80,#f70,#f20,#b00,#800,#800,#800,#a00,#d00,#f00,#f00,#c00,#700,#600,#600,#700,#c00,#e00,#e00,#a00,#600,#600,#600,#700,#b00,#e00,#e00,#b00,#700,#600,#600,#700,#b00,#f00,#f10,#e00,#900,#700,#700,#700,#b00,#f10,#f30,#f10,#a00,#800,#800,#800,#e00,#f40,#f40,#f00,#900,#800,#800,#a00,#f20,#f60,#f50,#f00,#a00,#900,#900,#b00,#f30,#f80,#f80,#f30,#c00,#a00,#a00,#c00,#f60,#ff0,#ff2,#fc0,#f30,#d00,#d00,#e00,#fb0,#ff9,#ffa,#ff9,#fc0,#f10,#e00,#e00,#f20,#fb0,#ff3,#ff3,#fb0,#f00,#b00,#b00,#c00,#f20,#f70,#f80,#f50,#d00,#900,#900,#900,#e00,#f50,#f70,#f50,#c00,#900,#900,#900,#f10,#f80,#f80,#f30,#b00,#900,#900,#a00,#f20,#f80,#f80,#f30,#b00,#900,#900,#a00,#f10,#f60,#f70,#f30,#b00,#900,#900,#900,#e00,#f40,#f50,#f30,#c00,#800,#800,#800,#b00,#f00,#f20,#f10,#c00,#800,#700,#700,#900,#c00,#f00,#e00,#a00,#600,#600,#600,#900,#c00,#d00,#a00,#600,#500,#500,#600,#a00,#b00,#a00,#700,#500,#500,#500,#800,#b00,#b00,#a00,#700,#500,#500,#500,#800,#b00,#c00,#b00,#700,#500,#500,#500,#900,#e00,#e00,#d00,#900,#700,#700,#800,#c00,#f10,#f10,#e00,#a00,#800,#800,#900,#d00,#f20,#f30,#f00,#b00,#a00,#a00,#a00,#f00,#f30,#f30,#f00,#b00,#a00,#a00,#c00,#f10,#f30,#f30,#f30,#f30,#f30,#f30,#f30,#f30,#f30)"></i><i style="top:105.00px;height:10.25px;-webkit-mask-image:linear-gradient(180deg,transparent 0.63px,#000 3.49px);mask-image:linear-gradient(180deg,transparent 0.63px,#000 3.49px);background:linear-gradient(90deg,#200,#200,#400,#700,#b00,#f00,#f30,#f40,#f30,#e00,#a00,#700,#700,#700,#800,#d00,#f40,#f80,#f80,#f40,#c00,#800,#800,#800,#900,#b00,#e00,#f00,#d00,#800,#600,#600,#600,#900,#d00,#e00,#b00,#700,#600,#600,#600,#900,#d00,#e00,#c00,#800,#600,#600,#600,#900,#d00,#f10,#f00,#a00,#700,#700,#700,#900,#e00,#f30,#f20,#c00,#800,#800,#800,#a00,#f20,#f40,#f10,#a00,#800,#800,#800,#e00,#f50,#f60,#f20,#a00,#900,#900,#900,#f00,#f70,#f80,#f40,#d00,#a00,#a00,#a00,#f20,#fd0,#ff2,#fd0,#f40,#d00,#d00,#d00,#f50,#ff6,#ff9,#ff9,#fd0,#f10,#e00,#e00,#f00,#f80,#ff1,#ff3,#fb0,#f00,#b00,#b00,#b00,#f00,#f60,#f80,#f50,#d00,#900,#900,#900,#c00,#f40,#f70,#f50,#c00,#900,#900,#900,#e00,#f70,#f80,#f30,#a00,#900,#900,#900,#f10,#f80,#f80,#f20,#a00,#900,#900,#900,#f00,#f60,#f70,#f20,#a00,#900,#900,#900,#e00,#f40,#f50,#f20,#b00,#800,#800,#800,#a00,#f00,#f20,#f10,#b00,#700,#700,#700,#800,#c00,#f00,#e00,#900,#600,#600,#600,#800,#c00,#c00,#900,#500,#500,#500,#600,#a00,#b00,#a00,#600,#500,#500,#500,#800,#b00,#b00,#900,#600,#500,#500,#500,#800,#b00,#c00,#a00,#600,#500,#500,#500,#900,#e00,#e00,#c00,#800,#700,#700,#800,#b00,#f10,#f10,#d00,#900,#800,#800,#800,#c00,#f20,#f30,#f00,#a00,#a00,#a00,#a00,#e00,#f30,#f30,#e00,#b00,#a00,#a00,#b00,#f00,#f30,#f30,#f30,#f30,#f30,#f30,#f30,#f30,#f30,#f30)"></i><i style="top:108.00px;height:7.25px;-webkit-mask-image:linear-gradient(180deg,transparent 0.49px,#000 3.34px);mask-image:linear-gradient(180deg,transparent 0.49px,#000 3.34px);background:linear-gradient(90deg,#200,#200,#400,#800,#d00,#f20,#f40,#f30,#f00,#a00,#700,#700,#700,#700,#b00,#f20,#f70,#f80,#f50,#d00,#800,#800,#800,#800,#a00,#d00,#f00,#e00,#900,#600,#600,#600,#700,#c00,#e00,#c00,#800,#600,#600,#600,#700,#c00,#e00,#d00,#800,#600,#600,#600,#700,#c00,#f00,#f00,#b00,#700,#700,#700,#700,#c00,#f20,#f20,#c00,#800,#800,#800,#900,#f00,#f40,#f10,#a00,#800,#800,#800,#c00,#f40,#f60,#f20,#a00,#900,#900,#900,#d00,#f60,#f80,#f40,#c00,#a00,#a00,#a00,#e00,#fb0,#ff2,#fd0,#f30,#d00,#d00,#d00,#f20,#ff3,#ff9,#ff9,#fb0,#f00,#e00,#e00,#f00,#f70,#ff0,#ff3,#f90,#d00,#b00,#b00,#b00,#e00,#f60,#f80,#f40,#b00,#900,#900,#900,#c00,#f40,#f70,#f30,#a00,#900,#900,#900,#e00,#f70,#f70,#f00,#900,#900,#900,#900,#f10,#f80,#f70,#f00,#900,#900,#900,#900,#f00,#f60,#f60,#f00,#900,#900,#900,#900,#e00,#f50,#f50,#f00,#900,#800,#800,#800,#b00,#f00,#f20,#e00,#900,#700,#700,#700,#900,#d00,#f00,#c00,#700,#600,#600,#600,#900,#d00,#c00,#700,#500,#500,#500,#700,#b00,#b00,#900,#600,#500,#500,#500,#800,#b00,#b00,#800,#500,#500,#500,#500,#800,#b00,#c00,#900,#600,#500,#500,#500,#900,#e00,#e00,#b00,#700,#700,#700,#700,#b00,#f10,#f10,#c00,#800,#800,#800,#800,#c00,#f20,#f30,#e00,#a00,#a00,#a00,#a00,#e00,#f30,#f30,#e00,#a00,#a00,#a00,#b00,#e00,#f30,#f30,#f30,#f30,#f30,#f30,#f30,#f30,#f30,#f30,#f30)"></i><i style="top:111.00px;height:4.25px;-webkit-mask-image:linear-gradient(180deg,transparent 0.34px,#000 3.20px);mask-image:linear-gradient(180deg,transparent 0.34px,#000 3.20px);background:linear-gradient(90deg,#200,#200,#400,#900,#f00,#f40,#f40,#f00,#a00,#700,#700,#700,#700,#900,#f00,#f60,#f80,#f50,#d00,#800,#800,#800,#800,#900,#c00,#f00,#e00,#900,#600,#600,#600,#700,#b00,#e00,#c00,#700,#600,#600,#600,#600,#a00,#e00,#c00,#800,#600,#600,#600,#700,#b00,#f00,#f00,#a00,#700,#700,#700,#700,#b00,#f10,#f20,#b00,#800,#800,#800,#800,#e00,#f40,#f00,#900,#800,#800,#800,#b00,#f40,#f60,#f00,#900,#900,#900,#900,#c00,#f60,#f80,#f20,#b00,#a00,#a00,#a00,#e00,#fb0,#ff2,#fa0,#f00,#d00,#d00,#d00,#f30,#ff4,#ff9,#ff5,#f60,#e00,#e00,#e00,#f00,#f80,#ff1,#ff1,#f50,#b00,#b00,#b00,#b00,#f00,#f70,#f80,#f00,#900,#900,#900,#900,#d00,#f50,#f60,#e00,#900,#900,#900,#900,#f10,#f80,#f50,#b00,#900,#900,#900,#a00,#f30,#f80,#f40,#b00,#900,#900,#900,#a00,#f20,#f70,#f40,#b00,#900,#900,#900,#a00,#f00,#f50,#f30,#c00,#800,#800,#800,#800,#b00,#f10,#f20,#c00,#800,#700,#700,#700,#900,#d00,#f00,#a00,#600,#600,#600,#600,#a00,#d00,#a00,#500,#500,#500,#500,#700,#b00,#b00,#700,#500,#500,#500,#500,#800,#b00,#a00,#700,#500,#500,#500,#500,#800,#b00,#b00,#700,#500,#500,#500,#500,#900,#e00,#d00,#900,#700,#700,#700,#700,#b00,#f10,#f00,#b00,#800,#800,#800,#800,#c00,#f20,#f20,#d00,#a00,#a00,#a00,#a00,#e00,#f30,#f20,#d00,#a00,#a00,#a00,#b00,#e00,#f20,#f30,#f30,#f30,#f30,#f30,#f30,#f30,#f30,#f30,#f30,#f30)"></i></div>
<div class="a" style="left:512.0px;top:209.2px;width:6.8px;height:116.8px;background:linear-gradient(180deg,#ffffff,#ffffe6,#ffffcd,#ffffb4,#ffff9b,#ffff82,#ffff6a,#ffff51,#ffff38,#ffff1f,#ffff06,#fff200,#ffe200,#ffd100,#ffc000,#ffb000,#ff9f00,#ff8f00,#ff7e00,#ff6d00,#ff5d00,#ff4c00,#ff3c00,#ff2b00,#ff1a00,#ff0a00,#f80000,#e80000,#d70000,#c60000,#b60000,#a50000,#950000,#840000,#730000,#630000,#520000,#410000,#310000,#200000,#100000);box-shadow:0 0 0 0.6px rgba(150,150,175,.35)"></div>
<div class="tk" style="left:522.50px;top:311.10px;font-size:11.20px">0.1</div>
<div class="tk" style="left:522.50px;top:299.15px;font-size:11.20px">0.2</div>
<div class="tk" style="left:522.50px;top:287.20px;font-size:11.20px">0.3</div>
<div class="tk" style="left:522.50px;top:275.25px;font-size:11.20px">0.4</div>
<div class="tk" style="left:522.50px;top:263.30px;font-size:11.20px">0.5</div>
<div class="tk" style="left:522.50px;top:251.35px;font-size:11.20px">0.6</div>
<div class="tk" style="left:522.50px;top:239.40px;font-size:11.20px">0.7</div>
<div class="tk" style="left:522.50px;top:227.45px;font-size:11.20px">0.8</div>
<div class="tk" style="left:522.50px;top:215.50px;font-size:11.20px">0.9</div>
<div class="tk" style="left:523.40px;top:201.40px;font-size:11.20px">1</div>
<div class="tk" style="left:370.80px;top:321.90px;font-size:11.20px;transform:translateX(-100%)">1</div>
<div class="tk" style="left:371.00px;top:304.84px;font-size:11.20px;transform:translateX(-100%)">2</div>
<div class="tk" style="left:371.00px;top:287.79px;font-size:11.20px;transform:translateX(-100%)">3</div>
<div class="tk" style="left:371.00px;top:270.73px;font-size:11.20px;transform:translateX(-100%)">4</div>
<div class="tk" style="left:371.00px;top:253.67px;font-size:11.20px;transform:translateX(-100%)">5</div>
<div class="tk" style="left:371.00px;top:236.61px;font-size:11.20px;transform:translateX(-100%)">6</div>
<div class="tk" style="left:371.00px;top:219.56px;font-size:11.20px;transform:translateX(-100%)">7</div>
<div class="tk" style="left:371.00px;top:202.50px;font-size:11.20px;transform:translateX(-100%)">8</div>
<div class="tk" style="left:374.60px;top:331.00px;font-size:11.20px;transform:translateX(-50%)">0</div>
<div class="tk" style="left:401.08px;top:331.00px;font-size:11.20px;transform:translateX(-50%)">0.2</div>
<div class="tk" style="left:427.56px;top:331.00px;font-size:11.20px;transform:translateX(-50%)">0.4</div>
<div class="tk" style="left:454.04px;top:331.00px;font-size:11.20px;transform:translateX(-50%)">0.6</div>
<div class="tk" style="left:480.52px;top:331.00px;font-size:11.20px;transform:translateX(-50%)">0.8</div>
<div class="tk" style="left:507.00px;top:331.00px;font-size:11.20px;transform:translateX(-50%)">1</div>
<div class="tk" style="left:385.40px;top:344.12px;font-size:11.20px">Position along beam (x/L)</div>
<div class="tk" style="left:357.58px;top:268.80px;font-size:11.20px;transform:translate(-50%,-50%) rotate(-90deg)">Scale</div>
<div class="a hm" style="left:176.8px;top:372.0px;width:133.2px;height:120.8px"><i style="top:0.00px;height:121.85px;background:linear-gradient(90deg,#500,#500,#600,#800,#b00,#e00,#f20,#f30,#f40,#f40,#f40,#f40,#f10,#b00,#500,#100,#100,#100,#500,#c00,#f30,#f60,#f70,#f70,#f70,#f40,#e00,#700,#200,#100,#100,#300,#600,#800,#a00,#b00,#b00,#900,#600,#200,#100,#100,#200,#600,#900,#a00,#a00,#800,#400,#100,#100,#100,#400,#800,#a00,#a00,#900,#400,#100,#100,#200,#800,#c00,#c00,#c00,#800,#400,#300,#300,#600,#c00,#f00,#f10,#e00,#a00,#600,#500,#500,#c00,#f50,#f80,#f80,#f50,#d00,#800,#700,#800,#d00,#f30,#f40,#f40,#f20,#d00,#a00,#a00,#c00,#f30,#fa0,#fb0,#fb0,#f70,#f20,#e00,#e00,#f50,#ff7,#fff,#fff,#fff,#ff6,#f70,#f20,#f20,#f20,#f20,#f20,#f20,#f10,#e00,#b00,#a00,#a00,#b00,#e00,#f00,#f00,#e00,#a00,#700,#600,#700,#b00,#d00,#e00,#d00,#900,#500,#500,#600,#900,#c00,#d00,#d00,#a00,#600,#400,#400,#600,#a00,#d00,#d00,#c00,#800,#500,#400,#500,#800,#c00,#e00,#e00,#b00,#700,#500,#500,#800,#f00,#f60,#f70,#f60,#f20,#c00,#800,#800,#900,#b00,#f00,#f20,#f20,#f10,#c00,#900,#800,#800,#900,#b00,#c00,#c00,#b00,#700,#500,#500,#500,#800,#a00,#a00,#a00,#800,#500,#400,#400,#500,#600,#700,#700,#600,#400,#300,#200,#300,#300,#400,#400,#400,#300,#200,#200,#200,#200,#400,#500,#500,#500,#400,#300,#300,#300,#500,#800,#800,#800,#600,#300,#300,#300,#600,#900,#a00,#a00,#800,#500,#400,#400,#600,#a00,#c00,#c00,#b00,#800,#600,#600,#600,#900,#d00,#e00,#e00,#d00,#b00,#a00,#900,#900,#d00,#f30,#f60,#f70,#f70,#f70,#f70)"></i><i style="top:0.00px;height:121.85px;-webkit-mask-image:linear-gradient(180deg,transparent 0.00px,#000 8.81px);mask-image:linear-gradient(180deg,transparent 0.00px,#000 8.81px);background:linear-gradient(90deg,#500,#500,#600,#700,#a00,#d00,#f10,#f30,#f30,#f30,#f30,#f30,#f20,#c00,#600,#200,#100,#100,#400,#a00,#f10,#f50,#f60,#f60,#f60,#f50,#f00,#900,#300,#100,#100,#200,#400,#700,#a00,#b00,#b00,#b00,#700,#300,#100,#100,#100,#400,#800,#a00,#a00,#900,#600,#200,#100,#100,#200,#600,#900,#a00,#a00,#700,#300,#100,#100,#400,#900,#c00,#c00,#b00,#700,#300,#300,#300,#700,#d00,#f10,#f10,#d00,#800,#500,#500,#600,#e00,#f60,#f80,#f80,#f30,#b00,#700,#700,#900,#e00,#f30,#f40,#f40,#f10,#c00,#a00,#a00,#d00,#f50,#fb0,#fc0,#fb0,#f60,#f10,#e00,#e00,#f90,#ffb,#ffe,#ffe,#ffe,#ff0,#f40,#f20,#f20,#f20,#f30,#f30,#f30,#f10,#d00,#a00,#a00,#a00,#c00,#f00,#f00,#f00,#c00,#800,#600,#600,#900,#c00,#e00,#e00,#b00,#700,#500,#500,#700,#b00,#d00,#d00,#b00,#700,#400,#400,#500,#900,#c00,#d00,#d00,#a00,#600,#400,#400,#700,#c00,#e00,#e00,#c00,#800,#500,#500,#800,#f00,#f60,#f70,#f60,#f20,#c00,#800,#800,#900,#b00,#f00,#f20,#f20,#f10,#c00,#800,#800,#800,#900,#b00,#c00,#c00,#a00,#700,#500,#500,#600,#800,#a00,#a00,#900,#700,#400,#400,#400,#600,#700,#700,#700,#600,#300,#200,#200,#300,#300,#400,#400,#400,#300,#200,#200,#200,#300,#500,#500,#500,#400,#300,#300,#300,#400,#700,#800,#800,#600,#400,#300,#300,#500,#800,#a00,#a00,#900,#600,#400,#400,#500,#900,#c00,#c00,#c00,#900,#700,#600,#600,#800,#c00,#e00,#e00,#d00,#c00,#a00,#900,#900,#b00,#f10,#f50,#f60,#f60,#f60,#f60,#f60)"></i><i style="top:8.00px;height:113.85px;-webkit-mask-image:linear-gradient(180deg,transparent 0.81px,#000 9.62px);mask-image:linear-gradient(180deg,transparent 0.81px,#000 9.62px);background:linear-gradient(90deg,#500,#500,#500,#700,#900,#c00,#f00,#f20,#f30,#f30,#f30,#f30,#f30,#f00,#a00,#400,#100,#100,#200,#600,#c00,#f20,#f50,#f50,#f50,#f50,#f40,#d00,#700,#200,#100,#100,#300,#500,#800,#a00,#b00,#b00,#a00,#600,#200,#100,#100,#200,#500,#800,#a00,#a00,#900,#500,#200,#100,#100,#300,#700,#a00,#a00,#a00,#600,#200,#100,#200,#600,#b00,#c00,#c00,#900,#500,#300,#300,#500,#a00,#f00,#f10,#f00,#b00,#600,#500,#500,#a00,#f40,#f80,#f80,#f60,#e00,#800,#700,#800,#c00,#f20,#f40,#f40,#f20,#d00,#a00,#a00,#c00,#f40,#fa0,#fc0,#fb0,#f70,#f10,#e00,#e00,#f80,#ffa,#ffe,#ffe,#ffd,#ff0,#f30,#f10,#f10,#f20,#f30,#f40,#f40,#f20,#d00,#a00,#a00,#b00,#d00,#f00,#f00,#f00,#b00,#700,#600,#700,#a00,#d00,#e00,#d00,#900,#600,#500,#500,#900,#c00,#d00,#c00,#900,#500,#400,#400,#700,#b00,#d00,#d00,#b00,#700,#400,#400,#600,#a00,#d00,#e00,#d00,#900,#600,#500,#600,#c00,#f40,#f70,#f70,#f40,#e00,#900,#800,#800,#a00,#e00,#f10,#f20,#f10,#d00,#900,#800,#800,#900,#b00,#c00,#c00,#b00,#700,#500,#500,#500,#800,#a00,#a00,#a00,#700,#500,#400,#400,#500,#700,#700,#700,#600,#400,#300,#200,#300,#300,#400,#400,#400,#300,#200,#200,#200,#300,#400,#500,#500,#500,#300,#300,#300,#300,#600,#800,#800,#700,#500,#300,#300,#400,#700,#a00,#a00,#a00,#700,#400,#400,#400,#600,#a00,#c00,#c00,#b00,#800,#600,#600,#600,#900,#d00,#e00,#e00,#d00,#b00,#a00,#900,#900,#c00,#f10,#f50,#f50,#f50,#f50,#f50,#f50)"></i><i style="top:17.00px;height:104.85px;-webkit-mask-image:linear-gradient(180deg,transparent 0.62px,#000 9.43px);mask-image:linear-gradient(180deg,transparent 0.62px,#000 9.43px);background:linear-gradient(90deg,#500,#500,#500,#700,#900,#b00,#d00,#f00,#f20,#f20,#f20,#f20,#f20,#f10,#c00,#700,#200,#100,#100,#300,#900,#f00,#f40,#f50,#f50,#f50,#f40,#f00,#900,#300,#100,#100,#200,#400,#700,#a00,#b00,#b00,#a00,#700,#300,#100,#100,#100,#400,#800,#a00,#a00,#900,#500,#200,#100,#100,#300,#700,#a00,#a00,#a00,#500,#200,#100,#200,#700,#c00,#c00,#c00,#800,#400,#300,#300,#600,#c00,#f00,#f10,#e00,#900,#500,#500,#600,#d00,#f60,#f80,#f80,#f30,#b00,#700,#700,#900,#f00,#f40,#f40,#f30,#f00,#b00,#a00,#a00,#f00,#f80,#fc0,#fc0,#fa0,#f30,#e00,#e00,#f30,#ff2,#ffd,#ffd,#ffd,#ff6,#f60,#f10,#f10,#f20,#f40,#f50,#f50,#f30,#e00,#b00,#a00,#a00,#c00,#e00,#f00,#f00,#c00,#800,#600,#600,#900,#c00,#e00,#d00,#b00,#600,#500,#500,#800,#b00,#d00,#d00,#a00,#600,#400,#400,#600,#a00,#d00,#d00,#c00,#900,#500,#400,#500,#900,#d00,#e00,#d00,#b00,#700,#500,#500,#900,#f20,#f70,#f70,#f60,#f10,#a00,#800,#800,#900,#c00,#f10,#f20,#f20,#f00,#b00,#800,#800,#800,#a00,#c00,#c00,#c00,#900,#600,#500,#500,#600,#900,#a00,#a00,#900,#600,#400,#400,#400,#600,#700,#700,#700,#600,#400,#200,#200,#300,#300,#400,#400,#400,#300,#200,#200,#200,#300,#400,#500,#500,#500,#400,#300,#300,#300,#600,#800,#800,#800,#500,#300,#300,#300,#600,#900,#a00,#a00,#800,#500,#400,#400,#500,#900,#c00,#c00,#b00,#900,#700,#600,#600,#800,#c00,#e00,#e00,#e00,#c00,#a00,#900,#900,#a00,#e00,#f20,#f40,#f40,#f40,#f40,#f40)"></i><i style="top:26.00px;height:95.85px;-webkit-mask-image:linear-gradient(180deg,transparent 0.43px,#000 9.23px);mask-image:linear-gradient(180deg,transparent 0.43px,#000 9.23px);background:linear-gradient(90deg,#500,#500,#500,#700,#800,#b00,#d00,#f00,#f10,#f10,#f10,#f10,#f10,#f00,#b00,#600,#200,#100,#200,#500,#a00,#f00,#f30,#f30,#f30,#f30,#f10,#c00,#600,#200,#100,#200,#300,#600,#900,#b00,#b00,#b00,#900,#500,#200,#100,#100,#300,#700,#900,#a00,#a00,#700,#300,#100,#100,#200,#600,#900,#a00,#a00,#700,#300,#100,#100,#500,#a00,#c00,#c00,#a00,#500,#300,#300,#400,#a00,#f00,#f10,#f00,#b00,#600,#500,#500,#b00,#f40,#f80,#f80,#f50,#d00,#800,#700,#800,#d00,#f30,#f40,#f40,#f10,#c00,#a00,#a00,#d00,#f60,#fc0,#fc0,#fb0,#f60,#f00,#e00,#f00,#fb0,#ffc,#ffd,#ffd,#ffa,#fb0,#f10,#f10,#f10,#f30,#f50,#f50,#f50,#f20,#c00,#a00,#a00,#b00,#d00,#f00,#f00,#e00,#a00,#700,#600,#700,#a00,#d00,#e00,#d00,#900,#500,#500,#600,#900,#c00,#d00,#c00,#900,#500,#400,#400,#600,#b00,#d00,#d00,#c00,#800,#500,#400,#500,#900,#d00,#e00,#d00,#b00,#700,#500,#500,#900,#f20,#f70,#f70,#f60,#f10,#b00,#800,#800,#900,#c00,#f00,#f20,#f20,#f00,#c00,#800,#800,#800,#900,#b00,#c00,#c00,#a00,#700,#500,#500,#500,#800,#a00,#a00,#a00,#800,#500,#400,#400,#500,#600,#700,#700,#700,#500,#300,#200,#200,#300,#400,#400,#400,#400,#300,#200,#200,#200,#300,#500,#500,#500,#400,#300,#300,#300,#400,#700,#800,#800,#700,#500,#300,#300,#400,#700,#a00,#a00,#a00,#700,#400,#400,#400,#600,#a00,#c00,#c00,#b00,#800,#600,#600,#600,#900,#c00,#e00,#e00,#d00,#c00,#a00,#900,#900,#b00,#e00,#f20,#f30,#f30,#f30,#f30)"></i><i style="top:35.00px;height:86.85px;-webkit-mask-image:linear-gradient(180deg,transparent 0.23px,#000 9.04px);mask-image:linear-gradient(180deg,transparent 0.23px,#000 9.04px);background:linear-gradient(90deg,#500,#500,#500,#700,#900,#b00,#d00,#f00,#f00,#f00,#f00,#f00,#f00,#b00,#700,#300,#200,#200,#400,#800,#d00,#f10,#f20,#f20,#f20,#f10,#c00,#700,#300,#100,#100,#300,#500,#800,#a00,#b00,#b00,#a00,#600,#200,#100,#100,#200,#500,#900,#a00,#a00,#800,#400,#100,#100,#100,#400,#800,#a00,#a00,#900,#400,#100,#100,#300,#800,#c00,#c00,#b00,#700,#300,#300,#300,#700,#d00,#f10,#f10,#e00,#900,#500,#500,#600,#e00,#f60,#f80,#f80,#f30,#b00,#700,#700,#900,#e00,#f40,#f40,#f40,#f00,#b00,#a00,#a00,#e00,#f70,#fc0,#fd0,#fb0,#f50,#f00,#e00,#f00,#fb0,#ffb,#ffc,#ffc,#ffa,#fb0,#f10,#f00,#f10,#f30,#f60,#f60,#f60,#f30,#d00,#a00,#a00,#b00,#d00,#f00,#f00,#f00,#c00,#700,#600,#600,#900,#d00,#e00,#d00,#b00,#700,#500,#500,#700,#b00,#d00,#d00,#b00,#700,#400,#400,#500,#800,#c00,#d00,#d00,#a00,#600,#400,#400,#600,#b00,#d00,#e00,#d00,#900,#600,#500,#600,#b00,#f40,#f70,#f70,#f50,#f00,#a00,#800,#800,#a00,#d00,#f10,#f20,#f20,#f00,#b00,#800,#800,#800,#a00,#c00,#c00,#c00,#a00,#600,#500,#500,#600,#800,#a00,#a00,#900,#700,#500,#400,#400,#500,#700,#700,#700,#600,#400,#300,#200,#300,#300,#400,#400,#400,#300,#200,#200,#200,#200,#400,#500,#500,#500,#400,#300,#300,#300,#500,#700,#800,#800,#600,#400,#300,#300,#500,#900,#a00,#a00,#800,#500,#400,#400,#500,#900,#c00,#c00,#c00,#900,#700,#600,#600,#800,#c00,#e00,#e00,#e00,#c00,#a00,#900,#900,#a00,#e00,#f20,#f30,#f30,#f30,#f30)"></i><i style="top:44.00px;height:77.85px;-webkit-mask-image:linear-gradient(180deg,transparent 0.04px,#000 8.85px);mask-image:linear-gradient(180deg,transparent 0.04px,#000 8.85px);background:linear-gradient(90deg,#500,#500,#500,#700,#900,#b00,#d00,#f00,#f00,#f00,#f00,#f00,#d00,#900,#500,#200,#200,#200,#500,#a00,#e00,#f10,#f10,#f10,#f10,#e00,#a00,#500,#200,#100,#100,#300,#600,#800,#a00,#b00,#b00,#a00,#600,#200,#100,#100,#200,#600,#900,#a00,#a00,#800,#400,#100,#100,#100,#400,#800,#a00,#a00,#900,#500,#100,#100,#200,#700,#c00,#c00,#c00,#900,#400,#300,#300,#500,#b00,#f00,#f10,#f00,#b00,#600,#500,#500,#a00,#f40,#f80,#f80,#f60,#e00,#800,#700,#800,#c00,#f20,#f40,#f40,#f20,#d00,#a00,#a00,#b00,#f20,#fa0,#fd0,#fd0,#f90,#f30,#e00,#d00,#f20,#ff1,#ffc,#ffc,#ffc,#ff6,#f70,#f00,#f00,#f10,#f40,#f70,#f70,#f70,#f20,#c00,#a00,#a00,#b00,#d00,#f00,#f00,#e00,#b00,#700,#600,#700,#a00,#d00,#e00,#d00,#a00,#600,#500,#500,#800,#c00,#d00,#d00,#a00,#600,#400,#400,#500,#a00,#d00,#d00,#d00,#900,#500,#400,#500,#800,#c00,#e00,#e00,#c00,#800,#500,#500,#700,#f00,#f60,#f70,#f70,#f30,#c00,#800,#800,#800,#b00,#e00,#f20,#f20,#f10,#d00,#900,#800,#800,#900,#b00,#c00,#c00,#b00,#700,#500,#500,#500,#800,#a00,#a00,#a00,#700,#500,#400,#400,#500,#600,#700,#700,#600,#400,#300,#200,#300,#300,#400,#400,#400,#300,#200,#200,#200,#300,#400,#500,#500,#500,#400,#300,#300,#300,#600,#800,#800,#800,#500,#300,#300,#300,#600,#900,#a00,#a00,#700,#500,#400,#400,#600,#a00,#c00,#c00,#b00,#800,#600,#600,#600,#a00,#d00,#e00,#e00,#d00,#b00,#a00,#900,#a00,#c00,#f00,#f30,#f30,#f30,#f30,#f30)"></i><i style="top:52.00px;height:69.85px;-webkit-mask-image:linear-gradient(180deg,transparent 0.85px,#000 9.66px);mask-image:linear-gradient(180deg,transparent 0.85px,#000 9.66px);background:linear-gradient(90deg,#500,#500,#500,#700,#900,#b00,#d00,#e00,#f00,#f00,#f00,#f00,#e00,#b00,#600,#300,#200,#200,#400,#800,#c00,#f00,#f10,#f10,#f10,#f10,#c00,#800,#300,#100,#100,#200,#400,#700,#900,#b00,#b00,#b00,#800,#400,#100,#100,#100,#300,#700,#a00,#a00,#a00,#700,#300,#100,#100,#200,#500,#900,#a00,#a00,#800,#400,#100,#100,#300,#800,#c00,#c00,#b00,#700,#400,#300,#300,#600,#c00,#f10,#f10,#e00,#900,#500,#500,#600,#c00,#f50,#f80,#f80,#f40,#c00,#800,#700,#800,#d00,#f30,#f40,#f40,#f10,#c00,#a00,#a00,#c00,#f50,#fc0,#fd0,#fc0,#f70,#f10,#d00,#e00,#f70,#ff7,#ffb,#ffb,#ffb,#fe0,#f30,#f00,#f00,#f30,#f60,#f80,#f80,#f50,#f00,#b00,#a00,#a00,#c00,#e00,#f00,#f00,#c00,#800,#600,#600,#900,#c00,#e00,#e00,#b00,#700,#500,#500,#700,#b00,#d00,#d00,#b00,#700,#400,#400,#500,#900,#d00,#d00,#d00,#900,#500,#400,#500,#800,#c00,#e00,#e00,#b00,#700,#500,#500,#800,#f10,#f60,#f70,#f60,#f20,#b00,#800,#800,#900,#c00,#f00,#f20,#f20,#f00,#b00,#800,#800,#800,#a00,#c00,#c00,#c00,#a00,#600,#500,#500,#600,#900,#a00,#a00,#900,#600,#400,#400,#400,#600,#700,#700,#700,#500,#300,#200,#200,#300,#400,#400,#400,#400,#300,#200,#200,#200,#400,#500,#500,#500,#400,#300,#300,#300,#500,#700,#800,#800,#600,#400,#300,#300,#500,#900,#a00,#a00,#800,#500,#400,#400,#500,#900,#c00,#c00,#b00,#900,#600,#600,#600,#900,#c00,#e00,#e00,#d00,#c00,#a00,#900,#900,#b00,#e00,#f20,#f30,#f30,#f30,#f30,#f30)"></i><i style="top:61.00px;height:60.85px;-webkit-mask-image:linear-gradient(180deg,transparent 0.66px,#000 9.47px);mask-image:linear-gradient(180deg,transparent 0.66px,#000 9.47px);background:linear-gradient(90deg,#500,#500,#500,#600,#800,#a00,#c00,#e00,#f00,#f00,#f00,#f00,#f00,#d00,#900,#500,#200,#200,#200,#500,#900,#d00,#f10,#f10,#f10,#f10,#f00,#b00,#600,#200,#100,#100,#200,#500,#800,#a00,#b00,#b00,#a00,#700,#300,#100,#100,#200,#500,#800,#a00,#a00,#900,#500,#200,#100,#100,#300,#700,#a00,#a00,#a00,#600,#200,#100,#100,#600,#b00,#c00,#c00,#900,#500,#300,#300,#500,#a00,#f00,#f10,#f00,#b00,#600,#500,#500,#a00,#f40,#f80,#f80,#f50,#e00,#800,#700,#800,#c00,#f30,#f40,#f40,#f20,#c00,#a00,#a00,#c00,#f50,#fc0,#fe0,#fd0,#f70,#f10,#d00,#e00,#f80,#ff7,#ffa,#ffa,#ff9,#fb0,#f10,#f00,#f10,#f40,#f70,#f80,#f80,#f40,#d00,#a00,#a00,#b00,#d00,#f00,#f00,#e00,#a00,#700,#600,#700,#a00,#d00,#e00,#d00,#900,#500,#500,#600,#900,#c00,#d00,#c00,#900,#500,#400,#400,#700,#c00,#d00,#d00,#b00,#700,#400,#400,#600,#b00,#e00,#e00,#c00,#900,#600,#500,#700,#d00,#f50,#f70,#f70,#f30,#d00,#900,#800,#800,#b00,#e00,#f20,#f20,#f10,#c00,#900,#800,#800,#900,#b00,#c00,#c00,#a00,#700,#500,#500,#600,#800,#a00,#a00,#900,#700,#400,#400,#400,#500,#700,#700,#700,#600,#400,#200,#200,#300,#300,#400,#400,#400,#300,#200,#200,#200,#300,#400,#500,#500,#500,#300,#300,#300,#400,#600,#800,#800,#700,#500,#300,#300,#400,#700,#a00,#a00,#a00,#700,#400,#400,#400,#600,#a00,#c00,#c00,#b00,#800,#600,#600,#600,#900,#d00,#e00,#e00,#d00,#b00,#a00,#900,#900,#b00,#e00,#f20,#f30,#f30,#f30,#f30,#f30)"></i><i style="top:70.00px;height:51.85px;-webkit-mask-image:linear-gradient(180deg,transparent 0.47px,#000 9.28px);mask-image:linear-gradient(180deg,transparent 0.47px,#000 9.28px);background:linear-gradient(90deg,#500,#500,#500,#600,#800,#a00,#c00,#e00,#f00,#f00,#f00,#f00,#f00,#e00,#b00,#700,#300,#200,#200,#400,#800,#c00,#f10,#f10,#f10,#f10,#f10,#c00,#700,#300,#100,#100,#200,#500,#700,#a00,#b00,#b00,#a00,#700,#300,#100,#100,#200,#500,#800,#a00,#a00,#900,#500,#200,#100,#100,#400,#800,#a00,#b00,#900,#500,#100,#100,#200,#800,#c00,#d00,#c00,#800,#400,#300,#300,#700,#d00,#f10,#f10,#e00,#900,#500,#500,#700,#f00,#f70,#f90,#f80,#f20,#a00,#700,#700,#a00,#f10,#f40,#f40,#f30,#e00,#b00,#a00,#b00,#f30,#fb0,#fe0,#fe0,#fa0,#f30,#d00,#d00,#f40,#ff3,#ff9,#ff9,#ff9,#ff0,#f30,#f00,#f00,#f30,#f70,#f80,#f80,#f60,#f00,#b00,#a00,#b00,#d00,#f00,#f00,#f00,#c00,#800,#600,#700,#a00,#d00,#e00,#d00,#a00,#600,#500,#500,#800,#c00,#d00,#d00,#a00,#600,#400,#400,#600,#a00,#d00,#d00,#c00,#800,#500,#400,#500,#900,#d00,#e00,#d00,#a00,#700,#500,#500,#a00,#f30,#f70,#f70,#f60,#f10,#a00,#800,#800,#900,#d00,#f10,#f20,#f20,#f00,#b00,#800,#800,#800,#a00,#c00,#c00,#c00,#a00,#600,#500,#500,#600,#900,#a00,#a00,#900,#700,#400,#400,#400,#600,#700,#700,#700,#600,#400,#300,#200,#300,#300,#400,#400,#400,#300,#200,#200,#200,#300,#400,#500,#500,#500,#400,#300,#300,#300,#500,#800,#800,#800,#600,#300,#300,#300,#600,#900,#a00,#a00,#800,#600,#400,#400,#500,#900,#c00,#c00,#c00,#a00,#700,#600,#600,#800,#b00,#e00,#e00,#e00,#d00,#b00,#a00,#900,#a00,#c00,#f10,#f30,#f30,#f30,#f20,#f20)"></i><i style="top:79.00px;height:42.85px;-webkit-mask-image:linear-gradient(180deg,transparent 0.28px,#000 9.08px);mask-image:linear-gradient(180deg,transparent 0.28px,#000 9.08px);background:linear-gradient(90deg,#500,#500,#500,#600,#800,#a00,#c00,#e00,#f00,#f00,#f00,#f00,#f00,#e00,#900,#500,#200,#200,#200,#500,#a00,#e00,#f10,#f10,#f10,#f10,#e00,#a00,#500,#200,#100,#200,#400,#600,#900,#b00,#c00,#b00,#900,#400,#100,#100,#100,#400,#800,#a00,#a00,#a00,#600,#200,#100,#100,#300,#700,#a00,#b00,#a00,#600,#200,#100,#200,#600,#b00,#d00,#d00,#900,#500,#300,#300,#500,#b00,#f10,#f10,#f00,#a00,#600,#500,#600,#c00,#f60,#f90,#f90,#f50,#c00,#800,#700,#900,#e00,#f40,#f50,#f40,#f10,#c00,#a00,#a00,#f00,#f90,#ff0,#ff0,#fd0,#f60,#f00,#e00,#f00,#fb0,#ff8,#ff9,#ff9,#ff6,#f90,#f10,#f00,#f10,#f50,#f80,#f90,#f90,#f40,#d00,#a00,#a00,#b00,#e00,#f00,#f10,#f00,#b00,#700,#700,#700,#b00,#e00,#e00,#d00,#900,#600,#500,#600,#900,#c00,#d00,#d00,#a00,#600,#400,#400,#600,#b00,#d00,#e00,#d00,#900,#500,#400,#500,#900,#d00,#e00,#e00,#b00,#700,#500,#500,#900,#f10,#f70,#f80,#f70,#f30,#c00,#800,#800,#900,#c00,#f00,#f20,#f20,#f10,#d00,#900,#800,#800,#900,#b00,#c00,#c00,#b00,#800,#500,#500,#500,#700,#a00,#a00,#a00,#800,#600,#400,#400,#500,#600,#700,#700,#700,#500,#300,#300,#300,#300,#400,#400,#400,#400,#300,#200,#200,#200,#300,#500,#500,#500,#500,#300,#300,#300,#400,#600,#800,#800,#800,#500,#300,#300,#300,#700,#a00,#a00,#a00,#800,#500,#400,#400,#600,#a00,#c00,#c00,#c00,#900,#700,#600,#600,#900,#c00,#e00,#e00,#e00,#c00,#a00,#a00,#a00,#b00,#e00,#f20,#f30,#f30,#f30,#f20)"></i><i style="top:88.00px;height:33.85px;-webkit-mask-image:linear-gradient(180deg,transparent 0.08px,#000 8.89px);mask-image:linear-gradient(180deg,transparent 0.08px,#000 8.89px);background:linear-gradient(90deg,#500,#500,#500,#700,#900,#c00,#e00,#f00,#f10,#f10,#f10,#f10,#f00,#b00,#600,#300,#200,#200,#400,#900,#e00,#f10,#f20,#f20,#f20,#f10,#b00,#600,#200,#100,#100,#300,#600,#900,#b00,#c00,#c00,#a00,#600,#200,#100,#100,#200,#600,#900,#a00,#a00,#800,#400,#100,#100,#100,#500,#900,#b00,#b00,#900,#400,#100,#100,#300,#900,#d00,#d00,#c00,#800,#400,#300,#300,#700,#d00,#f10,#f10,#e00,#900,#500,#500,#600,#e00,#f70,#f90,#f90,#f40,#c00,#800,#800,#a00,#f00,#f40,#f50,#f50,#f10,#c00,#a00,#a00,#e00,#f80,#ff0,#ff1,#fe0,#f80,#f10,#e00,#e00,#f80,#ff6,#ff8,#ff8,#ff7,#fb0,#f20,#f00,#f10,#f40,#f80,#fa0,#fa0,#f70,#f00,#b00,#a00,#b00,#d00,#f00,#f10,#f10,#d00,#800,#700,#700,#900,#d00,#e00,#e00,#c00,#800,#500,#500,#700,#b00,#d00,#d00,#c00,#800,#500,#400,#500,#800,#c00,#e00,#e00,#c00,#700,#500,#500,#600,#a00,#e00,#e00,#e00,#a00,#700,#600,#600,#b00,#f40,#f80,#f80,#f60,#f10,#b00,#800,#800,#a00,#d00,#f10,#f30,#f30,#f10,#c00,#900,#800,#800,#a00,#c00,#d00,#d00,#b00,#700,#500,#500,#600,#800,#a00,#a00,#a00,#800,#500,#400,#400,#500,#700,#800,#800,#700,#400,#300,#300,#300,#300,#400,#400,#400,#400,#300,#200,#200,#300,#400,#500,#500,#500,#400,#300,#300,#300,#500,#800,#800,#800,#600,#400,#300,#300,#600,#900,#a00,#a00,#900,#600,#400,#400,#500,#900,#c00,#d00,#c00,#a00,#700,#600,#600,#900,#c00,#f00,#f00,#e00,#c00,#b00,#a00,#a00,#b00,#e00,#f20,#f30,#f30,#f30,#f20)"></i><i style="top:96.00px;height:25.85px;-webkit-mask-image:linear-gradient(180deg,transparent 0.89px,#000 9.70px);mask-image:linear-gradient(180deg,transparent 0.89px,#000 9.70px);background:linear-gradient(90deg,#500,#500,#500,#700,#a00,#c00,#e00,#f10,#f10,#f10,#f10,#f10,#e00,#a00,#500,#200,#200,#200,#500,#a00,#f00,#f20,#f20,#f20,#f20,#f10,#b00,#600,#200,#100,#200,#300,#600,#900,#b00,#c00,#c00,#a00,#700,#200,#100,#100,#200,#600,#900,#b00,#b00,#900,#500,#200,#100,#100,#300,#800,#b00,#b00,#a00,#600,#200,#100,#200,#600,#c00,#d00,#d00,#a00,#500,#300,#300,#500,#b00,#f10,#f20,#f10,#c00,#700,#500,#500,#900,#f30,#f90,#fa0,#f80,#f10,#a00,#800,#800,#b00,#f20,#f50,#f50,#f40,#f00,#b00,#a00,#b00,#f20,#fb0,#ff2,#ff2,#fd0,#f60,#f00,#e00,#f10,#fb0,#ff7,#ff7,#ff7,#ff4,#f80,#f10,#f10,#f20,#f60,#f90,#fa0,#fa0,#f60,#e00,#b00,#b00,#b00,#e00,#f10,#f10,#f10,#c00,#800,#700,#700,#a00,#e00,#f00,#e00,#b00,#700,#500,#500,#800,#c00,#e00,#e00,#b00,#700,#400,#400,#500,#a00,#d00,#e00,#e00,#a00,#600,#500,#500,#800,#c00,#f00,#f00,#d00,#800,#600,#600,#800,#f00,#f70,#f80,#f80,#f40,#d00,#900,#800,#900,#c00,#f00,#f30,#f30,#f20,#d00,#900,#800,#800,#a00,#c00,#d00,#d00,#b00,#800,#500,#500,#600,#800,#a00,#b00,#a00,#800,#500,#400,#400,#500,#700,#800,#800,#700,#400,#300,#300,#300,#300,#400,#400,#400,#400,#200,#200,#200,#300,#400,#600,#600,#500,#400,#300,#300,#400,#600,#800,#900,#800,#500,#300,#300,#400,#700,#a00,#b00,#a00,#700,#500,#400,#400,#700,#b00,#d00,#d00,#b00,#800,#600,#600,#700,#b00,#e00,#f00,#f00,#d00,#b00,#a00,#a00,#b00,#d00,#f10,#f30,#f30,#f30,#f20,#f20)"></i><i style="top:105.00px;height:16.85px;-webkit-mask-image:linear-gradient(180deg,transparent 0.70px,#000 3.72px);mask-image:linear-gradient(180deg,transparent 0.70px,#000 3.72px);background:linear-gradient(90deg,#500,#500,#500,#700,#a00,#d00,#f00,#f10,#f10,#f10,#f10,#f10,#c00,#700,#300,#200,#200,#200,#600,#b00,#f00,#f20,#f20,#f20,#f20,#e00,#900,#400,#100,#100,#200,#300,#600,#900,#b00,#c00,#c00,#900,#500,#100,#100,#100,#200,#600,#900,#b00,#b00,#800,#400,#100,#100,#100,#400,#800,#b00,#b00,#900,#400,#100,#100,#200,#700,#c00,#d00,#d00,#900,#400,#300,#300,#500,#b00,#f10,#f20,#f10,#b00,#600,#500,#500,#900,#f40,#fa0,#fa0,#f70,#e00,#800,#800,#800,#c00,#f20,#f60,#f60,#f30,#e00,#b00,#b00,#b00,#f30,#fc0,#ff2,#ff2,#fb0,#f30,#e00,#e00,#f10,#fc0,#ff7,#ff7,#ff7,#ff0,#f50,#f10,#f10,#f20,#f60,#fa0,#fb0,#f90,#f30,#c00,#b00,#b00,#c00,#e00,#f10,#f10,#f00,#a00,#700,#700,#700,#b00,#e00,#f00,#d00,#900,#600,#500,#600,#900,#d00,#e00,#d00,#900,#500,#400,#400,#600,#b00,#e00,#e00,#c00,#800,#500,#500,#500,#900,#e00,#f00,#e00,#a00,#700,#600,#600,#a00,#f30,#f80,#f90,#f60,#f10,#a00,#900,#900,#a00,#d00,#f20,#f30,#f30,#f00,#b00,#800,#800,#900,#b00,#c00,#d00,#c00,#900,#600,#500,#500,#700,#900,#b00,#b00,#900,#600,#400,#400,#500,#600,#800,#800,#700,#500,#300,#300,#300,#300,#400,#400,#400,#400,#300,#200,#200,#200,#400,#500,#600,#500,#400,#300,#300,#300,#500,#800,#900,#800,#600,#300,#300,#300,#600,#900,#b00,#a00,#800,#500,#400,#400,#600,#a00,#d00,#d00,#c00,#900,#600,#600,#600,#900,#d00,#f00,#f00,#e00,#c00,#a00,#a00,#a00,#c00,#f00,#f30,#f30,#f30,#f30,#f20,#f20)"></i><i style="top:108.00px;height:13.85px;-webkit-mask-image:linear-gradient(180deg,transparent 0.72px,#000 3.74px);mask-image:linear-gradient(180deg,transparent 0.72px,#000 3.74px);background:linear-gradient(90deg,#500,#500,#600,#800,#a00,#d00,#f00,#f10,#f10,#f10,#f10,#e00,#900,#400,#200,#200,#200,#300,#700,#c00,#f10,#f20,#f20,#f20,#f10,#b00,#600,#200,#100,#100,#200,#400,#700,#a00,#c00,#c00,#b00,#700,#300,#100,#100,#100,#300,#700,#a00,#b00,#a00,#600,#200,#100,#100,#100,#500,#900,#b00,#b00,#700,#200,#100,#100,#300,#800,#d00,#d00,#b00,#600,#300,#300,#300,#600,#d00,#f20,#f20,#d00,#800,#500,#500,#500,#c00,#f60,#fa0,#f90,#f30,#a00,#800,#800,#900,#d00,#f40,#f60,#f50,#f10,#c00,#b00,#b00,#c00,#f60,#ff0,#ff2,#fe0,#f60,#f00,#e00,#e00,#f40,#ff1,#ff7,#ff7,#ff4,#f80,#f10,#f10,#f10,#f40,#f80,#fb0,#fa0,#f60,#e00,#b00,#b00,#b00,#d00,#f00,#f10,#f10,#b00,#700,#700,#700,#900,#d00,#f00,#e00,#a00,#600,#500,#500,#700,#b00,#e00,#e00,#a00,#600,#400,#400,#500,#900,#d00,#e00,#d00,#800,#500,#500,#500,#700,#c00,#f00,#e00,#b00,#700,#600,#600,#700,#f00,#f80,#f90,#f70,#f10,#a00,#900,#900,#900,#c00,#f10,#f30,#f30,#f00,#b00,#800,#800,#900,#a00,#c00,#d00,#c00,#900,#600,#500,#500,#600,#900,#b00,#b00,#900,#600,#400,#400,#500,#600,#700,#800,#700,#500,#300,#300,#300,#300,#400,#400,#400,#400,#300,#200,#200,#200,#300,#500,#600,#500,#400,#300,#300,#300,#400,#700,#900,#800,#600,#300,#300,#300,#500,#900,#b00,#a00,#800,#500,#400,#400,#500,#900,#d00,#d00,#c00,#800,#600,#600,#600,#800,#d00,#f00,#f00,#e00,#c00,#a00,#a00,#a00,#b00,#e00,#f20,#f30,#f30,#f30,#f20,#f20,#f20)"></i><i style="top:111.00px;height:10.85px;-webkit-mask-image:linear-gradient(180deg,transparent 0.74px,#000 3.76px);mask-image:linear-gradient(180deg,transparent 0.74px,#000 3.76px);background:linear-gradient(90deg,#500,#500,#600,#800,#b00,#e00,#f10,#f10,#f10,#f10,#e00,#a00,#500,#200,#200,#200,#200,#500,#900,#e00,#f20,#f20,#f20,#f10,#c00,#700,#300,#100,#100,#100,#300,#500,#800,#b00,#c00,#c00,#800,#400,#100,#100,#100,#100,#500,#900,#b00,#a00,#700,#300,#100,#100,#100,#200,#700,#b00,#b00,#800,#300,#100,#100,#100,#500,#b00,#d00,#c00,#700,#300,#300,#300,#400,#900,#f00,#f20,#f00,#900,#500,#500,#500,#800,#f20,#fa0,#fa0,#f40,#b00,#800,#800,#800,#b00,#f20,#f60,#f50,#f20,#c00,#b00,#b00,#b00,#f20,#fc0,#ff3,#ff0,#f70,#f00,#e00,#e00,#f10,#fb0,#ff6,#ff6,#ff4,#f80,#f10,#f10,#f10,#f20,#f70,#fb0,#fb0,#f60,#e00,#b00,#b00,#b00,#c00,#f00,#f10,#f10,#b00,#700,#700,#700,#800,#c00,#f00,#e00,#a00,#600,#500,#500,#600,#a00,#e00,#e00,#a00,#500,#400,#400,#400,#800,#d00,#e00,#d00,#800,#500,#500,#500,#700,#c00,#f00,#e00,#a00,#600,#600,#600,#700,#e00,#f70,#f90,#f60,#f00,#a00,#900,#900,#900,#c00,#f10,#f30,#f30,#e00,#a00,#900,#900,#900,#a00,#c00,#d00,#c00,#800,#500,#500,#500,#600,#900,#b00,#b00,#800,#500,#400,#400,#500,#600,#700,#800,#700,#400,#300,#300,#300,#300,#400,#400,#400,#300,#200,#200,#200,#200,#300,#500,#600,#500,#400,#300,#300,#300,#400,#700,#900,#800,#500,#300,#300,#300,#500,#900,#b00,#a00,#700,#400,#400,#400,#500,#900,#c00,#d00,#b00,#800,#600,#600,#600,#800,#c00,#f00,#f00,#e00,#b00,#a00,#a00,#a00,#b00,#e00,#f20,#f30,#f30,#f30,#f30,#f20,#f20,#f20)"></i><i style="top:114.00px;height:7.85px;-webkit-mask-image:linear-gradient(180deg,transparent 0.76px,#000 3.78px);mask-image:linear-gradient(180deg,transparent 0.76px,#000 3.78px);background:linear-gradient(90deg,#500,#500,#600,#900,#c00,#f00,#f20,#f20,#f20,#f00,#b00,#600,#200,#200,#200,#200,#300,#700,#c00,#f10,#f20,#f20,#f20,#d00,#700,#300,#100,#100,#100,#200,#400,#700,#a00,#c00,#c00,#900,#400,#100,#100,#100,#100,#300,#700,#b00,#b00,#800,#300,#100,#100,#100,#100,#500,#a00,#b00,#900,#300,#100,#100,#100,#300,#900,#e00,#c00,#700,#300,#300,#300,#300,#700,#e00,#f20,#f00,#900,#500,#500,#500,#600,#f00,#f90,#fa0,#f40,#b00,#800,#800,#800,#a00,#f10,#f60,#f50,#f10,#c00,#b00,#b00,#b00,#f00,#fa0,#ff3,#ff0,#f60,#f00,#e00,#e00,#f00,#f90,#ff6,#ff6,#ff2,#f70,#f10,#f10,#f10,#f20,#f70,#fb0,#fb0,#f50,#d00,#b00,#b00,#b00,#c00,#f00,#f20,#f00,#a00,#700,#700,#700,#800,#c00,#f00,#d00,#800,#500,#500,#500,#600,#b00,#e00,#d00,#800,#500,#400,#400,#500,#800,#d00,#e00,#b00,#600,#500,#500,#500,#700,#c00,#f00,#d00,#900,#600,#600,#600,#700,#f00,#f80,#f90,#f40,#c00,#900,#900,#900,#900,#c00,#f10,#f30,#f20,#c00,#900,#900,#900,#900,#a00,#c00,#d00,#b00,#700,#500,#500,#500,#600,#900,#b00,#a00,#700,#500,#400,#400,#500,#600,#800,#800,#600,#300,#300,#300,#300,#300,#400,#400,#400,#300,#200,#200,#200,#200,#300,#500,#600,#500,#300,#300,#300,#300,#400,#800,#900,#700,#400,#300,#300,#300,#500,#900,#b00,#a00,#600,#400,#400,#400,#500,#800,#c00,#d00,#b00,#700,#600,#600,#600,#800,#c00,#f00,#f00,#d00,#b00,#a00,#a00,#a00,#b00,#d00,#f20,#f30,#f30,#f30,#f30,#f20,#f20,#f20,#f20)"></i><i style="top:117.00px;height:4.85px;-webkit-mask-image:linear-gradient(180deg,transparent 0.78px,#000 3.80px);mask-image:linear-gradient(180deg,transparent 0.78px,#000 3.80px);background:linear-gradient(90deg,#500,#500,#600,#900,#d00,#f10,#f20,#f20,#f00,#b00,#600,#300,#200,#200,#200,#200,#600,#a00,#f00,#f20,#f30,#f20,#d00,#700,#300,#100,#100,#100,#200,#300,#600,#900,#c00,#c00,#900,#400,#100,#100,#100,#100,#200,#600,#a00,#b00,#700,#300,#100,#100,#100,#100,#400,#900,#b00,#800,#300,#100,#100,#100,#200,#800,#d00,#c00,#700,#300,#300,#300,#300,#600,#d00,#f20,#e00,#800,#500,#500,#500,#600,#e00,#f80,#fa0,#f30,#a00,#800,#800,#800,#900,#f10,#f60,#f50,#f00,#b00,#b00,#b00,#b00,#f00,#fb0,#ff3,#fd0,#f40,#e00,#e00,#e00,#f00,#fa0,#ff6,#ff6,#fd0,#f30,#f10,#f10,#f10,#f20,#f70,#fb0,#f90,#f20,#b00,#b00,#b00,#b00,#c00,#f00,#f20,#e00,#800,#700,#700,#700,#800,#d00,#f00,#b00,#600,#600,#600,#600,#700,#c00,#e00,#b00,#600,#400,#400,#400,#500,#900,#e00,#e00,#900,#500,#500,#500,#500,#800,#d00,#f00,#b00,#700,#600,#600,#600,#800,#f20,#f90,#f70,#f10,#a00,#900,#900,#900,#900,#d00,#f20,#f30,#f00,#a00,#900,#900,#900,#900,#b00,#d00,#d00,#900,#600,#500,#500,#500,#700,#a00,#b00,#900,#500,#400,#400,#400,#500,#600,#800,#700,#500,#300,#300,#300,#300,#300,#400,#400,#400,#300,#200,#200,#200,#200,#400,#500,#600,#400,#300,#300,#300,#300,#400,#800,#900,#600,#300,#300,#300,#300,#500,#900,#b00,#900,#500,#400,#400,#400,#500,#800,#c00,#d00,#a00,#700,#600,#600,#600,#700,#c00,#f00,#f00,#d00,#b00,#a00,#a00,#a00,#a00,#d00,#f10,#f30,#f30,#f30,#f30,#f30,#f20,#f20,#f20,#f20)"></i></div>
<div class="a" style="left:317.9px;top:372.3px;width:6.9px;height:120.6px;background:linear-gradient(180deg,#ffffff,#ffffe6,#ffffcd,#ffffb4,#ffff9b,#ffff82,#ffff6a,#ffff51,#ffff38,#ffff1f,#ffff06,#fff200,#ffe200,#ffd100,#ffc000,#ffb000,#ff9f00,#ff8f00,#ff7e00,#ff6d00,#ff5d00,#ff4c00,#ff3c00,#ff2b00,#ff1a00,#ff0a00,#f80000,#e80000,#d70000,#c60000,#b60000,#a50000,#950000,#840000,#730000,#630000,#520000,#410000,#310000,#200000,#100000);box-shadow:0 0 0 0.6px rgba(150,150,175,.35)"></div>
<div class="tk" style="left:328.60px;top:477.00px;font-size:11.60px">0.1</div>
<div class="tk" style="left:328.60px;top:464.72px;font-size:11.60px">0.2</div>
<div class="tk" style="left:328.60px;top:452.45px;font-size:11.60px">0.3</div>
<div class="tk" style="left:328.60px;top:440.18px;font-size:11.60px">0.4</div>
<div class="tk" style="left:328.60px;top:427.90px;font-size:11.60px">0.5</div>
<div class="tk" style="left:328.60px;top:415.62px;font-size:11.60px">0.6</div>
<div class="tk" style="left:328.60px;top:403.35px;font-size:11.60px">0.7</div>
<div class="tk" style="left:328.60px;top:391.07px;font-size:11.60px">0.8</div>
<div class="tk" style="left:328.60px;top:378.80px;font-size:11.60px">0.9</div>
<div class="tk" style="left:329.50px;top:364.40px;font-size:11.60px">1</div>
<div class="tk" style="left:169.20px;top:488.60px;font-size:11.60px;transform:translateX(-100%)">1</div>
<div class="tk" style="left:169.40px;top:471.04px;font-size:11.60px;transform:translateX(-100%)">2</div>
<div class="tk" style="left:169.40px;top:453.49px;font-size:11.60px;transform:translateX(-100%)">3</div>
<div class="tk" style="left:169.40px;top:435.93px;font-size:11.60px;transform:translateX(-100%)">4</div>
<div class="tk" style="left:169.40px;top:418.37px;font-size:11.60px;transform:translateX(-100%)">5</div>
<div class="tk" style="left:169.40px;top:400.81px;font-size:11.60px;transform:translateX(-100%)">6</div>
<div class="tk" style="left:169.40px;top:383.26px;font-size:11.60px;transform:translateX(-100%)">7</div>
<div class="tk" style="left:169.40px;top:365.70px;font-size:11.60px;transform:translateX(-100%)">8</div>
<div class="tk" style="left:174.90px;top:498.10px;font-size:11.60px;transform:translateX(-50%)">0</div>
<div class="tk" style="left:202.16px;top:498.10px;font-size:11.60px;transform:translateX(-50%)">0.2</div>
<div class="tk" style="left:229.42px;top:498.10px;font-size:11.60px;transform:translateX(-50%)">0.4</div>
<div class="tk" style="left:256.68px;top:498.10px;font-size:11.60px;transform:translateX(-50%)">0.6</div>
<div class="tk" style="left:283.94px;top:498.10px;font-size:11.60px;transform:translateX(-50%)">0.8</div>
<div class="tk" style="left:311.20px;top:498.10px;font-size:11.60px;transform:translateX(-50%)">1</div>
<div class="tk" style="left:186.60px;top:510.89px;font-size:11.60px">Position along beam (x/L)</div>
<div class="tk" style="left:155.50px;top:433.95px;font-size:11.60px;transform:translate(-50%,-50%) rotate(-90deg)">Scale</div>
<div class="a hm" style="left:374.5px;top:372.4px;width:131.2px;height:119.5px"><i style="top:0.00px;height:120.55px;background:linear-gradient(90deg,#500,#500,#600,#900,#d00,#f10,#f30,#f40,#f40,#f40,#f40,#f10,#a00,#400,#100,#100,#200,#700,#e00,#f50,#f70,#f70,#f70,#f60,#f30,#b00,#400,#100,#100,#200,#400,#700,#a00,#b00,#b00,#b00,#700,#300,#100,#100,#100,#500,#800,#a00,#a00,#900,#500,#200,#100,#100,#300,#700,#a00,#a00,#900,#500,#100,#100,#200,#700,#c00,#c00,#c00,#800,#400,#300,#300,#600,#c00,#f10,#f10,#e00,#900,#500,#500,#600,#d00,#f60,#f80,#f80,#f30,#b00,#700,#700,#900,#e00,#f40,#f40,#f40,#f00,#b00,#a00,#a00,#e00,#f60,#fb0,#fb0,#fa0,#f40,#f00,#e00,#f10,#fe0,#ffe,#fff,#fff,#ffb,#fb0,#f20,#f20,#f20,#f20,#f20,#f20,#f20,#e00,#b00,#a00,#a00,#b00,#d00,#f00,#f00,#e00,#a00,#700,#600,#700,#b00,#d00,#e00,#d00,#900,#500,#500,#600,#900,#c00,#d00,#c00,#900,#500,#400,#400,#700,#b00,#d00,#d00,#b00,#700,#400,#400,#600,#a00,#d00,#e00,#d00,#a00,#600,#500,#600,#b00,#f40,#f70,#f70,#f50,#e00,#900,#800,#800,#a00,#d00,#f10,#f20,#f20,#e00,#a00,#800,#800,#900,#b00,#c00,#c00,#b00,#800,#500,#500,#500,#700,#a00,#a00,#a00,#800,#500,#400,#400,#500,#600,#700,#700,#600,#400,#300,#200,#300,#300,#400,#400,#400,#300,#200,#200,#200,#300,#400,#500,#500,#500,#300,#300,#300,#400,#600,#800,#800,#700,#400,#300,#300,#400,#800,#a00,#a00,#900,#600,#400,#400,#500,#800,#b00,#c00,#c00,#900,#700,#600,#600,#800,#c00,#e00,#e00,#d00,#c00,#a00,#900,#900,#c00,#f20,#f60,#f70,#f70,#f70,#f70,#f70)"></i><i style="top:0.00px;height:120.55px;-webkit-mask-image:linear-gradient(180deg,transparent 0.00px,#000 8.71px);mask-image:linear-gradient(180deg,transparent 0.00px,#000 8.71px);background:linear-gradient(90deg,#500,#500,#600,#900,#c00,#f10,#f30,#f30,#f30,#f30,#f30,#f10,#a00,#500,#100,#100,#100,#600,#c00,#f30,#f60,#f60,#f60,#f60,#f40,#d00,#600,#200,#100,#200,#300,#600,#900,#b00,#b00,#b00,#900,#500,#200,#100,#100,#300,#600,#900,#a00,#a00,#700,#300,#100,#100,#100,#500,#900,#a00,#a00,#800,#300,#100,#100,#400,#900,#c00,#c00,#b00,#700,#300,#300,#300,#800,#d00,#f10,#f10,#d00,#800,#500,#500,#700,#f10,#f70,#f80,#f70,#f10,#a00,#700,#700,#a00,#f10,#f40,#f40,#f30,#e00,#b00,#a00,#a00,#f10,#f80,#fc0,#fc0,#f90,#f30,#e00,#e00,#f40,#ff5,#ffe,#ffe,#ffe,#ff6,#f70,#f20,#f20,#f20,#f20,#f30,#f30,#f20,#e00,#b00,#a00,#a00,#c00,#e00,#f00,#f00,#d00,#800,#600,#600,#900,#c00,#e00,#e00,#b00,#700,#500,#500,#700,#b00,#d00,#d00,#a00,#600,#400,#400,#600,#a00,#d00,#d00,#c00,#800,#500,#400,#500,#900,#d00,#e00,#d00,#a00,#600,#500,#500,#b00,#f30,#f70,#f70,#f50,#e00,#900,#800,#800,#a00,#e00,#f10,#f20,#f10,#d00,#900,#800,#800,#900,#b00,#c00,#c00,#b00,#700,#500,#500,#600,#800,#a00,#a00,#900,#700,#400,#400,#400,#600,#700,#700,#700,#500,#300,#200,#200,#300,#400,#400,#400,#400,#300,#200,#200,#200,#400,#500,#500,#500,#400,#300,#300,#300,#500,#800,#800,#800,#500,#300,#300,#300,#700,#a00,#a00,#a00,#700,#400,#400,#400,#700,#b00,#c00,#c00,#a00,#700,#600,#600,#700,#b00,#e00,#e00,#e00,#c00,#a00,#900,#900,#b00,#f00,#f50,#f60,#f60,#f60,#f60,#f60,#f60)"></i><i style="top:8.00px;height:112.55px;-webkit-mask-image:linear-gradient(180deg,transparent 0.71px,#000 9.43px);mask-image:linear-gradient(180deg,transparent 0.71px,#000 9.43px);background:linear-gradient(90deg,#500,#500,#600,#800,#b00,#e00,#f20,#f30,#f30,#f30,#f30,#f30,#e00,#900,#300,#100,#100,#200,#700,#e00,#f40,#f50,#f50,#f50,#f50,#f20,#b00,#400,#100,#100,#200,#400,#700,#900,#b00,#b00,#b00,#800,#400,#100,#100,#100,#400,#700,#a00,#a00,#900,#600,#200,#100,#100,#200,#600,#a00,#a00,#a00,#600,#200,#100,#100,#600,#b00,#c00,#c00,#900,#500,#300,#300,#500,#b00,#f00,#f10,#f00,#a00,#600,#500,#500,#c00,#f50,#f80,#f80,#f40,#c00,#700,#700,#900,#e00,#f30,#f40,#f40,#f00,#b00,#a00,#a00,#e00,#f70,#fc0,#fc0,#fa0,#f40,#e00,#e00,#f20,#ff2,#ffe,#ffe,#ffe,#ff7,#f70,#f10,#f10,#f20,#f30,#f40,#f40,#f20,#e00,#a00,#a00,#a00,#c00,#f00,#f00,#f00,#c00,#700,#600,#700,#a00,#d00,#e00,#d00,#900,#600,#500,#500,#900,#c00,#d00,#c00,#900,#500,#400,#400,#700,#c00,#d00,#d00,#b00,#600,#400,#400,#700,#b00,#e00,#e00,#c00,#800,#500,#500,#800,#f10,#f60,#f70,#f60,#f10,#b00,#800,#800,#900,#c00,#f10,#f20,#f20,#e00,#a00,#800,#800,#900,#a00,#c00,#c00,#b00,#800,#500,#500,#500,#700,#a00,#a00,#a00,#700,#500,#400,#400,#500,#700,#700,#700,#600,#400,#200,#200,#300,#300,#400,#400,#400,#300,#200,#200,#200,#300,#500,#500,#500,#400,#300,#300,#300,#400,#700,#800,#800,#600,#400,#300,#300,#500,#800,#a00,#a00,#800,#500,#400,#400,#500,#900,#c00,#c00,#b00,#900,#600,#600,#600,#900,#c00,#e00,#e00,#d00,#b00,#a00,#900,#900,#c00,#f10,#f40,#f50,#f50,#f50,#f50,#f50,#f50)"></i><i style="top:17.00px;height:103.55px;-webkit-mask-image:linear-gradient(180deg,transparent 0.43px,#000 9.14px);mask-image:linear-gradient(180deg,transparent 0.43px,#000 9.14px);background:linear-gradient(90deg,#500,#500,#500,#700,#a00,#d00,#f00,#f20,#f20,#f20,#f20,#f20,#f10,#b00,#600,#200,#100,#100,#500,#a00,#f10,#f40,#f50,#f50,#f50,#f30,#d00,#600,#200,#100,#200,#300,#600,#900,#b00,#b00,#b00,#900,#500,#100,#100,#100,#300,#700,#a00,#a00,#a00,#600,#300,#100,#100,#200,#600,#a00,#a00,#a00,#600,#200,#100,#200,#600,#b00,#c00,#c00,#900,#400,#300,#300,#600,#c00,#f10,#f10,#e00,#900,#500,#500,#700,#f00,#f70,#f80,#f70,#f10,#a00,#700,#700,#b00,#f10,#f40,#f40,#f20,#d00,#a00,#a00,#c00,#f40,#fb0,#fc0,#fc0,#f70,#f10,#e00,#e00,#fa0,#ffb,#ffd,#ffd,#ffb,#fb0,#f10,#f10,#f10,#f30,#f40,#f50,#f40,#f00,#b00,#a00,#a00,#c00,#e00,#f00,#f00,#d00,#800,#600,#600,#900,#c00,#e00,#d00,#b00,#600,#500,#500,#800,#c00,#d00,#d00,#a00,#600,#400,#400,#600,#b00,#d00,#d00,#c00,#700,#400,#400,#600,#a00,#d00,#e00,#d00,#900,#600,#500,#600,#d00,#f50,#f70,#f70,#f30,#d00,#900,#800,#800,#b00,#e00,#f20,#f20,#f10,#c00,#900,#800,#800,#900,#b00,#c00,#c00,#a00,#700,#500,#500,#600,#800,#a00,#a00,#900,#600,#400,#400,#400,#600,#700,#700,#700,#600,#300,#200,#200,#300,#300,#400,#400,#400,#300,#200,#200,#200,#300,#500,#500,#500,#400,#300,#300,#300,#400,#700,#800,#800,#700,#400,#300,#300,#400,#800,#a00,#a00,#900,#600,#400,#400,#400,#800,#b00,#c00,#c00,#a00,#700,#600,#600,#700,#b00,#e00,#e00,#e00,#c00,#b00,#900,#900,#a00,#d00,#f20,#f40,#f40,#f40,#f40,#f40,#f40)"></i><i style="top:26.00px;height:94.55px;-webkit-mask-image:linear-gradient(180deg,transparent 0.14px,#000 8.85px);mask-image:linear-gradient(180deg,transparent 0.14px,#000 8.85px);background:linear-gradient(90deg,#500,#500,#500,#700,#a00,#c00,#e00,#f10,#f10,#f10,#f10,#f10,#e00,#a00,#500,#200,#100,#200,#600,#c00,#f10,#f30,#f30,#f30,#f30,#f00,#900,#400,#100,#100,#200,#400,#700,#a00,#b00,#b00,#a00,#700,#300,#100,#100,#200,#500,#900,#a00,#a00,#800,#400,#100,#100,#100,#500,#900,#a00,#a00,#800,#300,#100,#100,#400,#a00,#c00,#c00,#a00,#500,#300,#300,#500,#a00,#f00,#f10,#f00,#a00,#600,#500,#500,#c00,#f60,#f80,#f80,#f30,#b00,#700,#700,#a00,#f00,#f40,#f40,#f30,#e00,#b00,#a00,#a00,#f10,#f90,#fc0,#fc0,#f90,#f20,#e00,#e00,#f50,#ff6,#ffd,#ffd,#ffd,#ff1,#f30,#f10,#f10,#f30,#f50,#f50,#f50,#f30,#d00,#a00,#a00,#b00,#d00,#f00,#f00,#f00,#b00,#700,#600,#700,#a00,#d00,#e00,#d00,#900,#500,#500,#600,#900,#c00,#d00,#c00,#900,#500,#400,#400,#700,#b00,#d00,#d00,#b00,#700,#400,#400,#600,#a00,#d00,#e00,#d00,#900,#600,#500,#600,#d00,#f50,#f70,#f70,#f40,#d00,#900,#800,#800,#a00,#e00,#f10,#f20,#f10,#d00,#900,#800,#800,#900,#b00,#c00,#c00,#b00,#800,#500,#500,#500,#700,#a00,#a00,#a00,#800,#500,#400,#400,#500,#600,#700,#700,#700,#400,#300,#200,#300,#300,#400,#400,#400,#300,#300,#200,#200,#200,#400,#500,#500,#500,#400,#300,#300,#300,#500,#700,#800,#800,#600,#400,#300,#300,#500,#900,#a00,#a00,#800,#500,#400,#400,#500,#900,#c00,#c00,#c00,#900,#700,#600,#600,#800,#c00,#e00,#e00,#d00,#c00,#a00,#900,#900,#b00,#e00,#f20,#f30,#f30,#f30,#f30,#f30)"></i><i style="top:34.00px;height:86.55px;-webkit-mask-image:linear-gradient(180deg,transparent 0.85px,#000 9.57px);mask-image:linear-gradient(180deg,transparent 0.85px,#000 9.57px);background:linear-gradient(90deg,#500,#500,#500,#700,#a00,#d00,#f00,#f00,#f00,#f00,#f00,#e00,#a00,#600,#200,#200,#200,#500,#a00,#e00,#f20,#f20,#f20,#f20,#f00,#a00,#500,#200,#100,#200,#400,#600,#900,#b00,#b00,#b00,#800,#400,#100,#100,#100,#400,#800,#a00,#a00,#900,#500,#200,#100,#100,#300,#700,#a00,#a00,#900,#500,#100,#100,#200,#800,#c00,#c00,#b00,#800,#300,#300,#300,#700,#d00,#f10,#f10,#d00,#800,#500,#500,#700,#f00,#f70,#f80,#f70,#f10,#900,#700,#700,#b00,#f10,#f40,#f40,#f30,#e00,#a00,#a00,#b00,#f30,#fa0,#fd0,#fc0,#f80,#f20,#e00,#e00,#f50,#ff6,#ffc,#ffc,#ffc,#ff1,#f40,#f00,#f10,#f20,#f50,#f60,#f60,#f40,#e00,#a00,#a00,#a00,#c00,#f00,#f00,#f00,#c00,#800,#600,#600,#900,#d00,#e00,#d00,#b00,#600,#500,#500,#700,#b00,#d00,#d00,#b00,#700,#400,#400,#500,#900,#d00,#d00,#d00,#900,#500,#400,#500,#800,#c00,#e00,#e00,#b00,#800,#500,#500,#800,#f00,#f60,#f70,#f60,#f20,#c00,#800,#800,#900,#b00,#f00,#f20,#f20,#f10,#c00,#800,#800,#800,#900,#b00,#c00,#c00,#a00,#700,#500,#500,#600,#800,#a00,#a00,#900,#700,#500,#400,#400,#500,#700,#700,#700,#600,#400,#200,#200,#300,#300,#400,#400,#400,#300,#200,#200,#200,#300,#400,#500,#500,#500,#300,#300,#300,#400,#600,#800,#800,#700,#500,#300,#300,#400,#700,#a00,#a00,#900,#700,#400,#400,#400,#700,#b00,#c00,#c00,#a00,#700,#600,#600,#700,#b00,#e00,#e00,#e00,#c00,#a00,#900,#900,#a00,#d00,#f10,#f30,#f30,#f30,#f30,#f30)"></i><i style="top:43.00px;height:77.55px;-webkit-mask-image:linear-gradient(180deg,transparent 0.57px,#000 9.28px);mask-image:linear-gradient(180deg,transparent 0.57px,#000 9.28px);background:linear-gradient(90deg,#500,#500,#600,#800,#a00,#d00,#f00,#f00,#f00,#f00,#f00,#c00,#800,#400,#200,#200,#300,#600,#b00,#f00,#f10,#f10,#f10,#f10,#d00,#800,#300,#100,#100,#200,#400,#700,#a00,#b00,#b00,#b00,#700,#300,#100,#100,#100,#400,#800,#a00,#a00,#900,#500,#200,#100,#100,#300,#700,#a00,#a00,#a00,#600,#200,#100,#200,#700,#b00,#c00,#c00,#900,#400,#300,#300,#500,#b00,#f00,#f10,#f00,#a00,#600,#500,#500,#c00,#f50,#f80,#f80,#f40,#c00,#700,#700,#900,#d00,#f30,#f40,#f40,#f10,#c00,#a00,#a00,#d00,#f60,#fc0,#fd0,#fc0,#f60,#f00,#e00,#e00,#fa0,#ffa,#ffc,#ffc,#ffa,#fb0,#f10,#f00,#f10,#f30,#f60,#f70,#f70,#f40,#d00,#a00,#a00,#b00,#d00,#f00,#f00,#f00,#b00,#700,#600,#700,#a00,#d00,#e00,#d00,#900,#600,#500,#500,#800,#c00,#d00,#d00,#a00,#600,#400,#400,#600,#a00,#d00,#d00,#c00,#800,#500,#400,#500,#900,#d00,#e00,#d00,#a00,#600,#500,#500,#a00,#f30,#f70,#f70,#f50,#f00,#a00,#800,#800,#a00,#d00,#f10,#f20,#f20,#e00,#a00,#800,#800,#900,#b00,#c00,#c00,#b00,#800,#500,#500,#500,#700,#a00,#a00,#a00,#800,#500,#400,#400,#500,#600,#700,#700,#600,#400,#300,#200,#300,#300,#400,#400,#400,#300,#200,#200,#200,#300,#400,#500,#500,#500,#300,#300,#300,#400,#700,#800,#800,#700,#400,#300,#300,#500,#800,#a00,#a00,#900,#600,#400,#400,#500,#900,#c00,#c00,#b00,#900,#600,#600,#600,#900,#c00,#e00,#e00,#d00,#b00,#a00,#900,#900,#c00,#f00,#f30,#f30,#f30,#f30,#f30,#f30)"></i><i style="top:52.00px;height:68.55px;-webkit-mask-image:linear-gradient(180deg,transparent 0.28px,#000 8.99px);mask-image:linear-gradient(180deg,transparent 0.28px,#000 8.99px);background:linear-gradient(90deg,#500,#500,#600,#700,#a00,#d00,#e00,#f00,#f00,#f00,#f00,#d00,#a00,#500,#200,#200,#200,#500,#900,#d00,#f10,#f10,#f10,#f10,#f00,#b00,#600,#200,#100,#100,#300,#500,#800,#a00,#b00,#b00,#a00,#600,#200,#100,#100,#200,#600,#900,#a00,#a00,#800,#400,#100,#100,#100,#400,#800,#a00,#a00,#900,#400,#100,#100,#300,#800,#c00,#c00,#b00,#700,#300,#300,#300,#700,#d00,#f10,#f10,#e00,#900,#500,#500,#600,#e00,#f70,#f80,#f80,#f20,#a00,#700,#700,#a00,#f00,#f40,#f40,#f30,#f00,#b00,#a00,#a00,#f10,#f90,#fd0,#fd0,#fa0,#f40,#e00,#d00,#f20,#ff0,#ffb,#ffb,#ffb,#ff4,#f60,#f00,#f00,#f20,#f50,#f80,#f80,#f60,#f10,#b00,#a00,#a00,#c00,#e00,#f00,#f00,#d00,#800,#600,#600,#900,#c00,#e00,#e00,#b00,#700,#500,#500,#700,#b00,#d00,#d00,#a00,#600,#400,#400,#600,#a00,#d00,#d00,#c00,#800,#500,#400,#500,#900,#d00,#e00,#d00,#a00,#600,#500,#600,#b00,#f40,#f70,#f70,#f40,#e00,#900,#800,#800,#a00,#e00,#f20,#f20,#f10,#d00,#900,#800,#800,#900,#b00,#c00,#c00,#a00,#700,#500,#500,#600,#800,#a00,#a00,#900,#600,#400,#400,#400,#600,#700,#700,#700,#500,#300,#200,#200,#300,#400,#400,#400,#400,#300,#200,#200,#200,#400,#500,#500,#500,#400,#300,#300,#300,#600,#800,#800,#700,#500,#300,#300,#400,#700,#a00,#a00,#900,#600,#400,#400,#400,#800,#b00,#c00,#c00,#a00,#700,#600,#600,#800,#c00,#e00,#e00,#d00,#c00,#a00,#900,#900,#b00,#e00,#f20,#f30,#f30,#f30,#f30,#f30,#f30)"></i><i style="top:60.00px;height:60.55px;-webkit-mask-image:linear-gradient(180deg,transparent 0.99px,#000 9.71px);mask-image:linear-gradient(180deg,transparent 0.99px,#000 9.71px);background:linear-gradient(90deg,#500,#500,#500,#700,#900,#c00,#e00,#f00,#f00,#f00,#f00,#f00,#d00,#900,#400,#200,#200,#200,#600,#a00,#e00,#f10,#f10,#f10,#f10,#e00,#900,#400,#200,#100,#200,#300,#600,#900,#b00,#b00,#b00,#900,#400,#100,#100,#100,#300,#700,#a00,#a00,#a00,#600,#300,#100,#100,#200,#600,#a00,#a00,#a00,#700,#200,#100,#100,#500,#b00,#c00,#c00,#900,#500,#300,#300,#500,#b00,#f00,#f10,#f00,#a00,#600,#500,#500,#c00,#f50,#f80,#f80,#f40,#c00,#700,#700,#900,#e00,#f40,#f40,#f40,#f00,#b00,#a00,#a00,#f00,#f90,#fd0,#fe0,#fb0,#f40,#e00,#d00,#f20,#ff1,#ffa,#ffa,#ffa,#ff1,#f40,#f00,#f00,#f20,#f60,#f80,#f80,#f50,#f00,#a00,#a00,#b00,#d00,#f00,#f00,#f00,#b00,#700,#600,#700,#a00,#d00,#e00,#d00,#900,#500,#500,#600,#a00,#d00,#d00,#c00,#800,#500,#400,#500,#800,#c00,#d00,#d00,#a00,#600,#400,#500,#800,#c00,#e00,#e00,#b00,#700,#500,#500,#900,#f20,#f70,#f70,#f50,#f00,#a00,#800,#800,#a00,#d00,#f10,#f20,#f20,#e00,#a00,#800,#800,#900,#b00,#c00,#c00,#b00,#800,#500,#500,#500,#800,#a00,#a00,#a00,#700,#500,#400,#400,#500,#700,#700,#700,#600,#400,#200,#200,#300,#300,#400,#400,#400,#300,#200,#200,#200,#300,#500,#500,#500,#400,#300,#300,#300,#400,#700,#800,#800,#600,#400,#300,#300,#500,#900,#a00,#a00,#800,#500,#400,#400,#500,#900,#c00,#c00,#b00,#900,#600,#600,#600,#900,#c00,#e00,#e00,#d00,#c00,#a00,#900,#900,#b00,#e00,#f20,#f30,#f30,#f30,#f30,#f30,#f30)"></i><i style="top:69.00px;height:51.55px;-webkit-mask-image:linear-gradient(180deg,transparent 0.71px,#000 9.42px);mask-image:linear-gradient(180deg,transparent 0.71px,#000 9.42px);background:linear-gradient(90deg,#500,#500,#500,#700,#900,#b00,#d00,#f00,#f00,#f00,#f00,#f00,#e00,#a00,#600,#200,#200,#200,#500,#900,#e00,#f10,#f10,#f10,#f10,#f00,#a00,#500,#200,#100,#200,#300,#600,#900,#b00,#b00,#b00,#900,#500,#100,#100,#100,#400,#700,#a00,#a00,#a00,#600,#200,#100,#100,#300,#700,#a00,#b00,#a00,#600,#200,#100,#200,#700,#c00,#d00,#c00,#800,#400,#300,#300,#700,#d00,#f10,#f10,#d00,#800,#500,#500,#800,#f10,#f80,#f90,#f70,#f00,#900,#700,#800,#c00,#f20,#f40,#f40,#f20,#d00,#a00,#a00,#d00,#f60,#fd0,#fe0,#fd0,#f60,#f00,#d00,#f00,#fb0,#ff9,#ff9,#ff9,#ff5,#f70,#f00,#f00,#f20,#f60,#f80,#f80,#f70,#f10,#b00,#a00,#a00,#c00,#f00,#f00,#f00,#c00,#800,#600,#700,#900,#d00,#e00,#d00,#a00,#600,#500,#500,#800,#c00,#d00,#d00,#900,#500,#400,#400,#700,#b00,#d00,#d00,#b00,#700,#400,#400,#600,#b00,#e00,#e00,#d00,#900,#600,#500,#700,#d00,#f60,#f70,#f70,#f30,#d00,#900,#800,#900,#b00,#f00,#f20,#f20,#f10,#c00,#900,#800,#800,#a00,#b00,#c00,#c00,#a00,#700,#500,#500,#600,#800,#a00,#a00,#900,#700,#400,#400,#400,#600,#700,#700,#700,#600,#400,#200,#200,#300,#300,#400,#400,#400,#300,#200,#200,#200,#300,#500,#500,#500,#500,#300,#300,#300,#400,#700,#800,#800,#700,#500,#300,#300,#400,#700,#a00,#a00,#900,#700,#400,#400,#400,#700,#b00,#c00,#c00,#a00,#800,#600,#600,#700,#a00,#e00,#e00,#e00,#d00,#b00,#a00,#900,#a00,#c00,#f00,#f20,#f30,#f30,#f30,#f20,#f20)"></i><i style="top:78.00px;height:42.55px;-webkit-mask-image:linear-gradient(180deg,transparent 0.42px,#000 9.14px);mask-image:linear-gradient(180deg,transparent 0.42px,#000 9.14px);background:linear-gradient(90deg,#500,#500,#500,#700,#900,#c00,#e00,#f00,#f00,#f00,#f00,#f00,#d00,#900,#400,#200,#200,#300,#700,#c00,#f00,#f10,#f10,#f10,#f10,#d00,#800,#300,#100,#100,#200,#500,#800,#a00,#c00,#c00,#a00,#600,#200,#100,#100,#200,#600,#900,#a00,#a00,#700,#300,#100,#100,#200,#600,#a00,#b00,#b00,#700,#200,#100,#100,#600,#b00,#d00,#d00,#900,#500,#300,#300,#600,#c00,#f10,#f10,#f00,#a00,#500,#500,#600,#e00,#f70,#f90,#f80,#f30,#a00,#700,#700,#a00,#f10,#f50,#f50,#f40,#e00,#b00,#a00,#b00,#f30,#fc0,#ff0,#ff0,#fa0,#f20,#e00,#e00,#f50,#ff4,#ff9,#ff9,#ff8,#fd0,#f20,#f00,#f10,#f40,#f80,#f90,#f90,#f60,#e00,#a00,#a00,#b00,#d00,#f00,#f10,#f00,#b00,#700,#700,#700,#b00,#e00,#e00,#d00,#900,#600,#500,#600,#900,#d00,#d00,#d00,#900,#500,#400,#400,#700,#c00,#e00,#e00,#c00,#700,#500,#400,#600,#a00,#e00,#e00,#d00,#a00,#600,#500,#600,#c00,#f50,#f80,#f80,#f50,#e00,#a00,#800,#800,#a00,#e00,#f20,#f20,#f20,#e00,#a00,#800,#800,#900,#b00,#c00,#c00,#c00,#900,#600,#500,#500,#700,#a00,#a00,#a00,#800,#600,#400,#400,#500,#600,#700,#700,#700,#500,#300,#300,#300,#300,#400,#400,#400,#400,#300,#200,#200,#200,#400,#500,#500,#500,#400,#300,#300,#300,#500,#700,#800,#800,#700,#400,#300,#300,#500,#900,#a00,#a00,#900,#600,#400,#400,#500,#800,#c00,#c00,#c00,#a00,#700,#600,#600,#800,#c00,#e00,#e00,#e00,#c00,#b00,#a00,#a00,#b00,#d00,#f20,#f30,#f30,#f30,#f20,#f20)"></i><i style="top:87.00px;height:33.55px;-webkit-mask-image:linear-gradient(180deg,transparent 0.14px,#000 8.85px);mask-image:linear-gradient(180deg,transparent 0.14px,#000 8.85px);background:linear-gradient(90deg,#500,#500,#600,#800,#a00,#d00,#f00,#f10,#f10,#f10,#f10,#e00,#a00,#500,#200,#200,#200,#600,#a00,#f00,#f20,#f20,#f20,#f20,#e00,#900,#400,#100,#100,#200,#400,#700,#a00,#c00,#c00,#b00,#800,#400,#100,#100,#100,#500,#800,#a00,#a00,#900,#500,#200,#100,#100,#400,#800,#b00,#b00,#a00,#500,#100,#100,#300,#800,#d00,#d00,#c00,#800,#400,#300,#300,#700,#e00,#f10,#f10,#e00,#900,#500,#500,#700,#f10,#f80,#f90,#f80,#f20,#a00,#800,#800,#b00,#f20,#f50,#f50,#f40,#f00,#b00,#a00,#b00,#f30,#fc0,#ff1,#ff1,#fb0,#f40,#e00,#e00,#f30,#ff1,#ff8,#ff8,#ff8,#ff0,#f50,#f00,#f10,#f30,#f70,#fa0,#fa0,#f80,#f20,#b00,#a00,#b00,#d00,#f00,#f10,#f10,#d00,#900,#700,#700,#900,#d00,#e00,#e00,#c00,#700,#500,#500,#700,#b00,#d00,#d00,#c00,#800,#400,#400,#500,#900,#d00,#e00,#e00,#a00,#600,#500,#500,#700,#c00,#e00,#e00,#d00,#900,#600,#600,#700,#e00,#f70,#f80,#f80,#f40,#d00,#900,#800,#900,#b00,#f00,#f20,#f30,#f20,#d00,#900,#800,#800,#a00,#b00,#d00,#d00,#b00,#800,#500,#500,#600,#800,#a00,#a00,#a00,#800,#500,#400,#400,#500,#700,#800,#800,#700,#400,#300,#300,#300,#300,#400,#400,#400,#300,#200,#200,#200,#300,#400,#500,#500,#500,#400,#300,#300,#400,#600,#800,#800,#800,#500,#300,#300,#400,#700,#a00,#a00,#a00,#700,#400,#400,#400,#800,#b00,#d00,#c00,#b00,#800,#600,#600,#800,#c00,#e00,#f00,#e00,#d00,#b00,#a00,#a00,#b00,#e00,#f20,#f30,#f30,#f30,#f20,#f20)"></i><i style="top:95.00px;height:25.55px;-webkit-mask-image:linear-gradient(180deg,transparent 0.85px,#000 9.56px);mask-image:linear-gradient(180deg,transparent 0.85px,#000 9.56px);background:linear-gradient(90deg,#500,#500,#600,#800,#b00,#e00,#f10,#f10,#f10,#f10,#f10,#d00,#900,#400,#200,#200,#300,#700,#c00,#f10,#f20,#f20,#f20,#f20,#e00,#900,#400,#100,#100,#200,#400,#700,#a00,#c00,#c00,#c00,#800,#400,#100,#100,#100,#400,#800,#a00,#b00,#a00,#600,#200,#100,#100,#300,#700,#a00,#b00,#b00,#700,#200,#100,#100,#600,#c00,#d00,#d00,#a00,#500,#300,#300,#500,#b00,#f10,#f20,#f10,#c00,#700,#500,#500,#b00,#f50,#fa0,#fa0,#f70,#e00,#800,#800,#900,#d00,#f40,#f50,#f50,#f30,#d00,#b00,#a00,#d00,#f70,#ff0,#ff2,#ff1,#fa0,#f20,#e00,#e00,#f70,#ff4,#ff7,#ff7,#ff7,#fc0,#f30,#f10,#f10,#f40,#f90,#fa0,#fa0,#f70,#f10,#b00,#b00,#b00,#d00,#f10,#f10,#f10,#c00,#800,#700,#700,#a00,#e00,#f00,#e00,#b00,#600,#500,#600,#800,#c00,#e00,#e00,#b00,#600,#400,#400,#600,#b00,#e00,#e00,#d00,#900,#500,#500,#500,#a00,#e00,#f00,#e00,#b00,#700,#600,#600,#b00,#f40,#f80,#f80,#f60,#f10,#a00,#800,#900,#a00,#e00,#f20,#f30,#f30,#f00,#a00,#800,#800,#900,#b00,#d00,#d00,#c00,#900,#600,#500,#600,#800,#a00,#b00,#a00,#800,#500,#400,#400,#500,#700,#800,#800,#700,#400,#300,#300,#300,#400,#400,#400,#400,#300,#200,#200,#200,#300,#500,#600,#600,#500,#300,#300,#300,#400,#700,#900,#900,#700,#400,#300,#300,#500,#900,#b00,#b00,#900,#600,#400,#400,#600,#a00,#d00,#d00,#c00,#900,#600,#600,#700,#a00,#e00,#f00,#f00,#e00,#c00,#a00,#a00,#a00,#d00,#f10,#f30,#f30,#f30,#f30,#f20,#f20)"></i><i style="top:104.00px;height:16.55px;-webkit-mask-image:linear-gradient(180deg,transparent 0.56px,#000 3.55px);mask-image:linear-gradient(180deg,transparent 0.56px,#000 3.55px);background:linear-gradient(90deg,#500,#500,#600,#800,#c00,#f00,#f10,#f10,#f10,#f10,#f00,#b00,#600,#300,#200,#200,#300,#700,#c00,#f10,#f20,#f20,#f20,#f10,#c00,#700,#200,#100,#100,#200,#400,#800,#a00,#c00,#c00,#b00,#700,#300,#100,#100,#100,#400,#800,#b00,#b00,#900,#500,#100,#100,#100,#300,#700,#b00,#b00,#a00,#500,#100,#100,#100,#600,#c00,#d00,#d00,#900,#400,#300,#300,#500,#b00,#f10,#f20,#f00,#a00,#600,#500,#500,#b00,#f50,#fa0,#fa0,#f50,#c00,#800,#800,#900,#d00,#f40,#f60,#f50,#f20,#c00,#b00,#b00,#d00,#f70,#ff0,#ff2,#ff0,#f70,#f00,#e00,#e00,#f70,#ff4,#ff7,#ff7,#ff4,#f80,#f10,#f10,#f10,#f50,#f90,#fb0,#fa0,#f50,#d00,#b00,#b00,#b00,#e00,#f10,#f10,#f00,#a00,#700,#700,#700,#b00,#e00,#f00,#d00,#900,#600,#500,#600,#900,#d00,#e00,#d00,#900,#500,#400,#400,#700,#c00,#e00,#e00,#b00,#700,#500,#500,#600,#b00,#e00,#f00,#d00,#900,#600,#600,#600,#d00,#f60,#f90,#f80,#f30,#c00,#900,#900,#900,#c00,#f00,#f30,#f30,#f10,#c00,#900,#800,#900,#a00,#c00,#d00,#d00,#a00,#600,#500,#500,#600,#900,#b00,#b00,#900,#600,#400,#400,#500,#600,#800,#800,#700,#500,#300,#300,#300,#300,#400,#400,#400,#400,#300,#200,#200,#300,#400,#500,#600,#500,#400,#300,#300,#300,#600,#800,#900,#700,#500,#300,#300,#400,#800,#b00,#b00,#900,#600,#400,#400,#500,#800,#c00,#d00,#c00,#a00,#700,#600,#600,#800,#c00,#f00,#f00,#e00,#c00,#a00,#a00,#a00,#b00,#f00,#f30,#f30,#f30,#f30,#f20,#f20,#f20)"></i><i style="top:107.00px;height:13.55px;-webkit-mask-image:linear-gradient(180deg,transparent 0.55px,#000 3.54px);mask-image:linear-gradient(180deg,transparent 0.55px,#000 3.54px);background:linear-gradient(90deg,#500,#500,#600,#900,#c00,#f00,#f10,#f10,#f10,#f10,#d00,#800,#400,#200,#200,#200,#400,#900,#e00,#f20,#f20,#f20,#f20,#e00,#900,#400,#100,#100,#100,#300,#500,#900,#b00,#c00,#c00,#900,#400,#100,#100,#100,#200,#600,#900,#b00,#a00,#700,#300,#100,#100,#100,#400,#900,#b00,#b00,#700,#200,#100,#100,#200,#800,#d00,#d00,#b00,#600,#300,#300,#300,#600,#d00,#f20,#f20,#d00,#700,#500,#500,#600,#e00,#f80,#fa0,#f80,#f00,#900,#800,#800,#a00,#f00,#f50,#f60,#f40,#e00,#b00,#b00,#b00,#f10,#fb0,#ff2,#ff2,#fa0,#f20,#e00,#e00,#f00,#fb0,#ff7,#ff7,#ff6,#fc0,#f20,#f10,#f10,#f20,#f70,#fa0,#fb0,#f70,#f00,#b00,#b00,#b00,#c00,#f00,#f10,#f10,#c00,#700,#700,#700,#900,#d00,#f00,#e00,#a00,#600,#500,#500,#700,#c00,#e00,#d00,#a00,#500,#400,#400,#500,#a00,#e00,#e00,#c00,#700,#500,#500,#500,#900,#e00,#f00,#d00,#900,#600,#600,#600,#a00,#f40,#f90,#f80,#f40,#d00,#900,#900,#900,#a00,#e00,#f30,#f30,#f20,#c00,#900,#800,#800,#a00,#c00,#d00,#d00,#a00,#600,#500,#500,#600,#900,#b00,#b00,#900,#600,#400,#400,#500,#600,#700,#800,#700,#500,#300,#300,#300,#300,#400,#400,#400,#400,#200,#200,#200,#200,#400,#500,#600,#500,#300,#300,#300,#300,#600,#800,#900,#700,#400,#300,#300,#300,#700,#a00,#b00,#900,#600,#400,#400,#400,#700,#c00,#d00,#c00,#900,#700,#600,#600,#800,#c00,#f00,#f00,#e00,#c00,#a00,#a00,#a00,#b00,#e00,#f20,#f30,#f30,#f30,#f30,#f20,#f20,#f20)"></i><i style="top:110.00px;height:10.55px;-webkit-mask-image:linear-gradient(180deg,transparent 0.54px,#000 3.53px);mask-image:linear-gradient(180deg,transparent 0.54px,#000 3.53px);background:linear-gradient(90deg,#500,#500,#600,#900,#d00,#f10,#f10,#f10,#f10,#e00,#900,#400,#200,#200,#200,#300,#600,#b00,#f00,#f20,#f20,#f20,#f00,#a00,#500,#200,#100,#100,#200,#400,#700,#a00,#c00,#c00,#a00,#500,#200,#100,#100,#100,#300,#800,#b00,#b00,#800,#400,#100,#100,#100,#200,#600,#a00,#b00,#900,#400,#100,#100,#100,#500,#b00,#d00,#c00,#700,#300,#300,#300,#400,#a00,#f10,#f20,#e00,#800,#500,#500,#500,#900,#f40,#fa0,#f90,#f20,#a00,#800,#800,#800,#d00,#f40,#f60,#f40,#f00,#b00,#b00,#b00,#c00,#f70,#ff0,#ff3,#fc0,#f30,#e00,#e00,#e00,#f60,#ff4,#ff6,#ff6,#fc0,#f20,#f10,#f10,#f10,#f50,#fa0,#fb0,#f80,#f00,#b00,#b00,#b00,#c00,#e00,#f10,#f10,#c00,#700,#700,#700,#800,#c00,#f00,#e00,#a00,#600,#500,#500,#600,#b00,#e00,#d00,#900,#500,#400,#400,#500,#900,#e00,#e00,#b00,#600,#500,#500,#500,#800,#d00,#f00,#d00,#800,#600,#600,#600,#900,#f40,#f90,#f80,#f30,#b00,#900,#900,#900,#a00,#e00,#f30,#f30,#f10,#b00,#900,#900,#900,#900,#c00,#d00,#d00,#900,#600,#500,#500,#600,#900,#b00,#b00,#800,#500,#400,#400,#500,#600,#700,#800,#700,#400,#300,#300,#300,#300,#400,#400,#400,#300,#200,#200,#200,#200,#400,#500,#600,#500,#300,#300,#300,#300,#500,#800,#900,#700,#400,#300,#300,#300,#700,#a00,#b00,#900,#500,#400,#400,#400,#700,#b00,#d00,#c00,#900,#600,#600,#600,#700,#b00,#f00,#f00,#e00,#c00,#a00,#a00,#a00,#b00,#d00,#f20,#f30,#f30,#f30,#f30,#f30,#f20,#f20,#f20)"></i><i style="top:113.00px;height:7.55px;-webkit-mask-image:linear-gradient(180deg,transparent 0.53px,#000 3.51px);mask-image:linear-gradient(180deg,transparent 0.53px,#000 3.51px);background:linear-gradient(90deg,#500,#500,#600,#b00,#f00,#f20,#f20,#f20,#e00,#a00,#500,#200,#200,#200,#200,#400,#900,#e00,#f20,#f20,#f20,#f10,#b00,#500,#200,#100,#100,#100,#300,#500,#900,#b00,#c00,#b00,#600,#200,#100,#100,#100,#200,#600,#a00,#b00,#900,#400,#100,#100,#100,#100,#400,#900,#b00,#900,#400,#100,#100,#100,#300,#900,#d00,#c00,#700,#300,#300,#300,#300,#700,#e00,#f20,#e00,#800,#500,#500,#500,#700,#f20,#fa0,#f90,#f20,#900,#800,#800,#800,#b00,#f30,#f60,#f40,#e00,#b00,#b00,#b00,#b00,#f50,#fe0,#ff3,#fb0,#f20,#e00,#e00,#e00,#f40,#ff2,#ff6,#ff6,#fa0,#f20,#f10,#f10,#f10,#f50,#fa0,#fb0,#f70,#e00,#b00,#b00,#b00,#c00,#e00,#f10,#f10,#b00,#700,#700,#700,#800,#c00,#f00,#d00,#800,#500,#500,#500,#600,#b00,#e00,#d00,#800,#400,#400,#400,#500,#900,#e00,#e00,#a00,#500,#500,#500,#500,#900,#e00,#f00,#b00,#700,#600,#600,#600,#a00,#f50,#f90,#f70,#f00,#a00,#900,#900,#900,#b00,#f00,#f30,#f30,#e00,#a00,#900,#900,#900,#a00,#c00,#d00,#c00,#700,#500,#500,#500,#600,#900,#b00,#a00,#700,#500,#400,#400,#500,#600,#800,#800,#600,#300,#300,#300,#300,#300,#400,#400,#400,#300,#200,#200,#200,#200,#400,#500,#600,#400,#300,#300,#300,#300,#600,#800,#800,#600,#300,#300,#300,#300,#700,#a00,#b00,#800,#500,#400,#400,#400,#700,#b00,#d00,#c00,#800,#600,#600,#600,#700,#b00,#f00,#f00,#e00,#b00,#a00,#a00,#a00,#a00,#d00,#f20,#f30,#f30,#f30,#f30,#f30,#f20,#f20,#f20,#f20)"></i><i style="top:116.00px;height:4.55px;-webkit-mask-image:linear-gradient(180deg,transparent 0.51px,#000 3.50px);mask-image:linear-gradient(180deg,transparent 0.51px,#000 3.50px);background:linear-gradient(90deg,#500,#500,#700,#c00,#f10,#f20,#f20,#e00,#a00,#500,#200,#200,#200,#200,#300,#700,#c00,#f10,#f30,#f30,#f10,#b00,#500,#200,#100,#100,#100,#200,#500,#800,#b00,#c00,#b00,#600,#200,#100,#100,#100,#100,#500,#900,#b00,#900,#400,#100,#100,#100,#100,#300,#800,#b00,#900,#300,#100,#100,#100,#200,#800,#d00,#c00,#700,#300,#300,#300,#300,#700,#e00,#f20,#d00,#700,#500,#500,#500,#600,#f10,#fa0,#f90,#f00,#800,#800,#800,#800,#b00,#f30,#f60,#f30,#d00,#b00,#b00,#b00,#b00,#f50,#ff0,#ff2,#f80,#f00,#e00,#e00,#e00,#f40,#ff2,#ff6,#ff3,#f60,#f10,#f10,#f10,#f10,#f60,#fa0,#fb0,#f40,#c00,#b00,#b00,#b00,#c00,#f00,#f20,#e00,#800,#700,#700,#700,#800,#d00,#f00,#b00,#600,#600,#600,#600,#700,#c00,#e00,#b00,#600,#400,#400,#400,#500,#a00,#e00,#d00,#700,#500,#500,#500,#500,#a00,#f00,#e00,#900,#600,#600,#600,#600,#c00,#f60,#f90,#f40,#c00,#900,#900,#900,#900,#b00,#f10,#f30,#f20,#c00,#900,#900,#900,#900,#a00,#c00,#d00,#a00,#600,#500,#500,#500,#600,#900,#b00,#900,#600,#400,#400,#400,#500,#600,#800,#700,#500,#300,#300,#300,#300,#300,#400,#400,#400,#200,#200,#200,#200,#200,#400,#600,#500,#400,#300,#300,#300,#300,#600,#900,#800,#500,#300,#300,#300,#300,#700,#b00,#a00,#700,#400,#400,#400,#400,#700,#b00,#d00,#b00,#700,#600,#600,#600,#700,#b00,#f00,#f00,#d00,#b00,#a00,#a00,#a00,#a00,#d00,#f10,#f30,#f30,#f30,#f30,#f30,#f30,#f20,#f20,#f20,#f20)"></i></div>
<div class="a" style="left:513.5px;top:372.6px;width:7.0px;height:119.4px;background:linear-gradient(180deg,#ffffff,#ffffe6,#ffffcd,#ffffb4,#ffff9b,#ffff82,#ffff6a,#ffff51,#ffff38,#ffff1f,#ffff06,#fff200,#ffe200,#ffd100,#ffc000,#ffb000,#ff9f00,#ff8f00,#ff7e00,#ff6d00,#ff5d00,#ff4c00,#ff3c00,#ff2b00,#ff1a00,#ff0a00,#f80000,#e80000,#d70000,#c60000,#b60000,#a50000,#950000,#840000,#730000,#630000,#520000,#410000,#310000,#200000,#100000);box-shadow:0 0 0 0.6px rgba(150,150,175,.35)"></div>
<div class="tk" style="left:524.00px;top:476.55px;font-size:11.50px">0.1</div>
<div class="tk" style="left:524.00px;top:464.39px;font-size:11.50px">0.2</div>
<div class="tk" style="left:524.00px;top:452.23px;font-size:11.50px">0.3</div>
<div class="tk" style="left:524.00px;top:440.06px;font-size:11.50px">0.4</div>
<div class="tk" style="left:524.00px;top:427.90px;font-size:11.50px">0.5</div>
<div class="tk" style="left:524.00px;top:415.74px;font-size:11.50px">0.6</div>
<div class="tk" style="left:524.00px;top:403.57px;font-size:11.50px">0.7</div>
<div class="tk" style="left:524.00px;top:391.41px;font-size:11.50px">0.8</div>
<div class="tk" style="left:524.00px;top:379.25px;font-size:11.50px">0.9</div>
<div class="tk" style="left:524.90px;top:365.25px;font-size:11.50px">1</div>
<div class="tk" style="left:367.10px;top:487.15px;font-size:11.50px;transform:translateX(-100%)">1</div>
<div class="tk" style="left:367.30px;top:469.81px;font-size:11.50px;transform:translateX(-100%)">2</div>
<div class="tk" style="left:367.30px;top:452.46px;font-size:11.50px;transform:translateX(-100%)">3</div>
<div class="tk" style="left:367.30px;top:435.12px;font-size:11.50px;transform:translateX(-100%)">4</div>
<div class="tk" style="left:367.30px;top:417.78px;font-size:11.50px;transform:translateX(-100%)">5</div>
<div class="tk" style="left:367.30px;top:400.44px;font-size:11.50px;transform:translateX(-100%)">6</div>
<div class="tk" style="left:367.30px;top:383.09px;font-size:11.50px;transform:translateX(-100%)">7</div>
<div class="tk" style="left:367.30px;top:365.75px;font-size:11.50px;transform:translateX(-100%)">8</div>
<div class="tk" style="left:372.90px;top:497.05px;font-size:11.50px;transform:translateX(-50%)">0</div>
<div class="tk" style="left:399.90px;top:497.05px;font-size:11.50px;transform:translateX(-50%)">0.2</div>
<div class="tk" style="left:426.90px;top:497.05px;font-size:11.50px;transform:translateX(-50%)">0.4</div>
<div class="tk" style="left:453.90px;top:497.05px;font-size:11.50px;transform:translateX(-50%)">0.6</div>
<div class="tk" style="left:480.90px;top:497.05px;font-size:11.50px;transform:translateX(-50%)">0.8</div>
<div class="tk" style="left:507.90px;top:497.05px;font-size:11.50px;transform:translateX(-50%)">1</div>
<div class="tk" style="left:384.30px;top:510.27px;font-size:11.50px">Position along beam (x/L)</div>
<div class="tk" style="left:353.52px;top:433.20px;font-size:11.50px;transform:translate(-50%,-50%) rotate(-90deg)">Scale</div>
</body></html>
